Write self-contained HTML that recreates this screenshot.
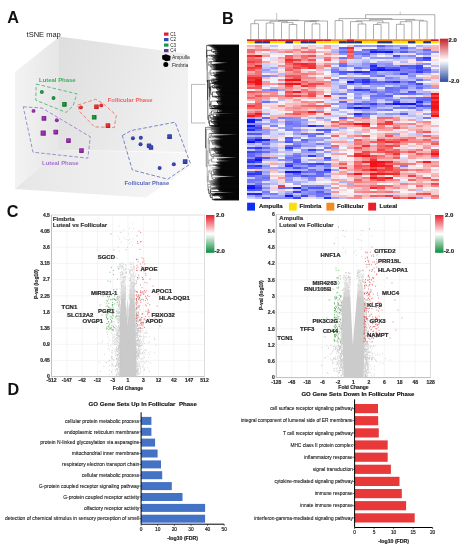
<!DOCTYPE html><html><head><meta charset="utf-8"><style>html,body{margin:0;padding:0;background:#fff;}svg{display:block;}</style></head><body><svg width="467" height="550" viewBox="0 0 467 550" style="filter:blur(0.35px)"><rect width="467" height="550" fill="#fff"/><g id="A"><defs><linearGradient id="gBack" x1="0" y1="0" x2="1" y2="0.3"><stop offset="0" stop-color="#dedede"/><stop offset="0.55" stop-color="#e8e8e8"/><stop offset="1" stop-color="#f1f1f1"/></linearGradient><linearGradient id="gLeft" x1="0" y1="0" x2="1" y2="0"><stop offset="0" stop-color="#f3f3f3"/><stop offset="1" stop-color="#e6e6e6"/></linearGradient><linearGradient id="gFloor" x1="0" y1="0" x2="1" y2="0"><stop offset="0" stop-color="#e6e6e6"/><stop offset="1" stop-color="#f7f7f7"/></linearGradient><radialGradient id="sR" cx="0.4" cy="0.4" r="0.65"><stop offset="0" stop-color="#f04040"/><stop offset="1" stop-color="#c81818"/></radialGradient><radialGradient id="sG" cx="0.4" cy="0.4" r="0.65"><stop offset="0" stop-color="#28a848"/><stop offset="1" stop-color="#0e6e2a"/></radialGradient><radialGradient id="sP" cx="0.4" cy="0.4" r="0.65"><stop offset="0" stop-color="#a838bc"/><stop offset="1" stop-color="#76208c"/></radialGradient><radialGradient id="sB" cx="0.4" cy="0.4" r="0.65"><stop offset="0" stop-color="#4050bc"/><stop offset="1" stop-color="#28349a"/></radialGradient></defs><polygon points="15,72 59,37 59,150 15,189" fill="url(#gLeft)"/><polygon points="59,36.5 188,54 188,152 59,150" fill="url(#gBack)"/><polygon points="15,189 59,150 188,153 188,168 146,197.5" fill="url(#gFloor)"/><text x="7.2" y="23.3" style="font-family:'Liberation Sans',Arial,sans-serif;font-weight:bold;font-size:16.2px" fill="#111">A</text><text x="26.6" y="37.2" style="font-family:'Liberation Sans',Arial,sans-serif;font-size:7.5px" fill="#222">tSNE map</text><polygon points="36.2,84.1 76.9,93.8 73,106 66,112.4 35.8,100.2" fill="none" stroke="#5cb880" stroke-width="0.95" stroke-dasharray="3.6,2"/><polygon points="77.7,105.1 95.7,99.3 103.4,103.8 116.3,115.3 114.3,127.6 94.4,126.9 79.6,111.5" fill="none" stroke="#ee7a7a" stroke-width="0.95" stroke-dasharray="3.6,2"/><polygon points="23.2,106.8 42,108 90.3,136.8 87.8,158.2 33,152.2" fill="none" stroke="#9a88c8" stroke-width="0.95" stroke-dasharray="3.6,2"/><polygon points="122.3,135.5 131.4,130.5 175.1,122.2 190.5,163.7 167.8,179.2 132.3,170" fill="none" stroke="#7080c0" stroke-width="0.95" stroke-dasharray="3.6,2"/><circle cx="41.8" cy="91.9" r="1.95" fill="url(#sG)"/><circle cx="53.5" cy="98" r="1.95" fill="url(#sG)"/><rect x="62.1" y="102.1" width="4.6" height="4.6" rx="0.6" fill="url(#sG)"/><circle cx="80.9" cy="107.4" r="1.95" fill="url(#sR)"/><rect x="94.1" y="104.4" width="4.6" height="4.6" rx="0.6" fill="url(#sR)"/><circle cx="101.2" cy="105.4" r="1.95" fill="url(#sR)"/><rect x="105.6" y="123.3" width="4.6" height="4.6" rx="0.6" fill="url(#sR)"/><rect x="91.9" y="115.0" width="4.6" height="4.6" rx="0.6" fill="url(#sG)"/><circle cx="33.5" cy="110.9" r="1.95" fill="url(#sP)"/><rect x="41.6" y="116.1" width="4.7" height="4.7" rx="0.6" fill="url(#sP)"/><circle cx="56.8" cy="120.2" r="1.95" fill="url(#sP)"/><rect x="40.6" y="130.6" width="5.2" height="5.2" rx="0.6" fill="url(#sP)"/><rect x="53.4" y="129.7" width="4.7" height="4.7" rx="0.6" fill="url(#sP)"/><rect x="66.1" y="138.2" width="4.7" height="4.7" rx="0.6" fill="url(#sP)"/><rect x="79.1" y="148.2" width="4.7" height="4.7" rx="0.6" fill="url(#sP)"/><circle cx="132.9" cy="138.2" r="2.0" fill="url(#sB)"/><circle cx="140.8" cy="137.7" r="2.0" fill="url(#sB)"/><circle cx="140.5" cy="144.2" r="2.0" fill="url(#sB)"/><rect x="146.8" y="143.4" width="4.5" height="4.5" rx="0.6" fill="url(#sB)"/><rect x="148.7" y="145.3" width="4.5" height="4.5" rx="0.6" fill="url(#sB)"/><rect x="167.2" y="134.3" width="4.7" height="4.7" rx="0.6" fill="url(#sB)"/><circle cx="159.6" cy="167.9" r="2.0" fill="url(#sB)"/><circle cx="173.8" cy="164.2" r="2.0" fill="url(#sB)"/><rect x="182.8" y="159.2" width="4.7" height="4.7" rx="0.6" fill="url(#sB)"/><text x="39" y="81.8" style="font-family:'Liberation Sans',Arial,sans-serif;font-weight:bold;font-size:5.95px" fill="#3cae64">Luteal Phase</text><text x="107.8" y="101.7" style="font-family:'Liberation Sans',Arial,sans-serif;font-weight:bold;font-size:5.85px" fill="#ec5f5f">Follicular Phase</text><text x="42" y="165.2" style="font-family:'Liberation Sans',Arial,sans-serif;font-weight:bold;font-size:5.95px" fill="#a474cc">Luteal Phase</text><text x="124.5" y="185.4" style="font-family:'Liberation Sans',Arial,sans-serif;font-weight:bold;font-size:5.85px" fill="#5566bc">Follicular Phase</text><rect x="164" y="32.5" width="4.5" height="3.2" fill="#d81e3c"/><text x="170.3" y="35.7" style="font-family:'Liberation Sans',Arial,sans-serif;font-size:4.6px" fill="#222">C1</text><rect x="164" y="38.0" width="4.5" height="3.2" fill="#2d4fb0"/><text x="170.3" y="41.2" style="font-family:'Liberation Sans',Arial,sans-serif;font-size:4.6px" fill="#222">C2</text><rect x="164" y="43.5" width="4.5" height="3.2" fill="#1a9a4a"/><text x="170.3" y="46.7" style="font-family:'Liberation Sans',Arial,sans-serif;font-size:4.6px" fill="#222">C3</text><rect x="164" y="49.0" width="4.5" height="3.2" fill="#6a2aa0"/><text x="170.3" y="52.2" style="font-family:'Liberation Sans',Arial,sans-serif;font-size:4.6px" fill="#222">C4</text><path d="M162,55.5 L166,54.2 L170.6,56 L170.2,60.4 L166,61.2 L162.3,59.2 Z" fill="#000"/><circle cx="165.8" cy="64.4" r="2.5" fill="#000"/><text x="172" y="59.2" style="font-family:'Liberation Sans',Arial,sans-serif;font-size:4.9px" fill="#222">Ampulla</text><text x="172" y="66.5" style="font-family:'Liberation Sans',Arial,sans-serif;font-size:4.9px" fill="#222">Fimbria</text></g><g id="B"><text x="222" y="23.5" style="font-family:'Liberation Sans',Arial,sans-serif;font-weight:bold;font-size:16.2px" fill="#111">B</text><g shape-rendering="crispEdges"><rect x="247.00" y="44.70" width="7.71" height="2.06" fill="#f7b5b7"/><rect x="254.66" y="44.70" width="7.71" height="2.06" fill="#f59295"/><rect x="262.33" y="44.70" width="7.71" height="2.06" fill="#f8dfe1"/><rect x="269.99" y="44.70" width="7.71" height="2.06" fill="#c3c5f9"/><rect x="277.66" y="44.70" width="7.71" height="2.06" fill="#f9f3f5"/><rect x="285.32" y="44.70" width="7.71" height="2.06" fill="#f7f7fb"/><rect x="292.98" y="44.70" width="7.71" height="2.06" fill="#f8d9db"/><rect x="300.65" y="44.70" width="7.71" height="2.06" fill="#ebebfb"/><rect x="308.31" y="44.70" width="7.71" height="2.06" fill="#f8cdd0"/><rect x="315.98" y="44.70" width="7.71" height="2.06" fill="#e9e9fb"/><rect x="323.64" y="44.70" width="7.71" height="2.06" fill="#f69fa2"/><rect x="331.30" y="44.70" width="7.71" height="2.06" fill="#d4d6fa"/><rect x="338.97" y="44.70" width="7.71" height="2.06" fill="#f9f6f8"/><rect x="346.63" y="44.70" width="7.71" height="2.06" fill="#f7c1c4"/><rect x="354.30" y="44.70" width="7.71" height="2.06" fill="#888cf6"/><rect x="361.96" y="44.70" width="7.71" height="2.06" fill="#9699f7"/><rect x="369.62" y="44.70" width="7.71" height="2.06" fill="#979af7"/><rect x="377.29" y="44.70" width="7.71" height="2.06" fill="#575cf3"/><rect x="384.95" y="44.70" width="7.71" height="2.06" fill="#8588f6"/><rect x="392.62" y="44.70" width="7.71" height="2.06" fill="#9ea1f7"/><rect x="400.28" y="44.70" width="7.71" height="2.06" fill="#a5a7f7"/><rect x="407.94" y="44.70" width="7.71" height="2.06" fill="#f2f2fb"/><rect x="415.61" y="44.70" width="7.71" height="2.06" fill="#a8abf7"/><rect x="423.27" y="44.70" width="7.71" height="2.06" fill="#c7c8f9"/><rect x="430.94" y="44.70" width="7.71" height="2.06" fill="#f7babd"/><rect x="247.00" y="46.71" width="7.71" height="2.06" fill="#f8dadc"/><rect x="254.66" y="46.71" width="7.71" height="2.06" fill="#f6a9ab"/><rect x="262.33" y="46.71" width="7.71" height="2.06" fill="#f8ccce"/><rect x="269.99" y="46.71" width="7.71" height="2.06" fill="#f9e9eb"/><rect x="277.66" y="46.71" width="7.71" height="2.06" fill="#f4f4fb"/><rect x="285.32" y="46.71" width="7.71" height="2.06" fill="#f9f9fb"/><rect x="292.98" y="46.71" width="7.71" height="2.06" fill="#f8d7d9"/><rect x="300.65" y="46.71" width="7.71" height="2.06" fill="#f48083"/><rect x="308.31" y="46.71" width="7.71" height="2.06" fill="#f8d4d6"/><rect x="315.98" y="46.71" width="7.71" height="2.06" fill="#f7bfc2"/><rect x="323.64" y="46.71" width="7.71" height="2.06" fill="#f6a0a3"/><rect x="331.30" y="46.71" width="7.71" height="2.06" fill="#f8dbde"/><rect x="338.97" y="46.71" width="7.71" height="2.06" fill="#5d63f4"/><rect x="346.63" y="46.71" width="7.71" height="2.06" fill="#f12e32"/><rect x="354.30" y="46.71" width="7.71" height="2.06" fill="#e3e3fa"/><rect x="361.96" y="46.71" width="7.71" height="2.06" fill="#f9e7e9"/><rect x="369.62" y="46.71" width="7.71" height="2.06" fill="#f2f3fb"/><rect x="377.29" y="46.71" width="7.71" height="2.06" fill="#9296f6"/><rect x="384.95" y="46.71" width="7.71" height="2.06" fill="#aaadf8"/><rect x="392.62" y="46.71" width="7.71" height="2.06" fill="#bdbff9"/><rect x="400.28" y="46.71" width="7.71" height="2.06" fill="#565cf3"/><rect x="407.94" y="46.71" width="7.71" height="2.06" fill="#9598f6"/><rect x="415.61" y="46.71" width="7.71" height="2.06" fill="#f8d5d7"/><rect x="423.27" y="46.71" width="7.71" height="2.06" fill="#f6a1a4"/><rect x="430.94" y="46.71" width="7.71" height="2.06" fill="#f6b2b5"/><rect x="247.00" y="48.72" width="7.71" height="2.06" fill="#f36d70"/><rect x="254.66" y="48.72" width="7.71" height="2.06" fill="#f5878a"/><rect x="262.33" y="48.72" width="7.71" height="2.06" fill="#f47b7e"/><rect x="269.99" y="48.72" width="7.71" height="2.06" fill="#f6a1a4"/><rect x="277.66" y="48.72" width="7.71" height="2.06" fill="#f7bcbf"/><rect x="285.32" y="48.72" width="7.71" height="2.06" fill="#f6abae"/><rect x="292.98" y="48.72" width="7.71" height="2.06" fill="#f5898c"/><rect x="300.65" y="48.72" width="7.71" height="2.06" fill="#f8cbce"/><rect x="308.31" y="48.72" width="7.71" height="2.06" fill="#f59295"/><rect x="315.98" y="48.72" width="7.71" height="2.06" fill="#f9f7f9"/><rect x="323.64" y="48.72" width="7.71" height="2.06" fill="#f9e8ea"/><rect x="331.30" y="48.72" width="7.71" height="2.06" fill="#babcf8"/><rect x="338.97" y="48.72" width="7.71" height="2.06" fill="#888cf6"/><rect x="346.63" y="48.72" width="7.71" height="2.06" fill="#f36569"/><rect x="354.30" y="48.72" width="7.71" height="2.06" fill="#e8e8fb"/><rect x="361.96" y="48.72" width="7.71" height="2.06" fill="#6a6ff4"/><rect x="369.62" y="48.72" width="7.71" height="2.06" fill="#494ff3"/><rect x="377.29" y="48.72" width="7.71" height="2.06" fill="#696ef4"/><rect x="384.95" y="48.72" width="7.71" height="2.06" fill="#7a7ef5"/><rect x="392.62" y="48.72" width="7.71" height="2.06" fill="#8c8ff6"/><rect x="400.28" y="48.72" width="7.71" height="2.06" fill="#8b8ef6"/><rect x="407.94" y="48.72" width="7.71" height="2.06" fill="#b4b6f8"/><rect x="415.61" y="48.72" width="7.71" height="2.06" fill="#9fa2f7"/><rect x="423.27" y="48.72" width="7.71" height="2.06" fill="#6368f4"/><rect x="430.94" y="48.72" width="7.71" height="2.06" fill="#f7b8bb"/><rect x="247.00" y="50.72" width="7.71" height="2.06" fill="#f3676a"/><rect x="254.66" y="50.72" width="7.71" height="2.06" fill="#f7cacd"/><rect x="262.33" y="50.72" width="7.71" height="2.06" fill="#f9f0f2"/><rect x="269.99" y="50.72" width="7.71" height="2.06" fill="#c3c5f9"/><rect x="277.66" y="50.72" width="7.71" height="2.06" fill="#f5999c"/><rect x="285.32" y="50.72" width="7.71" height="2.06" fill="#f47d80"/><rect x="292.98" y="50.72" width="7.71" height="2.06" fill="#f6b3b5"/><rect x="300.65" y="50.72" width="7.71" height="2.06" fill="#f36a6e"/><rect x="308.31" y="50.72" width="7.71" height="2.06" fill="#f3686b"/><rect x="315.98" y="50.72" width="7.71" height="2.06" fill="#f7b7ba"/><rect x="323.64" y="50.72" width="7.71" height="2.06" fill="#f7c3c6"/><rect x="331.30" y="50.72" width="7.71" height="2.06" fill="#adb0f8"/><rect x="338.97" y="50.72" width="7.71" height="2.06" fill="#696ef4"/><rect x="346.63" y="50.72" width="7.71" height="2.06" fill="#f24347"/><rect x="354.30" y="50.72" width="7.71" height="2.06" fill="#7a7ef5"/><rect x="361.96" y="50.72" width="7.71" height="2.06" fill="#888cf6"/><rect x="369.62" y="50.72" width="7.71" height="2.06" fill="#171ef0"/><rect x="377.29" y="50.72" width="7.71" height="2.06" fill="#1d25f0"/><rect x="384.95" y="50.72" width="7.71" height="2.06" fill="#0c14f0"/><rect x="392.62" y="50.72" width="7.71" height="2.06" fill="#8d91f6"/><rect x="400.28" y="50.72" width="7.71" height="2.06" fill="#565cf3"/><rect x="407.94" y="50.72" width="7.71" height="2.06" fill="#878bf6"/><rect x="415.61" y="50.72" width="7.71" height="2.06" fill="#abadf8"/><rect x="423.27" y="50.72" width="7.71" height="2.06" fill="#8f93f6"/><rect x="430.94" y="50.72" width="7.71" height="2.06" fill="#8e92f6"/><rect x="247.00" y="52.73" width="7.71" height="2.06" fill="#f6acae"/><rect x="254.66" y="52.73" width="7.71" height="2.06" fill="#f8d7d9"/><rect x="262.33" y="52.73" width="7.71" height="2.06" fill="#f7c6c9"/><rect x="269.99" y="52.73" width="7.71" height="2.06" fill="#f9e3e6"/><rect x="277.66" y="52.73" width="7.71" height="2.06" fill="#e6e7fb"/><rect x="285.32" y="52.73" width="7.71" height="2.06" fill="#f9f6f8"/><rect x="292.98" y="52.73" width="7.71" height="2.06" fill="#f7bec0"/><rect x="300.65" y="52.73" width="7.71" height="2.06" fill="#f7cbcd"/><rect x="308.31" y="52.73" width="7.71" height="2.06" fill="#f7c1c3"/><rect x="315.98" y="52.73" width="7.71" height="2.06" fill="#f7f7fb"/><rect x="323.64" y="52.73" width="7.71" height="2.06" fill="#f59295"/><rect x="331.30" y="52.73" width="7.71" height="2.06" fill="#f6b1b3"/><rect x="338.97" y="52.73" width="7.71" height="2.06" fill="#8c90f6"/><rect x="346.63" y="52.73" width="7.71" height="2.06" fill="#f4787b"/><rect x="354.30" y="52.73" width="7.71" height="2.06" fill="#797df5"/><rect x="361.96" y="52.73" width="7.71" height="2.06" fill="#6469f4"/><rect x="369.62" y="52.73" width="7.71" height="2.06" fill="#9fa2f7"/><rect x="377.29" y="52.73" width="7.71" height="2.06" fill="#cccdf9"/><rect x="384.95" y="52.73" width="7.71" height="2.06" fill="#adaff8"/><rect x="392.62" y="52.73" width="7.71" height="2.06" fill="#dddefa"/><rect x="400.28" y="52.73" width="7.71" height="2.06" fill="#e4e5fb"/><rect x="407.94" y="52.73" width="7.71" height="2.06" fill="#f8dbde"/><rect x="415.61" y="52.73" width="7.71" height="2.06" fill="#888bf6"/><rect x="423.27" y="52.73" width="7.71" height="2.06" fill="#7c80f5"/><rect x="430.94" y="52.73" width="7.71" height="2.06" fill="#edeefb"/><rect x="247.00" y="54.74" width="7.71" height="2.06" fill="#f13034"/><rect x="254.66" y="54.74" width="7.71" height="2.06" fill="#f01216"/><rect x="262.33" y="54.74" width="7.71" height="2.06" fill="#f59598"/><rect x="269.99" y="54.74" width="7.71" height="2.06" fill="#f7f7fb"/><rect x="277.66" y="54.74" width="7.71" height="2.06" fill="#f9ecee"/><rect x="285.32" y="54.74" width="7.71" height="2.06" fill="#f35d60"/><rect x="292.98" y="54.74" width="7.71" height="2.06" fill="#f59a9c"/><rect x="300.65" y="54.74" width="7.71" height="2.06" fill="#f3696c"/><rect x="308.31" y="54.74" width="7.71" height="2.06" fill="#f24d50"/><rect x="315.98" y="54.74" width="7.71" height="2.06" fill="#f7bfc1"/><rect x="323.64" y="54.74" width="7.71" height="2.06" fill="#f8ced1"/><rect x="331.30" y="54.74" width="7.71" height="2.06" fill="#f9eaec"/><rect x="338.97" y="54.74" width="7.71" height="2.06" fill="#f9f3f5"/><rect x="346.63" y="54.74" width="7.71" height="2.06" fill="#f35c5f"/><rect x="354.30" y="54.74" width="7.71" height="2.06" fill="#adb0f8"/><rect x="361.96" y="54.74" width="7.71" height="2.06" fill="#8689f6"/><rect x="369.62" y="54.74" width="7.71" height="2.06" fill="#c5c6f9"/><rect x="377.29" y="54.74" width="7.71" height="2.06" fill="#f9f8fa"/><rect x="384.95" y="54.74" width="7.71" height="2.06" fill="#dedffa"/><rect x="392.62" y="54.74" width="7.71" height="2.06" fill="#444af2"/><rect x="400.28" y="54.74" width="7.71" height="2.06" fill="#979bf7"/><rect x="407.94" y="54.74" width="7.71" height="2.06" fill="#868af6"/><rect x="415.61" y="54.74" width="7.71" height="2.06" fill="#f9f5f8"/><rect x="423.27" y="54.74" width="7.71" height="2.06" fill="#c5c7f9"/><rect x="430.94" y="54.74" width="7.71" height="2.06" fill="#f8dadc"/><rect x="247.00" y="56.75" width="7.71" height="2.06" fill="#f36d70"/><rect x="254.66" y="56.75" width="7.71" height="2.06" fill="#f58d90"/><rect x="262.33" y="56.75" width="7.71" height="2.06" fill="#ededfb"/><rect x="269.99" y="56.75" width="7.71" height="2.06" fill="#dedffa"/><rect x="277.66" y="56.75" width="7.71" height="2.06" fill="#f6a4a7"/><rect x="285.32" y="56.75" width="7.71" height="2.06" fill="#f36366"/><rect x="292.98" y="56.75" width="7.71" height="2.06" fill="#f6acaf"/><rect x="300.65" y="56.75" width="7.71" height="2.06" fill="#f47376"/><rect x="308.31" y="56.75" width="7.71" height="2.06" fill="#f6a9ac"/><rect x="315.98" y="56.75" width="7.71" height="2.06" fill="#c7c9f9"/><rect x="323.64" y="56.75" width="7.71" height="2.06" fill="#f4777a"/><rect x="331.30" y="56.75" width="7.71" height="2.06" fill="#f6b0b3"/><rect x="338.97" y="56.75" width="7.71" height="2.06" fill="#7176f5"/><rect x="346.63" y="56.75" width="7.71" height="2.06" fill="#f36a6d"/><rect x="354.30" y="56.75" width="7.71" height="2.06" fill="#9c9ff7"/><rect x="361.96" y="56.75" width="7.71" height="2.06" fill="#e8e8fb"/><rect x="369.62" y="56.75" width="7.71" height="2.06" fill="#9699f7"/><rect x="377.29" y="56.75" width="7.71" height="2.06" fill="#9295f6"/><rect x="384.95" y="56.75" width="7.71" height="2.06" fill="#9396f6"/><rect x="392.62" y="56.75" width="7.71" height="2.06" fill="#9598f6"/><rect x="400.28" y="56.75" width="7.71" height="2.06" fill="#b3b5f8"/><rect x="407.94" y="56.75" width="7.71" height="2.06" fill="#aeb0f8"/><rect x="415.61" y="56.75" width="7.71" height="2.06" fill="#666bf4"/><rect x="423.27" y="56.75" width="7.71" height="2.06" fill="#353bf2"/><rect x="430.94" y="56.75" width="7.71" height="2.06" fill="#f9f5f7"/><rect x="247.00" y="58.75" width="7.71" height="2.06" fill="#f36164"/><rect x="254.66" y="58.75" width="7.71" height="2.06" fill="#f35b5f"/><rect x="262.33" y="58.75" width="7.71" height="2.06" fill="#f9f4f6"/><rect x="269.99" y="58.75" width="7.71" height="2.06" fill="#f8d5d7"/><rect x="277.66" y="58.75" width="7.71" height="2.06" fill="#f7c7ca"/><rect x="285.32" y="58.75" width="7.71" height="2.06" fill="#f0292c"/><rect x="292.98" y="58.75" width="7.71" height="2.06" fill="#f14043"/><rect x="300.65" y="58.75" width="7.71" height="2.06" fill="#f5878a"/><rect x="308.31" y="58.75" width="7.71" height="2.06" fill="#f25154"/><rect x="315.98" y="58.75" width="7.71" height="2.06" fill="#f9eef0"/><rect x="323.64" y="58.75" width="7.71" height="2.06" fill="#f36165"/><rect x="331.30" y="58.75" width="7.71" height="2.06" fill="#e0e1fa"/><rect x="338.97" y="58.75" width="7.71" height="2.06" fill="#f69fa2"/><rect x="346.63" y="58.75" width="7.71" height="2.06" fill="#dcddfa"/><rect x="354.30" y="58.75" width="7.71" height="2.06" fill="#d0d2fa"/><rect x="361.96" y="58.75" width="7.71" height="2.06" fill="#c2c4f9"/><rect x="369.62" y="58.75" width="7.71" height="2.06" fill="#e3e4fa"/><rect x="377.29" y="58.75" width="7.71" height="2.06" fill="#e7e8fb"/><rect x="384.95" y="58.75" width="7.71" height="2.06" fill="#dadbfa"/><rect x="392.62" y="58.75" width="7.71" height="2.06" fill="#c6c7f9"/><rect x="400.28" y="58.75" width="7.71" height="2.06" fill="#d0d1f9"/><rect x="407.94" y="58.75" width="7.71" height="2.06" fill="#f9e4e6"/><rect x="415.61" y="58.75" width="7.71" height="2.06" fill="#676cf4"/><rect x="423.27" y="58.75" width="7.71" height="2.06" fill="#4f55f3"/><rect x="430.94" y="58.75" width="7.71" height="2.06" fill="#f8dee1"/><rect x="247.00" y="60.76" width="7.71" height="2.06" fill="#f13d41"/><rect x="254.66" y="60.76" width="7.71" height="2.06" fill="#f25559"/><rect x="262.33" y="60.76" width="7.71" height="2.06" fill="#f6a5a8"/><rect x="269.99" y="60.76" width="7.71" height="2.06" fill="#f9e4e6"/><rect x="277.66" y="60.76" width="7.71" height="2.06" fill="#f7c0c2"/><rect x="285.32" y="60.76" width="7.71" height="2.06" fill="#f24549"/><rect x="292.98" y="60.76" width="7.71" height="2.06" fill="#f58689"/><rect x="300.65" y="60.76" width="7.71" height="2.06" fill="#f6b2b5"/><rect x="308.31" y="60.76" width="7.71" height="2.06" fill="#f5979a"/><rect x="315.98" y="60.76" width="7.71" height="2.06" fill="#f9e4e6"/><rect x="323.64" y="60.76" width="7.71" height="2.06" fill="#f8dcde"/><rect x="331.30" y="60.76" width="7.71" height="2.06" fill="#f9ebee"/><rect x="338.97" y="60.76" width="7.71" height="2.06" fill="#f5898c"/><rect x="346.63" y="60.76" width="7.71" height="2.06" fill="#d2d4fa"/><rect x="354.30" y="60.76" width="7.71" height="2.06" fill="#cfd0f9"/><rect x="361.96" y="60.76" width="7.71" height="2.06" fill="#abaef8"/><rect x="369.62" y="60.76" width="7.71" height="2.06" fill="#e8e8fb"/><rect x="377.29" y="60.76" width="7.71" height="2.06" fill="#abadf8"/><rect x="384.95" y="60.76" width="7.71" height="2.06" fill="#b3b5f8"/><rect x="392.62" y="60.76" width="7.71" height="2.06" fill="#f9e4e6"/><rect x="400.28" y="60.76" width="7.71" height="2.06" fill="#b8baf8"/><rect x="407.94" y="60.76" width="7.71" height="2.06" fill="#f9e9eb"/><rect x="415.61" y="60.76" width="7.71" height="2.06" fill="#f7c6c9"/><rect x="423.27" y="60.76" width="7.71" height="2.06" fill="#f9f7f9"/><rect x="430.94" y="60.76" width="7.71" height="2.06" fill="#eeeefb"/><rect x="247.00" y="62.77" width="7.71" height="2.06" fill="#f3686c"/><rect x="254.66" y="62.77" width="7.71" height="2.06" fill="#f47f82"/><rect x="262.33" y="62.77" width="7.71" height="2.06" fill="#cfd1f9"/><rect x="269.99" y="62.77" width="7.71" height="2.06" fill="#d9dafa"/><rect x="277.66" y="62.77" width="7.71" height="2.06" fill="#f8e2e4"/><rect x="285.32" y="62.77" width="7.71" height="2.06" fill="#f36e71"/><rect x="292.98" y="62.77" width="7.71" height="2.06" fill="#f13236"/><rect x="300.65" y="62.77" width="7.71" height="2.06" fill="#f02428"/><rect x="308.31" y="62.77" width="7.71" height="2.06" fill="#f13c3f"/><rect x="315.98" y="62.77" width="7.71" height="2.06" fill="#f7c7c9"/><rect x="323.64" y="62.77" width="7.71" height="2.06" fill="#f58e91"/><rect x="331.30" y="62.77" width="7.71" height="2.06" fill="#afb1f8"/><rect x="338.97" y="62.77" width="7.71" height="2.06" fill="#6b70f4"/><rect x="346.63" y="62.77" width="7.71" height="2.06" fill="#c0c2f9"/><rect x="354.30" y="62.77" width="7.71" height="2.06" fill="#b3b5f8"/><rect x="361.96" y="62.77" width="7.71" height="2.06" fill="#8e91f6"/><rect x="369.62" y="62.77" width="7.71" height="2.06" fill="#6166f4"/><rect x="377.29" y="62.77" width="7.71" height="2.06" fill="#9598f6"/><rect x="384.95" y="62.77" width="7.71" height="2.06" fill="#8d90f6"/><rect x="392.62" y="62.77" width="7.71" height="2.06" fill="#e0e1fa"/><rect x="400.28" y="62.77" width="7.71" height="2.06" fill="#f8d3d5"/><rect x="407.94" y="62.77" width="7.71" height="2.06" fill="#d3d4fa"/><rect x="415.61" y="62.77" width="7.71" height="2.06" fill="#9a9df7"/><rect x="423.27" y="62.77" width="7.71" height="2.06" fill="#8a8ef6"/><rect x="430.94" y="62.77" width="7.71" height="2.06" fill="#f9e7ea"/><rect x="247.00" y="64.78" width="7.71" height="2.06" fill="#f47578"/><rect x="254.66" y="64.78" width="7.71" height="2.06" fill="#f01f23"/><rect x="262.33" y="64.78" width="7.71" height="2.06" fill="#cecff9"/><rect x="269.99" y="64.78" width="7.71" height="2.06" fill="#dedefa"/><rect x="277.66" y="64.78" width="7.71" height="2.06" fill="#f58c8f"/><rect x="285.32" y="64.78" width="7.71" height="2.06" fill="#f58689"/><rect x="292.98" y="64.78" width="7.71" height="2.06" fill="#f2575a"/><rect x="300.65" y="64.78" width="7.71" height="2.06" fill="#f13438"/><rect x="308.31" y="64.78" width="7.71" height="2.06" fill="#f13135"/><rect x="315.98" y="64.78" width="7.71" height="2.06" fill="#f69ea1"/><rect x="323.64" y="64.78" width="7.71" height="2.06" fill="#f3676a"/><rect x="331.30" y="64.78" width="7.71" height="2.06" fill="#e6e7fb"/><rect x="338.97" y="64.78" width="7.71" height="2.06" fill="#6368f4"/><rect x="346.63" y="64.78" width="7.71" height="2.06" fill="#9094f6"/><rect x="354.30" y="64.78" width="7.71" height="2.06" fill="#abaef8"/><rect x="361.96" y="64.78" width="7.71" height="2.06" fill="#999cf7"/><rect x="369.62" y="64.78" width="7.71" height="2.06" fill="#2027f1"/><rect x="377.29" y="64.78" width="7.71" height="2.06" fill="#9ea1f7"/><rect x="384.95" y="64.78" width="7.71" height="2.06" fill="#868af6"/><rect x="392.62" y="64.78" width="7.71" height="2.06" fill="#9296f6"/><rect x="400.28" y="64.78" width="7.71" height="2.06" fill="#4f55f3"/><rect x="407.94" y="64.78" width="7.71" height="2.06" fill="#585df3"/><rect x="415.61" y="64.78" width="7.71" height="2.06" fill="#3f45f2"/><rect x="423.27" y="64.78" width="7.71" height="2.06" fill="#ebecfb"/><rect x="430.94" y="64.78" width="7.71" height="2.06" fill="#b8baf8"/><rect x="247.00" y="66.79" width="7.71" height="2.06" fill="#f1383c"/><rect x="254.66" y="66.79" width="7.71" height="2.06" fill="#f24347"/><rect x="262.33" y="66.79" width="7.71" height="2.06" fill="#c0c2f9"/><rect x="269.99" y="66.79" width="7.71" height="2.06" fill="#a3a6f7"/><rect x="277.66" y="66.79" width="7.71" height="2.06" fill="#d9dafa"/><rect x="285.32" y="66.79" width="7.71" height="2.06" fill="#f47276"/><rect x="292.98" y="66.79" width="7.71" height="2.06" fill="#f24346"/><rect x="300.65" y="66.79" width="7.71" height="2.06" fill="#f36366"/><rect x="308.31" y="66.79" width="7.71" height="2.06" fill="#f12e32"/><rect x="315.98" y="66.79" width="7.71" height="2.06" fill="#f5999c"/><rect x="323.64" y="66.79" width="7.71" height="2.06" fill="#e9e9fb"/><rect x="331.30" y="66.79" width="7.71" height="2.06" fill="#999cf7"/><rect x="338.97" y="66.79" width="7.71" height="2.06" fill="#c5c7f9"/><rect x="346.63" y="66.79" width="7.71" height="2.06" fill="#e7e7fb"/><rect x="354.30" y="66.79" width="7.71" height="2.06" fill="#6569f4"/><rect x="361.96" y="66.79" width="7.71" height="2.06" fill="#8c90f6"/><rect x="369.62" y="66.79" width="7.71" height="2.06" fill="#363df2"/><rect x="377.29" y="66.79" width="7.71" height="2.06" fill="#2229f1"/><rect x="384.95" y="66.79" width="7.71" height="2.06" fill="#5c61f4"/><rect x="392.62" y="66.79" width="7.71" height="2.06" fill="#5157f3"/><rect x="400.28" y="66.79" width="7.71" height="2.06" fill="#6f73f5"/><rect x="407.94" y="66.79" width="7.71" height="2.06" fill="#5b61f4"/><rect x="415.61" y="66.79" width="7.71" height="2.06" fill="#3b41f2"/><rect x="423.27" y="66.79" width="7.71" height="2.06" fill="#7f83f5"/><rect x="430.94" y="66.79" width="7.71" height="2.06" fill="#f9edef"/><rect x="247.00" y="68.79" width="7.71" height="2.06" fill="#f25256"/><rect x="254.66" y="68.79" width="7.71" height="2.06" fill="#f48083"/><rect x="262.33" y="68.79" width="7.71" height="2.06" fill="#9a9df7"/><rect x="269.99" y="68.79" width="7.71" height="2.06" fill="#cdcef9"/><rect x="277.66" y="68.79" width="7.71" height="2.06" fill="#f9eaed"/><rect x="285.32" y="68.79" width="7.71" height="2.06" fill="#f35c60"/><rect x="292.98" y="68.79" width="7.71" height="2.06" fill="#f58a8d"/><rect x="300.65" y="68.79" width="7.71" height="2.06" fill="#f8e0e2"/><rect x="308.31" y="68.79" width="7.71" height="2.06" fill="#f5f5fb"/><rect x="315.98" y="68.79" width="7.71" height="2.06" fill="#f7b8ba"/><rect x="323.64" y="68.79" width="7.71" height="2.06" fill="#c5c7f9"/><rect x="331.30" y="68.79" width="7.71" height="2.06" fill="#797df5"/><rect x="338.97" y="68.79" width="7.71" height="2.06" fill="#b8baf8"/><rect x="346.63" y="68.79" width="7.71" height="2.06" fill="#ececfb"/><rect x="354.30" y="68.79" width="7.71" height="2.06" fill="#c2c4f9"/><rect x="361.96" y="68.79" width="7.71" height="2.06" fill="#f9eaed"/><rect x="369.62" y="68.79" width="7.71" height="2.06" fill="#1e25f0"/><rect x="377.29" y="68.79" width="7.71" height="2.06" fill="#0c14f0"/><rect x="384.95" y="68.79" width="7.71" height="2.06" fill="#232af1"/><rect x="392.62" y="68.79" width="7.71" height="2.06" fill="#262df1"/><rect x="400.28" y="68.79" width="7.71" height="2.06" fill="#777cf5"/><rect x="407.94" y="68.79" width="7.71" height="2.06" fill="#7e82f5"/><rect x="415.61" y="68.79" width="7.71" height="2.06" fill="#4c52f3"/><rect x="423.27" y="68.79" width="7.71" height="2.06" fill="#595ef3"/><rect x="430.94" y="68.79" width="7.71" height="2.06" fill="#b7b9f8"/><rect x="247.00" y="70.80" width="7.71" height="2.06" fill="#f6a8ab"/><rect x="254.66" y="70.80" width="7.71" height="2.06" fill="#f46f72"/><rect x="262.33" y="70.80" width="7.71" height="2.06" fill="#b3b5f8"/><rect x="269.99" y="70.80" width="7.71" height="2.06" fill="#b1b3f8"/><rect x="277.66" y="70.80" width="7.71" height="2.06" fill="#f8dee0"/><rect x="285.32" y="70.80" width="7.71" height="2.06" fill="#f6a1a3"/><rect x="292.98" y="70.80" width="7.71" height="2.06" fill="#f47073"/><rect x="300.65" y="70.80" width="7.71" height="2.06" fill="#f8ccce"/><rect x="308.31" y="70.80" width="7.71" height="2.06" fill="#f69da0"/><rect x="315.98" y="70.80" width="7.71" height="2.06" fill="#f8d2d5"/><rect x="323.64" y="70.80" width="7.71" height="2.06" fill="#f5f5fb"/><rect x="331.30" y="70.80" width="7.71" height="2.06" fill="#6f74f5"/><rect x="338.97" y="70.80" width="7.71" height="2.06" fill="#5055f3"/><rect x="346.63" y="70.80" width="7.71" height="2.06" fill="#4a4ff3"/><rect x="354.30" y="70.80" width="7.71" height="2.06" fill="#1e26f0"/><rect x="361.96" y="70.80" width="7.71" height="2.06" fill="#343bf2"/><rect x="369.62" y="70.80" width="7.71" height="2.06" fill="#787cf5"/><rect x="377.29" y="70.80" width="7.71" height="2.06" fill="#b8baf8"/><rect x="384.95" y="70.80" width="7.71" height="2.06" fill="#a1a4f7"/><rect x="392.62" y="70.80" width="7.71" height="2.06" fill="#9195f6"/><rect x="400.28" y="70.80" width="7.71" height="2.06" fill="#8084f5"/><rect x="407.94" y="70.80" width="7.71" height="2.06" fill="#6f74f5"/><rect x="415.61" y="70.80" width="7.71" height="2.06" fill="#343bf2"/><rect x="423.27" y="70.80" width="7.71" height="2.06" fill="#6d72f4"/><rect x="430.94" y="70.80" width="7.71" height="2.06" fill="#9b9ef7"/><rect x="247.00" y="72.81" width="7.71" height="2.06" fill="#f59093"/><rect x="254.66" y="72.81" width="7.71" height="2.06" fill="#f47578"/><rect x="262.33" y="72.81" width="7.71" height="2.06" fill="#f9e7e9"/><rect x="269.99" y="72.81" width="7.71" height="2.06" fill="#f8ced0"/><rect x="277.66" y="72.81" width="7.71" height="2.06" fill="#b8baf8"/><rect x="285.32" y="72.81" width="7.71" height="2.06" fill="#f59295"/><rect x="292.98" y="72.81" width="7.71" height="2.06" fill="#f58b8e"/><rect x="300.65" y="72.81" width="7.71" height="2.06" fill="#f47679"/><rect x="308.31" y="72.81" width="7.71" height="2.06" fill="#f5878a"/><rect x="315.98" y="72.81" width="7.71" height="2.06" fill="#f6b0b3"/><rect x="323.64" y="72.81" width="7.71" height="2.06" fill="#f9f7f9"/><rect x="331.30" y="72.81" width="7.71" height="2.06" fill="#c6c8f9"/><rect x="338.97" y="72.81" width="7.71" height="2.06" fill="#686df4"/><rect x="346.63" y="72.81" width="7.71" height="2.06" fill="#c0c2f9"/><rect x="354.30" y="72.81" width="7.71" height="2.06" fill="#9c9ff7"/><rect x="361.96" y="72.81" width="7.71" height="2.06" fill="#6e73f5"/><rect x="369.62" y="72.81" width="7.71" height="2.06" fill="#8084f5"/><rect x="377.29" y="72.81" width="7.71" height="2.06" fill="#a3a6f7"/><rect x="384.95" y="72.81" width="7.71" height="2.06" fill="#a0a3f7"/><rect x="392.62" y="72.81" width="7.71" height="2.06" fill="#8488f6"/><rect x="400.28" y="72.81" width="7.71" height="2.06" fill="#4148f2"/><rect x="407.94" y="72.81" width="7.71" height="2.06" fill="#979af7"/><rect x="415.61" y="72.81" width="7.71" height="2.06" fill="#a9abf7"/><rect x="423.27" y="72.81" width="7.71" height="2.06" fill="#c0c2f9"/><rect x="430.94" y="72.81" width="7.71" height="2.06" fill="#f9ecee"/><rect x="247.00" y="74.82" width="7.71" height="2.06" fill="#f35b5e"/><rect x="254.66" y="74.82" width="7.71" height="2.06" fill="#f36063"/><rect x="262.33" y="74.82" width="7.71" height="2.06" fill="#7c80f5"/><rect x="269.99" y="74.82" width="7.71" height="2.06" fill="#9295f6"/><rect x="277.66" y="74.82" width="7.71" height="2.06" fill="#f6afb2"/><rect x="285.32" y="74.82" width="7.71" height="2.06" fill="#f3575b"/><rect x="292.98" y="74.82" width="7.71" height="2.06" fill="#f35c5f"/><rect x="300.65" y="74.82" width="7.71" height="2.06" fill="#f58c8f"/><rect x="308.31" y="74.82" width="7.71" height="2.06" fill="#f8d3d5"/><rect x="315.98" y="74.82" width="7.71" height="2.06" fill="#f3f3fb"/><rect x="323.64" y="74.82" width="7.71" height="2.06" fill="#f8d7da"/><rect x="331.30" y="74.82" width="7.71" height="2.06" fill="#c5c7f9"/><rect x="338.97" y="74.82" width="7.71" height="2.06" fill="#f2f3fb"/><rect x="346.63" y="74.82" width="7.71" height="2.06" fill="#f7cacd"/><rect x="354.30" y="74.82" width="7.71" height="2.06" fill="#e8e9fb"/><rect x="361.96" y="74.82" width="7.71" height="2.06" fill="#f9f2f4"/><rect x="369.62" y="74.82" width="7.71" height="2.06" fill="#8084f5"/><rect x="377.29" y="74.82" width="7.71" height="2.06" fill="#676cf4"/><rect x="384.95" y="74.82" width="7.71" height="2.06" fill="#c1c3f9"/><rect x="392.62" y="74.82" width="7.71" height="2.06" fill="#c2c4f9"/><rect x="400.28" y="74.82" width="7.71" height="2.06" fill="#d0d1f9"/><rect x="407.94" y="74.82" width="7.71" height="2.06" fill="#8589f6"/><rect x="415.61" y="74.82" width="7.71" height="2.06" fill="#f9f3f5"/><rect x="423.27" y="74.82" width="7.71" height="2.06" fill="#f8dfe1"/><rect x="430.94" y="74.82" width="7.71" height="2.06" fill="#f7b7ba"/><rect x="247.00" y="76.82" width="7.71" height="2.06" fill="#f12b2f"/><rect x="254.66" y="76.82" width="7.71" height="2.06" fill="#f12c2f"/><rect x="262.33" y="76.82" width="7.71" height="2.06" fill="#f7b8bb"/><rect x="269.99" y="76.82" width="7.71" height="2.06" fill="#f9ebed"/><rect x="277.66" y="76.82" width="7.71" height="2.06" fill="#f1f1fb"/><rect x="285.32" y="76.82" width="7.71" height="2.06" fill="#f47f82"/><rect x="292.98" y="76.82" width="7.71" height="2.06" fill="#f25053"/><rect x="300.65" y="76.82" width="7.71" height="2.06" fill="#f5878a"/><rect x="308.31" y="76.82" width="7.71" height="2.06" fill="#f58689"/><rect x="315.98" y="76.82" width="7.71" height="2.06" fill="#f7c5c7"/><rect x="323.64" y="76.82" width="7.71" height="2.06" fill="#f4777a"/><rect x="331.30" y="76.82" width="7.71" height="2.06" fill="#efeffb"/><rect x="338.97" y="76.82" width="7.71" height="2.06" fill="#888cf6"/><rect x="346.63" y="76.82" width="7.71" height="2.06" fill="#999cf7"/><rect x="354.30" y="76.82" width="7.71" height="2.06" fill="#9396f6"/><rect x="361.96" y="76.82" width="7.71" height="2.06" fill="#8f92f6"/><rect x="369.62" y="76.82" width="7.71" height="2.06" fill="#d3d4fa"/><rect x="377.29" y="76.82" width="7.71" height="2.06" fill="#dddefa"/><rect x="384.95" y="76.82" width="7.71" height="2.06" fill="#7d81f5"/><rect x="392.62" y="76.82" width="7.71" height="2.06" fill="#979af7"/><rect x="400.28" y="76.82" width="7.71" height="2.06" fill="#c8c9f9"/><rect x="407.94" y="76.82" width="7.71" height="2.06" fill="#a4a7f7"/><rect x="415.61" y="76.82" width="7.71" height="2.06" fill="#b4b6f8"/><rect x="423.27" y="76.82" width="7.71" height="2.06" fill="#f7bdbf"/><rect x="430.94" y="76.82" width="7.71" height="2.06" fill="#f6adaf"/><rect x="247.00" y="78.83" width="7.71" height="2.06" fill="#f13a3e"/><rect x="254.66" y="78.83" width="7.71" height="2.06" fill="#f01216"/><rect x="262.33" y="78.83" width="7.71" height="2.06" fill="#e6e7fb"/><rect x="269.99" y="78.83" width="7.71" height="2.06" fill="#eeeefb"/><rect x="277.66" y="78.83" width="7.71" height="2.06" fill="#f48588"/><rect x="285.32" y="78.83" width="7.71" height="2.06" fill="#f01216"/><rect x="292.98" y="78.83" width="7.71" height="2.06" fill="#f01216"/><rect x="300.65" y="78.83" width="7.71" height="2.06" fill="#f6a2a5"/><rect x="308.31" y="78.83" width="7.71" height="2.06" fill="#f6a0a3"/><rect x="315.98" y="78.83" width="7.71" height="2.06" fill="#f7b7b9"/><rect x="323.64" y="78.83" width="7.71" height="2.06" fill="#f9f4f6"/><rect x="331.30" y="78.83" width="7.71" height="2.06" fill="#7c81f5"/><rect x="338.97" y="78.83" width="7.71" height="2.06" fill="#d3d4fa"/><rect x="346.63" y="78.83" width="7.71" height="2.06" fill="#afb2f8"/><rect x="354.30" y="78.83" width="7.71" height="2.06" fill="#585ef3"/><rect x="361.96" y="78.83" width="7.71" height="2.06" fill="#353bf2"/><rect x="369.62" y="78.83" width="7.71" height="2.06" fill="#7b7ff5"/><rect x="377.29" y="78.83" width="7.71" height="2.06" fill="#cdcef9"/><rect x="384.95" y="78.83" width="7.71" height="2.06" fill="#999cf7"/><rect x="392.62" y="78.83" width="7.71" height="2.06" fill="#9a9ef7"/><rect x="400.28" y="78.83" width="7.71" height="2.06" fill="#a8abf7"/><rect x="407.94" y="78.83" width="7.71" height="2.06" fill="#bcbef8"/><rect x="415.61" y="78.83" width="7.71" height="2.06" fill="#666bf4"/><rect x="423.27" y="78.83" width="7.71" height="2.06" fill="#a4a6f7"/><rect x="430.94" y="78.83" width="7.71" height="2.06" fill="#dfe0fa"/><rect x="247.00" y="80.84" width="7.71" height="2.06" fill="#f01c20"/><rect x="254.66" y="80.84" width="7.71" height="2.06" fill="#f01216"/><rect x="262.33" y="80.84" width="7.71" height="2.06" fill="#f59b9e"/><rect x="269.99" y="80.84" width="7.71" height="2.06" fill="#f9f3f5"/><rect x="277.66" y="80.84" width="7.71" height="2.06" fill="#dedffa"/><rect x="285.32" y="80.84" width="7.71" height="2.06" fill="#f36b6e"/><rect x="292.98" y="80.84" width="7.71" height="2.06" fill="#f47d80"/><rect x="300.65" y="80.84" width="7.71" height="2.06" fill="#f36568"/><rect x="308.31" y="80.84" width="7.71" height="2.06" fill="#f5979a"/><rect x="315.98" y="80.84" width="7.71" height="2.06" fill="#f5888b"/><rect x="323.64" y="80.84" width="7.71" height="2.06" fill="#f58a8d"/><rect x="331.30" y="80.84" width="7.71" height="2.06" fill="#c0c1f9"/><rect x="338.97" y="80.84" width="7.71" height="2.06" fill="#e9e9fb"/><rect x="346.63" y="80.84" width="7.71" height="2.06" fill="#0e16f0"/><rect x="354.30" y="80.84" width="7.71" height="2.06" fill="#4e54f3"/><rect x="361.96" y="80.84" width="7.71" height="2.06" fill="#2930f1"/><rect x="369.62" y="80.84" width="7.71" height="2.06" fill="#5a60f4"/><rect x="377.29" y="80.84" width="7.71" height="2.06" fill="#6469f4"/><rect x="384.95" y="80.84" width="7.71" height="2.06" fill="#4147f2"/><rect x="392.62" y="80.84" width="7.71" height="2.06" fill="#252cf1"/><rect x="400.28" y="80.84" width="7.71" height="2.06" fill="#757af5"/><rect x="407.94" y="80.84" width="7.71" height="2.06" fill="#4f55f3"/><rect x="415.61" y="80.84" width="7.71" height="2.06" fill="#e7e7fb"/><rect x="423.27" y="80.84" width="7.71" height="2.06" fill="#f9f8fa"/><rect x="430.94" y="80.84" width="7.71" height="2.06" fill="#f8dbdd"/><rect x="247.00" y="82.85" width="7.71" height="2.06" fill="#f2494d"/><rect x="254.66" y="82.85" width="7.71" height="2.06" fill="#f01216"/><rect x="262.33" y="82.85" width="7.71" height="2.06" fill="#f59396"/><rect x="269.99" y="82.85" width="7.71" height="2.06" fill="#f59b9d"/><rect x="277.66" y="82.85" width="7.71" height="2.06" fill="#f36669"/><rect x="285.32" y="82.85" width="7.71" height="2.06" fill="#f01216"/><rect x="292.98" y="82.85" width="7.71" height="2.06" fill="#f01216"/><rect x="300.65" y="82.85" width="7.71" height="2.06" fill="#f48184"/><rect x="308.31" y="82.85" width="7.71" height="2.06" fill="#f2474a"/><rect x="315.98" y="82.85" width="7.71" height="2.06" fill="#f24e52"/><rect x="323.64" y="82.85" width="7.71" height="2.06" fill="#f5999c"/><rect x="331.30" y="82.85" width="7.71" height="2.06" fill="#babcf8"/><rect x="338.97" y="82.85" width="7.71" height="2.06" fill="#c6c8f9"/><rect x="346.63" y="82.85" width="7.71" height="2.06" fill="#777cf5"/><rect x="354.30" y="82.85" width="7.71" height="2.06" fill="#a2a5f7"/><rect x="361.96" y="82.85" width="7.71" height="2.06" fill="#6267f4"/><rect x="369.62" y="82.85" width="7.71" height="2.06" fill="#8185f5"/><rect x="377.29" y="82.85" width="7.71" height="2.06" fill="#787df5"/><rect x="384.95" y="82.85" width="7.71" height="2.06" fill="#8d90f6"/><rect x="392.62" y="82.85" width="7.71" height="2.06" fill="#8d91f6"/><rect x="400.28" y="82.85" width="7.71" height="2.06" fill="#9b9ef7"/><rect x="407.94" y="82.85" width="7.71" height="2.06" fill="#797df5"/><rect x="415.61" y="82.85" width="7.71" height="2.06" fill="#3d43f2"/><rect x="423.27" y="82.85" width="7.71" height="2.06" fill="#c1c3f9"/><rect x="430.94" y="82.85" width="7.71" height="2.06" fill="#f7c3c5"/><rect x="247.00" y="84.86" width="7.71" height="2.06" fill="#f48184"/><rect x="254.66" y="84.86" width="7.71" height="2.06" fill="#f25053"/><rect x="262.33" y="84.86" width="7.71" height="2.06" fill="#d1d3fa"/><rect x="269.99" y="84.86" width="7.71" height="2.06" fill="#f9f1f4"/><rect x="277.66" y="84.86" width="7.71" height="2.06" fill="#f7c8cb"/><rect x="285.32" y="84.86" width="7.71" height="2.06" fill="#f25054"/><rect x="292.98" y="84.86" width="7.71" height="2.06" fill="#f7bbbe"/><rect x="300.65" y="84.86" width="7.71" height="2.06" fill="#f13135"/><rect x="308.31" y="84.86" width="7.71" height="2.06" fill="#f35c5f"/><rect x="315.98" y="84.86" width="7.71" height="2.06" fill="#f6b1b4"/><rect x="323.64" y="84.86" width="7.71" height="2.06" fill="#f6a0a2"/><rect x="331.30" y="84.86" width="7.71" height="2.06" fill="#c9caf9"/><rect x="338.97" y="84.86" width="7.71" height="2.06" fill="#9295f6"/><rect x="346.63" y="84.86" width="7.71" height="2.06" fill="#f9e4e6"/><rect x="354.30" y="84.86" width="7.71" height="2.06" fill="#bec0f9"/><rect x="361.96" y="84.86" width="7.71" height="2.06" fill="#dcddfa"/><rect x="369.62" y="84.86" width="7.71" height="2.06" fill="#9fa2f7"/><rect x="377.29" y="84.86" width="7.71" height="2.06" fill="#9da0f7"/><rect x="384.95" y="84.86" width="7.71" height="2.06" fill="#d2d3fa"/><rect x="392.62" y="84.86" width="7.71" height="2.06" fill="#abaef8"/><rect x="400.28" y="84.86" width="7.71" height="2.06" fill="#777cf5"/><rect x="407.94" y="84.86" width="7.71" height="2.06" fill="#999cf7"/><rect x="415.61" y="84.86" width="7.71" height="2.06" fill="#7b7ff5"/><rect x="423.27" y="84.86" width="7.71" height="2.06" fill="#8c90f6"/><rect x="430.94" y="84.86" width="7.71" height="2.06" fill="#f59194"/><rect x="247.00" y="86.86" width="7.71" height="2.06" fill="#f25457"/><rect x="254.66" y="86.86" width="7.71" height="2.06" fill="#f3585b"/><rect x="262.33" y="86.86" width="7.71" height="2.06" fill="#f5f5fb"/><rect x="269.99" y="86.86" width="7.71" height="2.06" fill="#b8baf8"/><rect x="277.66" y="86.86" width="7.71" height="2.06" fill="#f6adaf"/><rect x="285.32" y="86.86" width="7.71" height="2.06" fill="#f48487"/><rect x="292.98" y="86.86" width="7.71" height="2.06" fill="#f6afb1"/><rect x="300.65" y="86.86" width="7.71" height="2.06" fill="#f8cdcf"/><rect x="308.31" y="86.86" width="7.71" height="2.06" fill="#f59a9d"/><rect x="315.98" y="86.86" width="7.71" height="2.06" fill="#f8dddf"/><rect x="323.64" y="86.86" width="7.71" height="2.06" fill="#f8dee0"/><rect x="331.30" y="86.86" width="7.71" height="2.06" fill="#cbccf9"/><rect x="338.97" y="86.86" width="7.71" height="2.06" fill="#8f93f6"/><rect x="346.63" y="86.86" width="7.71" height="2.06" fill="#ebecfb"/><rect x="354.30" y="86.86" width="7.71" height="2.06" fill="#9497f6"/><rect x="361.96" y="86.86" width="7.71" height="2.06" fill="#aaadf8"/><rect x="369.62" y="86.86" width="7.71" height="2.06" fill="#adb0f8"/><rect x="377.29" y="86.86" width="7.71" height="2.06" fill="#ebecfb"/><rect x="384.95" y="86.86" width="7.71" height="2.06" fill="#6469f4"/><rect x="392.62" y="86.86" width="7.71" height="2.06" fill="#7478f5"/><rect x="400.28" y="86.86" width="7.71" height="2.06" fill="#656af4"/><rect x="407.94" y="86.86" width="7.71" height="2.06" fill="#a9abf7"/><rect x="415.61" y="86.86" width="7.71" height="2.06" fill="#6267f4"/><rect x="423.27" y="86.86" width="7.71" height="2.06" fill="#9a9df7"/><rect x="430.94" y="86.86" width="7.71" height="2.06" fill="#a3a6f7"/><rect x="247.00" y="88.87" width="7.71" height="2.06" fill="#f9f3f5"/><rect x="254.66" y="88.87" width="7.71" height="2.06" fill="#f7b8bb"/><rect x="262.33" y="88.87" width="7.71" height="2.06" fill="#8a8ef6"/><rect x="269.99" y="88.87" width="7.71" height="2.06" fill="#7378f5"/><rect x="277.66" y="88.87" width="7.71" height="2.06" fill="#a2a5f7"/><rect x="285.32" y="88.87" width="7.71" height="2.06" fill="#f59b9e"/><rect x="292.98" y="88.87" width="7.71" height="2.06" fill="#f7c3c6"/><rect x="300.65" y="88.87" width="7.71" height="2.06" fill="#f47275"/><rect x="308.31" y="88.87" width="7.71" height="2.06" fill="#f6b4b6"/><rect x="315.98" y="88.87" width="7.71" height="2.06" fill="#f7c5c8"/><rect x="323.64" y="88.87" width="7.71" height="2.06" fill="#f9e7ea"/><rect x="331.30" y="88.87" width="7.71" height="2.06" fill="#c4c6f9"/><rect x="338.97" y="88.87" width="7.71" height="2.06" fill="#f8d9db"/><rect x="346.63" y="88.87" width="7.71" height="2.06" fill="#888cf6"/><rect x="354.30" y="88.87" width="7.71" height="2.06" fill="#3239f1"/><rect x="361.96" y="88.87" width="7.71" height="2.06" fill="#3f45f2"/><rect x="369.62" y="88.87" width="7.71" height="2.06" fill="#898df6"/><rect x="377.29" y="88.87" width="7.71" height="2.06" fill="#acaef8"/><rect x="384.95" y="88.87" width="7.71" height="2.06" fill="#6d72f4"/><rect x="392.62" y="88.87" width="7.71" height="2.06" fill="#7276f5"/><rect x="400.28" y="88.87" width="7.71" height="2.06" fill="#aaadf8"/><rect x="407.94" y="88.87" width="7.71" height="2.06" fill="#b9bcf8"/><rect x="415.61" y="88.87" width="7.71" height="2.06" fill="#b6b8f8"/><rect x="423.27" y="88.87" width="7.71" height="2.06" fill="#f9eff1"/><rect x="430.94" y="88.87" width="7.71" height="2.06" fill="#f9f4f6"/><rect x="247.00" y="90.88" width="7.71" height="2.06" fill="#f25659"/><rect x="254.66" y="90.88" width="7.71" height="2.06" fill="#f36c70"/><rect x="262.33" y="90.88" width="7.71" height="2.06" fill="#f48386"/><rect x="269.99" y="90.88" width="7.71" height="2.06" fill="#f58d90"/><rect x="277.66" y="90.88" width="7.71" height="2.06" fill="#f9e8ea"/><rect x="285.32" y="90.88" width="7.71" height="2.06" fill="#f24a4d"/><rect x="292.98" y="90.88" width="7.71" height="2.06" fill="#f01c20"/><rect x="300.65" y="90.88" width="7.71" height="2.06" fill="#f4797c"/><rect x="308.31" y="90.88" width="7.71" height="2.06" fill="#f36366"/><rect x="315.98" y="90.88" width="7.71" height="2.06" fill="#f59294"/><rect x="323.64" y="90.88" width="7.71" height="2.06" fill="#f8d8db"/><rect x="331.30" y="90.88" width="7.71" height="2.06" fill="#b7baf8"/><rect x="338.97" y="90.88" width="7.71" height="2.06" fill="#caccf9"/><rect x="346.63" y="90.88" width="7.71" height="2.06" fill="#9a9ef7"/><rect x="354.30" y="90.88" width="7.71" height="2.06" fill="#9fa2f7"/><rect x="361.96" y="90.88" width="7.71" height="2.06" fill="#8e91f6"/><rect x="369.62" y="90.88" width="7.71" height="2.06" fill="#5b60f4"/><rect x="377.29" y="90.88" width="7.71" height="2.06" fill="#8185f5"/><rect x="384.95" y="90.88" width="7.71" height="2.06" fill="#6e73f5"/><rect x="392.62" y="90.88" width="7.71" height="2.06" fill="#8185f5"/><rect x="400.28" y="90.88" width="7.71" height="2.06" fill="#babcf8"/><rect x="407.94" y="90.88" width="7.71" height="2.06" fill="#5056f3"/><rect x="415.61" y="90.88" width="7.71" height="2.06" fill="#bfc1f9"/><rect x="423.27" y="90.88" width="7.71" height="2.06" fill="#b1b4f8"/><rect x="430.94" y="90.88" width="7.71" height="2.06" fill="#f8d3d5"/><rect x="247.00" y="92.89" width="7.71" height="2.06" fill="#f58689"/><rect x="254.66" y="92.89" width="7.71" height="2.06" fill="#f59093"/><rect x="262.33" y="92.89" width="7.71" height="2.06" fill="#f7c4c6"/><rect x="269.99" y="92.89" width="7.71" height="2.06" fill="#f58f92"/><rect x="277.66" y="92.89" width="7.71" height="2.06" fill="#e6e7fb"/><rect x="285.32" y="92.89" width="7.71" height="2.06" fill="#f46f72"/><rect x="292.98" y="92.89" width="7.71" height="2.06" fill="#f6a9ac"/><rect x="300.65" y="92.89" width="7.71" height="2.06" fill="#f6a7aa"/><rect x="308.31" y="92.89" width="7.71" height="2.06" fill="#f25256"/><rect x="315.98" y="92.89" width="7.71" height="2.06" fill="#f69da0"/><rect x="323.64" y="92.89" width="7.71" height="2.06" fill="#f9f8fa"/><rect x="331.30" y="92.89" width="7.71" height="2.06" fill="#8c8ff6"/><rect x="338.97" y="92.89" width="7.71" height="2.06" fill="#7074f5"/><rect x="346.63" y="92.89" width="7.71" height="2.06" fill="#f6f6fb"/><rect x="354.30" y="92.89" width="7.71" height="2.06" fill="#8e92f6"/><rect x="361.96" y="92.89" width="7.71" height="2.06" fill="#a9abf7"/><rect x="369.62" y="92.89" width="7.71" height="2.06" fill="#acaef8"/><rect x="377.29" y="92.89" width="7.71" height="2.06" fill="#777bf5"/><rect x="384.95" y="92.89" width="7.71" height="2.06" fill="#a4a6f7"/><rect x="392.62" y="92.89" width="7.71" height="2.06" fill="#767af5"/><rect x="400.28" y="92.89" width="7.71" height="2.06" fill="#6267f4"/><rect x="407.94" y="92.89" width="7.71" height="2.06" fill="#6a6ff4"/><rect x="415.61" y="92.89" width="7.71" height="2.06" fill="#8286f6"/><rect x="423.27" y="92.89" width="7.71" height="2.06" fill="#9ea1f7"/><rect x="430.94" y="92.89" width="7.71" height="2.06" fill="#f01216"/><rect x="247.00" y="94.89" width="7.71" height="2.06" fill="#f59093"/><rect x="254.66" y="94.89" width="7.71" height="2.06" fill="#f25255"/><rect x="262.33" y="94.89" width="7.71" height="2.06" fill="#f47e81"/><rect x="269.99" y="94.89" width="7.71" height="2.06" fill="#f48083"/><rect x="277.66" y="94.89" width="7.71" height="2.06" fill="#f58c8f"/><rect x="285.32" y="94.89" width="7.71" height="2.06" fill="#f2474a"/><rect x="292.98" y="94.89" width="7.71" height="2.06" fill="#f13539"/><rect x="300.65" y="94.89" width="7.71" height="2.06" fill="#f36c70"/><rect x="308.31" y="94.89" width="7.71" height="2.06" fill="#f2474b"/><rect x="315.98" y="94.89" width="7.71" height="2.06" fill="#f8d9db"/><rect x="323.64" y="94.89" width="7.71" height="2.06" fill="#f02024"/><rect x="331.30" y="94.89" width="7.71" height="2.06" fill="#f8dbdd"/><rect x="338.97" y="94.89" width="7.71" height="2.06" fill="#d4d5fa"/><rect x="346.63" y="94.89" width="7.71" height="2.06" fill="#e5e6fb"/><rect x="354.30" y="94.89" width="7.71" height="2.06" fill="#a4a7f7"/><rect x="361.96" y="94.89" width="7.71" height="2.06" fill="#d0d1f9"/><rect x="369.62" y="94.89" width="7.71" height="2.06" fill="#6c70f4"/><rect x="377.29" y="94.89" width="7.71" height="2.06" fill="#6b70f4"/><rect x="384.95" y="94.89" width="7.71" height="2.06" fill="#575cf3"/><rect x="392.62" y="94.89" width="7.71" height="2.06" fill="#eff0fb"/><rect x="400.28" y="94.89" width="7.71" height="2.06" fill="#f9edef"/><rect x="407.94" y="94.89" width="7.71" height="2.06" fill="#f8d4d7"/><rect x="415.61" y="94.89" width="7.71" height="2.06" fill="#eeeefb"/><rect x="423.27" y="94.89" width="7.71" height="2.06" fill="#f7b8bb"/><rect x="430.94" y="94.89" width="7.71" height="2.06" fill="#f14043"/><rect x="247.00" y="96.90" width="7.71" height="2.06" fill="#f3696c"/><rect x="254.66" y="96.90" width="7.71" height="2.06" fill="#f5888b"/><rect x="262.33" y="96.90" width="7.71" height="2.06" fill="#f59b9e"/><rect x="269.99" y="96.90" width="7.71" height="2.06" fill="#f8dadc"/><rect x="277.66" y="96.90" width="7.71" height="2.06" fill="#f69da0"/><rect x="285.32" y="96.90" width="7.71" height="2.06" fill="#f59c9f"/><rect x="292.98" y="96.90" width="7.71" height="2.06" fill="#f8d4d7"/><rect x="300.65" y="96.90" width="7.71" height="2.06" fill="#f7c6c8"/><rect x="308.31" y="96.90" width="7.71" height="2.06" fill="#f6aaac"/><rect x="315.98" y="96.90" width="7.71" height="2.06" fill="#f7c5c7"/><rect x="323.64" y="96.90" width="7.71" height="2.06" fill="#f7babd"/><rect x="331.30" y="96.90" width="7.71" height="2.06" fill="#dadbfa"/><rect x="338.97" y="96.90" width="7.71" height="2.06" fill="#6f74f5"/><rect x="346.63" y="96.90" width="7.71" height="2.06" fill="#f9f4f6"/><rect x="354.30" y="96.90" width="7.71" height="2.06" fill="#8c8ff6"/><rect x="361.96" y="96.90" width="7.71" height="2.06" fill="#ededfb"/><rect x="369.62" y="96.90" width="7.71" height="2.06" fill="#8286f6"/><rect x="377.29" y="96.90" width="7.71" height="2.06" fill="#8387f6"/><rect x="384.95" y="96.90" width="7.71" height="2.06" fill="#999cf7"/><rect x="392.62" y="96.90" width="7.71" height="2.06" fill="#d0d1f9"/><rect x="400.28" y="96.90" width="7.71" height="2.06" fill="#8e91f6"/><rect x="407.94" y="96.90" width="7.71" height="2.06" fill="#8488f6"/><rect x="415.61" y="96.90" width="7.71" height="2.06" fill="#686df4"/><rect x="423.27" y="96.90" width="7.71" height="2.06" fill="#6065f4"/><rect x="430.94" y="96.90" width="7.71" height="2.06" fill="#f01216"/><rect x="247.00" y="98.91" width="7.71" height="2.06" fill="#f6b1b4"/><rect x="254.66" y="98.91" width="7.71" height="2.06" fill="#f5888b"/><rect x="262.33" y="98.91" width="7.71" height="2.06" fill="#bcbef8"/><rect x="269.99" y="98.91" width="7.71" height="2.06" fill="#f9f0f2"/><rect x="277.66" y="98.91" width="7.71" height="2.06" fill="#bec0f9"/><rect x="285.32" y="98.91" width="7.71" height="2.06" fill="#f8d2d5"/><rect x="292.98" y="98.91" width="7.71" height="2.06" fill="#f69fa2"/><rect x="300.65" y="98.91" width="7.71" height="2.06" fill="#f9e9eb"/><rect x="308.31" y="98.91" width="7.71" height="2.06" fill="#f4f4fb"/><rect x="315.98" y="98.91" width="7.71" height="2.06" fill="#f9f6f8"/><rect x="323.64" y="98.91" width="7.71" height="2.06" fill="#dcddfa"/><rect x="331.30" y="98.91" width="7.71" height="2.06" fill="#c7c9f9"/><rect x="338.97" y="98.91" width="7.71" height="2.06" fill="#f7b8ba"/><rect x="346.63" y="98.91" width="7.71" height="2.06" fill="#f7bbbe"/><rect x="354.30" y="98.91" width="7.71" height="2.06" fill="#bbbef8"/><rect x="361.96" y="98.91" width="7.71" height="2.06" fill="#c2c3f9"/><rect x="369.62" y="98.91" width="7.71" height="2.06" fill="#8e91f6"/><rect x="377.29" y="98.91" width="7.71" height="2.06" fill="#c5c6f9"/><rect x="384.95" y="98.91" width="7.71" height="2.06" fill="#8185f5"/><rect x="392.62" y="98.91" width="7.71" height="2.06" fill="#7f84f5"/><rect x="400.28" y="98.91" width="7.71" height="2.06" fill="#bdbff9"/><rect x="407.94" y="98.91" width="7.71" height="2.06" fill="#bfc1f9"/><rect x="415.61" y="98.91" width="7.71" height="2.06" fill="#6166f4"/><rect x="423.27" y="98.91" width="7.71" height="2.06" fill="#6167f4"/><rect x="430.94" y="98.91" width="7.71" height="2.06" fill="#f1393d"/><rect x="247.00" y="100.92" width="7.71" height="2.06" fill="#f9f8fa"/><rect x="254.66" y="100.92" width="7.71" height="2.06" fill="#f48285"/><rect x="262.33" y="100.92" width="7.71" height="2.06" fill="#6b70f4"/><rect x="269.99" y="100.92" width="7.71" height="2.06" fill="#9ea1f7"/><rect x="277.66" y="100.92" width="7.71" height="2.06" fill="#f3f4fb"/><rect x="285.32" y="100.92" width="7.71" height="2.06" fill="#f8dee0"/><rect x="292.98" y="100.92" width="7.71" height="2.06" fill="#f7c9cb"/><rect x="300.65" y="100.92" width="7.71" height="2.06" fill="#f5888b"/><rect x="308.31" y="100.92" width="7.71" height="2.06" fill="#f69da0"/><rect x="315.98" y="100.92" width="7.71" height="2.06" fill="#f47679"/><rect x="323.64" y="100.92" width="7.71" height="2.06" fill="#dfe0fa"/><rect x="331.30" y="100.92" width="7.71" height="2.06" fill="#e6e7fb"/><rect x="338.97" y="100.92" width="7.71" height="2.06" fill="#5f64f4"/><rect x="346.63" y="100.92" width="7.71" height="2.06" fill="#d5d6fa"/><rect x="354.30" y="100.92" width="7.71" height="2.06" fill="#b5b7f8"/><rect x="361.96" y="100.92" width="7.71" height="2.06" fill="#8589f6"/><rect x="369.62" y="100.92" width="7.71" height="2.06" fill="#9da0f7"/><rect x="377.29" y="100.92" width="7.71" height="2.06" fill="#d5d6fa"/><rect x="384.95" y="100.92" width="7.71" height="2.06" fill="#c6c8f9"/><rect x="392.62" y="100.92" width="7.71" height="2.06" fill="#464cf2"/><rect x="400.28" y="100.92" width="7.71" height="2.06" fill="#b0b2f8"/><rect x="407.94" y="100.92" width="7.71" height="2.06" fill="#bdbff9"/><rect x="415.61" y="100.92" width="7.71" height="2.06" fill="#242bf1"/><rect x="423.27" y="100.92" width="7.71" height="2.06" fill="#868af6"/><rect x="430.94" y="100.92" width="7.71" height="2.06" fill="#f01216"/><rect x="247.00" y="102.93" width="7.71" height="2.06" fill="#f5898c"/><rect x="254.66" y="102.93" width="7.71" height="2.06" fill="#f35a5e"/><rect x="262.33" y="102.93" width="7.71" height="2.06" fill="#f8e2e4"/><rect x="269.99" y="102.93" width="7.71" height="2.06" fill="#f8dcdf"/><rect x="277.66" y="102.93" width="7.71" height="2.06" fill="#f9ebed"/><rect x="285.32" y="102.93" width="7.71" height="2.06" fill="#f7bec0"/><rect x="292.98" y="102.93" width="7.71" height="2.06" fill="#f7babc"/><rect x="300.65" y="102.93" width="7.71" height="2.06" fill="#f6b2b5"/><rect x="308.31" y="102.93" width="7.71" height="2.06" fill="#f58f92"/><rect x="315.98" y="102.93" width="7.71" height="2.06" fill="#f9ecee"/><rect x="323.64" y="102.93" width="7.71" height="2.06" fill="#f69ea1"/><rect x="331.30" y="102.93" width="7.71" height="2.06" fill="#9195f6"/><rect x="338.97" y="102.93" width="7.71" height="2.06" fill="#a7aaf7"/><rect x="346.63" y="102.93" width="7.71" height="2.06" fill="#7377f5"/><rect x="354.30" y="102.93" width="7.71" height="2.06" fill="#4248f2"/><rect x="361.96" y="102.93" width="7.71" height="2.06" fill="#5d62f4"/><rect x="369.62" y="102.93" width="7.71" height="2.06" fill="#3940f2"/><rect x="377.29" y="102.93" width="7.71" height="2.06" fill="#8185f5"/><rect x="384.95" y="102.93" width="7.71" height="2.06" fill="#3c43f2"/><rect x="392.62" y="102.93" width="7.71" height="2.06" fill="#0c14f0"/><rect x="400.28" y="102.93" width="7.71" height="2.06" fill="#161ef0"/><rect x="407.94" y="102.93" width="7.71" height="2.06" fill="#0c14f0"/><rect x="415.61" y="102.93" width="7.71" height="2.06" fill="#7175f5"/><rect x="423.27" y="102.93" width="7.71" height="2.06" fill="#b9bbf8"/><rect x="430.94" y="102.93" width="7.71" height="2.06" fill="#f01e22"/><rect x="247.00" y="104.93" width="7.71" height="2.06" fill="#f1393c"/><rect x="254.66" y="104.93" width="7.71" height="2.06" fill="#f35f62"/><rect x="262.33" y="104.93" width="7.71" height="2.06" fill="#f8d5d7"/><rect x="269.99" y="104.93" width="7.71" height="2.06" fill="#f8cfd1"/><rect x="277.66" y="104.93" width="7.71" height="2.06" fill="#f48184"/><rect x="285.32" y="104.93" width="7.71" height="2.06" fill="#f7c5c7"/><rect x="292.98" y="104.93" width="7.71" height="2.06" fill="#f69ea1"/><rect x="300.65" y="104.93" width="7.71" height="2.06" fill="#f47174"/><rect x="308.31" y="104.93" width="7.71" height="2.06" fill="#f36063"/><rect x="315.98" y="104.93" width="7.71" height="2.06" fill="#f35e61"/><rect x="323.64" y="104.93" width="7.71" height="2.06" fill="#f35b5f"/><rect x="331.30" y="104.93" width="7.71" height="2.06" fill="#f9f1f3"/><rect x="338.97" y="104.93" width="7.71" height="2.06" fill="#a7aaf7"/><rect x="346.63" y="104.93" width="7.71" height="2.06" fill="#8488f6"/><rect x="354.30" y="104.93" width="7.71" height="2.06" fill="#b2b4f8"/><rect x="361.96" y="104.93" width="7.71" height="2.06" fill="#999cf7"/><rect x="369.62" y="104.93" width="7.71" height="2.06" fill="#797ef5"/><rect x="377.29" y="104.93" width="7.71" height="2.06" fill="#9296f6"/><rect x="384.95" y="104.93" width="7.71" height="2.06" fill="#a8aaf7"/><rect x="392.62" y="104.93" width="7.71" height="2.06" fill="#c0c2f9"/><rect x="400.28" y="104.93" width="7.71" height="2.06" fill="#9699f7"/><rect x="407.94" y="104.93" width="7.71" height="2.06" fill="#a8abf7"/><rect x="415.61" y="104.93" width="7.71" height="2.06" fill="#3a40f2"/><rect x="423.27" y="104.93" width="7.71" height="2.06" fill="#5459f3"/><rect x="430.94" y="104.93" width="7.71" height="2.06" fill="#f01216"/><rect x="247.00" y="106.94" width="7.71" height="2.06" fill="#f3676b"/><rect x="254.66" y="106.94" width="7.71" height="2.06" fill="#f35e61"/><rect x="262.33" y="106.94" width="7.71" height="2.06" fill="#f2f2fb"/><rect x="269.99" y="106.94" width="7.71" height="2.06" fill="#f7c9cb"/><rect x="277.66" y="106.94" width="7.71" height="2.06" fill="#f8cdcf"/><rect x="285.32" y="106.94" width="7.71" height="2.06" fill="#f59b9e"/><rect x="292.98" y="106.94" width="7.71" height="2.06" fill="#f5878a"/><rect x="300.65" y="106.94" width="7.71" height="2.06" fill="#f6a1a4"/><rect x="308.31" y="106.94" width="7.71" height="2.06" fill="#f6a7aa"/><rect x="315.98" y="106.94" width="7.71" height="2.06" fill="#f59698"/><rect x="323.64" y="106.94" width="7.71" height="2.06" fill="#f9e7e9"/><rect x="331.30" y="106.94" width="7.71" height="2.06" fill="#c5c7f9"/><rect x="338.97" y="106.94" width="7.71" height="2.06" fill="#a0a3f7"/><rect x="346.63" y="106.94" width="7.71" height="2.06" fill="#4b51f3"/><rect x="354.30" y="106.94" width="7.71" height="2.06" fill="#0c14f0"/><rect x="361.96" y="106.94" width="7.71" height="2.06" fill="#272ef1"/><rect x="369.62" y="106.94" width="7.71" height="2.06" fill="#979af7"/><rect x="377.29" y="106.94" width="7.71" height="2.06" fill="#babcf8"/><rect x="384.95" y="106.94" width="7.71" height="2.06" fill="#c3c5f9"/><rect x="392.62" y="106.94" width="7.71" height="2.06" fill="#7579f5"/><rect x="400.28" y="106.94" width="7.71" height="2.06" fill="#7075f5"/><rect x="407.94" y="106.94" width="7.71" height="2.06" fill="#5d62f4"/><rect x="415.61" y="106.94" width="7.71" height="2.06" fill="#a0a3f7"/><rect x="423.27" y="106.94" width="7.71" height="2.06" fill="#868af6"/><rect x="430.94" y="106.94" width="7.71" height="2.06" fill="#f01216"/><rect x="247.00" y="108.95" width="7.71" height="2.06" fill="#f6b3b5"/><rect x="254.66" y="108.95" width="7.71" height="2.06" fill="#f6a6a9"/><rect x="262.33" y="108.95" width="7.71" height="2.06" fill="#dbdcfa"/><rect x="269.99" y="108.95" width="7.71" height="2.06" fill="#e9eafb"/><rect x="277.66" y="108.95" width="7.71" height="2.06" fill="#f8d2d5"/><rect x="285.32" y="108.95" width="7.71" height="2.06" fill="#f6a5a8"/><rect x="292.98" y="108.95" width="7.71" height="2.06" fill="#f69da0"/><rect x="300.65" y="108.95" width="7.71" height="2.06" fill="#f6b1b4"/><rect x="308.31" y="108.95" width="7.71" height="2.06" fill="#f8d0d2"/><rect x="315.98" y="108.95" width="7.71" height="2.06" fill="#babcf8"/><rect x="323.64" y="108.95" width="7.71" height="2.06" fill="#f9f5f7"/><rect x="331.30" y="108.95" width="7.71" height="2.06" fill="#9ea1f7"/><rect x="338.97" y="108.95" width="7.71" height="2.06" fill="#eeeefb"/><rect x="346.63" y="108.95" width="7.71" height="2.06" fill="#e7e8fb"/><rect x="354.30" y="108.95" width="7.71" height="2.06" fill="#adaff8"/><rect x="361.96" y="108.95" width="7.71" height="2.06" fill="#9296f6"/><rect x="369.62" y="108.95" width="7.71" height="2.06" fill="#a0a3f7"/><rect x="377.29" y="108.95" width="7.71" height="2.06" fill="#8286f6"/><rect x="384.95" y="108.95" width="7.71" height="2.06" fill="#7579f5"/><rect x="392.62" y="108.95" width="7.71" height="2.06" fill="#edeefb"/><rect x="400.28" y="108.95" width="7.71" height="2.06" fill="#f3f3fb"/><rect x="407.94" y="108.95" width="7.71" height="2.06" fill="#dbdcfa"/><rect x="415.61" y="108.95" width="7.71" height="2.06" fill="#8e91f6"/><rect x="423.27" y="108.95" width="7.71" height="2.06" fill="#d3d4fa"/><rect x="430.94" y="108.95" width="7.71" height="2.06" fill="#f02529"/><rect x="247.00" y="110.96" width="7.71" height="2.06" fill="#f59396"/><rect x="254.66" y="110.96" width="7.71" height="2.06" fill="#f3696c"/><rect x="262.33" y="110.96" width="7.71" height="2.06" fill="#f8d5d7"/><rect x="269.99" y="110.96" width="7.71" height="2.06" fill="#e6e6fb"/><rect x="277.66" y="110.96" width="7.71" height="2.06" fill="#f2f2fb"/><rect x="285.32" y="110.96" width="7.71" height="2.06" fill="#f9ecee"/><rect x="292.98" y="110.96" width="7.71" height="2.06" fill="#f47578"/><rect x="300.65" y="110.96" width="7.71" height="2.06" fill="#f47174"/><rect x="308.31" y="110.96" width="7.71" height="2.06" fill="#f02428"/><rect x="315.98" y="110.96" width="7.71" height="2.06" fill="#f3696d"/><rect x="323.64" y="110.96" width="7.71" height="2.06" fill="#f8dadc"/><rect x="331.30" y="110.96" width="7.71" height="2.06" fill="#dfe0fa"/><rect x="338.97" y="110.96" width="7.71" height="2.06" fill="#bfc1f9"/><rect x="346.63" y="110.96" width="7.71" height="2.06" fill="#f9e9eb"/><rect x="354.30" y="110.96" width="7.71" height="2.06" fill="#dcddfa"/><rect x="361.96" y="110.96" width="7.71" height="2.06" fill="#b4b7f8"/><rect x="369.62" y="110.96" width="7.71" height="2.06" fill="#bfc1f9"/><rect x="377.29" y="110.96" width="7.71" height="2.06" fill="#e8e9fb"/><rect x="384.95" y="110.96" width="7.71" height="2.06" fill="#efeffb"/><rect x="392.62" y="110.96" width="7.71" height="2.06" fill="#d8d9fa"/><rect x="400.28" y="110.96" width="7.71" height="2.06" fill="#b2b4f8"/><rect x="407.94" y="110.96" width="7.71" height="2.06" fill="#ced0f9"/><rect x="415.61" y="110.96" width="7.71" height="2.06" fill="#f7cbcd"/><rect x="423.27" y="110.96" width="7.71" height="2.06" fill="#f2f2fb"/><rect x="430.94" y="110.96" width="7.71" height="2.06" fill="#f24e52"/><rect x="247.00" y="112.96" width="7.71" height="2.06" fill="#f2575a"/><rect x="254.66" y="112.96" width="7.71" height="2.06" fill="#f0181c"/><rect x="262.33" y="112.96" width="7.71" height="2.06" fill="#9b9ef7"/><rect x="269.99" y="112.96" width="7.71" height="2.06" fill="#e7e8fb"/><rect x="277.66" y="112.96" width="7.71" height="2.06" fill="#f8d6d8"/><rect x="285.32" y="112.96" width="7.71" height="2.06" fill="#f4787b"/><rect x="292.98" y="112.96" width="7.71" height="2.06" fill="#f25558"/><rect x="300.65" y="112.96" width="7.71" height="2.06" fill="#f59396"/><rect x="308.31" y="112.96" width="7.71" height="2.06" fill="#f4797c"/><rect x="315.98" y="112.96" width="7.71" height="2.06" fill="#f9e8ea"/><rect x="323.64" y="112.96" width="7.71" height="2.06" fill="#f24f52"/><rect x="331.30" y="112.96" width="7.71" height="2.06" fill="#dfe0fa"/><rect x="338.97" y="112.96" width="7.71" height="2.06" fill="#e9eafb"/><rect x="346.63" y="112.96" width="7.71" height="2.06" fill="#9c9ff7"/><rect x="354.30" y="112.96" width="7.71" height="2.06" fill="#262df1"/><rect x="361.96" y="112.96" width="7.71" height="2.06" fill="#686df4"/><rect x="369.62" y="112.96" width="7.71" height="2.06" fill="#898df6"/><rect x="377.29" y="112.96" width="7.71" height="2.06" fill="#bdbff9"/><rect x="384.95" y="112.96" width="7.71" height="2.06" fill="#9195f6"/><rect x="392.62" y="112.96" width="7.71" height="2.06" fill="#989bf7"/><rect x="400.28" y="112.96" width="7.71" height="2.06" fill="#575cf3"/><rect x="407.94" y="112.96" width="7.71" height="2.06" fill="#cbccf9"/><rect x="415.61" y="112.96" width="7.71" height="2.06" fill="#e3e3fa"/><rect x="423.27" y="112.96" width="7.71" height="2.06" fill="#9da0f7"/><rect x="430.94" y="112.96" width="7.71" height="2.06" fill="#f13639"/><rect x="247.00" y="114.97" width="7.71" height="2.06" fill="#f01c20"/><rect x="254.66" y="114.97" width="7.71" height="2.06" fill="#f2484b"/><rect x="262.33" y="114.97" width="7.71" height="2.06" fill="#f9e6e8"/><rect x="269.99" y="114.97" width="7.71" height="2.06" fill="#f6b2b5"/><rect x="277.66" y="114.97" width="7.71" height="2.06" fill="#f7b4b7"/><rect x="285.32" y="114.97" width="7.71" height="2.06" fill="#f6acae"/><rect x="292.98" y="114.97" width="7.71" height="2.06" fill="#f6a4a7"/><rect x="300.65" y="114.97" width="7.71" height="2.06" fill="#f6a6a9"/><rect x="308.31" y="114.97" width="7.71" height="2.06" fill="#f8dde0"/><rect x="315.98" y="114.97" width="7.71" height="2.06" fill="#f8d7d9"/><rect x="323.64" y="114.97" width="7.71" height="2.06" fill="#cbcdf9"/><rect x="331.30" y="114.97" width="7.71" height="2.06" fill="#c2c4f9"/><rect x="338.97" y="114.97" width="7.71" height="2.06" fill="#f7c2c5"/><rect x="346.63" y="114.97" width="7.71" height="2.06" fill="#f4f4fb"/><rect x="354.30" y="114.97" width="7.71" height="2.06" fill="#656af4"/><rect x="361.96" y="114.97" width="7.71" height="2.06" fill="#8286f6"/><rect x="369.62" y="114.97" width="7.71" height="2.06" fill="#eeeefb"/><rect x="377.29" y="114.97" width="7.71" height="2.06" fill="#c2c4f9"/><rect x="384.95" y="114.97" width="7.71" height="2.06" fill="#c1c3f9"/><rect x="392.62" y="114.97" width="7.71" height="2.06" fill="#f8cfd1"/><rect x="400.28" y="114.97" width="7.71" height="2.06" fill="#d3d4fa"/><rect x="407.94" y="114.97" width="7.71" height="2.06" fill="#b7b9f8"/><rect x="415.61" y="114.97" width="7.71" height="2.06" fill="#cfd0f9"/><rect x="423.27" y="114.97" width="7.71" height="2.06" fill="#f9e2e5"/><rect x="430.94" y="114.97" width="7.71" height="2.06" fill="#f01216"/><rect x="247.00" y="116.98" width="7.71" height="2.06" fill="#989bf7"/><rect x="254.66" y="116.98" width="7.71" height="2.06" fill="#b8bbf8"/><rect x="262.33" y="116.98" width="7.71" height="2.06" fill="#656af4"/><rect x="269.99" y="116.98" width="7.71" height="2.06" fill="#f6b0b2"/><rect x="277.66" y="116.98" width="7.71" height="2.06" fill="#7a7ff5"/><rect x="285.32" y="116.98" width="7.71" height="2.06" fill="#8185f5"/><rect x="292.98" y="116.98" width="7.71" height="2.06" fill="#9094f6"/><rect x="300.65" y="116.98" width="7.71" height="2.06" fill="#dedffa"/><rect x="308.31" y="116.98" width="7.71" height="2.06" fill="#c2c4f9"/><rect x="315.98" y="116.98" width="7.71" height="2.06" fill="#9397f6"/><rect x="323.64" y="116.98" width="7.71" height="2.06" fill="#dbdcfa"/><rect x="331.30" y="116.98" width="7.71" height="2.06" fill="#f9e6e8"/><rect x="338.97" y="116.98" width="7.71" height="2.06" fill="#5b60f4"/><rect x="346.63" y="116.98" width="7.71" height="2.06" fill="#f48184"/><rect x="354.30" y="116.98" width="7.71" height="2.06" fill="#f6a7aa"/><rect x="361.96" y="116.98" width="7.71" height="2.06" fill="#f4797c"/><rect x="369.62" y="116.98" width="7.71" height="2.06" fill="#f9e8ea"/><rect x="377.29" y="116.98" width="7.71" height="2.06" fill="#f36669"/><rect x="384.95" y="116.98" width="7.71" height="2.06" fill="#f36669"/><rect x="392.62" y="116.98" width="7.71" height="2.06" fill="#f5979a"/><rect x="400.28" y="116.98" width="7.71" height="2.06" fill="#f8e0e2"/><rect x="407.94" y="116.98" width="7.71" height="2.06" fill="#e3e4fa"/><rect x="415.61" y="116.98" width="7.71" height="2.06" fill="#c5c7f9"/><rect x="423.27" y="116.98" width="7.71" height="2.06" fill="#7276f5"/><rect x="430.94" y="116.98" width="7.71" height="2.06" fill="#d4d5fa"/><rect x="247.00" y="118.99" width="7.71" height="2.06" fill="#0c14f0"/><rect x="254.66" y="118.99" width="7.71" height="2.06" fill="#4248f2"/><rect x="262.33" y="118.99" width="7.71" height="2.06" fill="#cbccf9"/><rect x="269.99" y="118.99" width="7.71" height="2.06" fill="#999cf7"/><rect x="277.66" y="118.99" width="7.71" height="2.06" fill="#f8d7da"/><rect x="285.32" y="118.99" width="7.71" height="2.06" fill="#9397f6"/><rect x="292.98" y="118.99" width="7.71" height="2.06" fill="#8f92f6"/><rect x="300.65" y="118.99" width="7.71" height="2.06" fill="#9598f6"/><rect x="308.31" y="118.99" width="7.71" height="2.06" fill="#f9eef0"/><rect x="315.98" y="118.99" width="7.71" height="2.06" fill="#f7c6c9"/><rect x="323.64" y="118.99" width="7.71" height="2.06" fill="#acaef8"/><rect x="331.30" y="118.99" width="7.71" height="2.06" fill="#f9f9fb"/><rect x="338.97" y="118.99" width="7.71" height="2.06" fill="#f58b8e"/><rect x="346.63" y="118.99" width="7.71" height="2.06" fill="#ececfb"/><rect x="354.30" y="118.99" width="7.71" height="2.06" fill="#f6a5a8"/><rect x="361.96" y="118.99" width="7.71" height="2.06" fill="#f6b3b6"/><rect x="369.62" y="118.99" width="7.71" height="2.06" fill="#f8d0d2"/><rect x="377.29" y="118.99" width="7.71" height="2.06" fill="#f59496"/><rect x="384.95" y="118.99" width="7.71" height="2.06" fill="#f7c6c9"/><rect x="392.62" y="118.99" width="7.71" height="2.06" fill="#f58e91"/><rect x="400.28" y="118.99" width="7.71" height="2.06" fill="#f8d0d2"/><rect x="407.94" y="118.99" width="7.71" height="2.06" fill="#f69fa2"/><rect x="415.61" y="118.99" width="7.71" height="2.06" fill="#cdcef9"/><rect x="423.27" y="118.99" width="7.71" height="2.06" fill="#f9f8fa"/><rect x="430.94" y="118.99" width="7.71" height="2.06" fill="#f9f2f4"/><rect x="247.00" y="121.00" width="7.71" height="2.06" fill="#0c14f0"/><rect x="254.66" y="121.00" width="7.71" height="2.06" fill="#b9bbf8"/><rect x="262.33" y="121.00" width="7.71" height="2.06" fill="#dedffa"/><rect x="269.99" y="121.00" width="7.71" height="2.06" fill="#9699f7"/><rect x="277.66" y="121.00" width="7.71" height="2.06" fill="#bfc0f9"/><rect x="285.32" y="121.00" width="7.71" height="2.06" fill="#7176f5"/><rect x="292.98" y="121.00" width="7.71" height="2.06" fill="#8185f5"/><rect x="300.65" y="121.00" width="7.71" height="2.06" fill="#a9acf8"/><rect x="308.31" y="121.00" width="7.71" height="2.06" fill="#cccdf9"/><rect x="315.98" y="121.00" width="7.71" height="2.06" fill="#f9f5f7"/><rect x="323.64" y="121.00" width="7.71" height="2.06" fill="#f8d0d3"/><rect x="331.30" y="121.00" width="7.71" height="2.06" fill="#f3585b"/><rect x="338.97" y="121.00" width="7.71" height="2.06" fill="#f6a9ab"/><rect x="346.63" y="121.00" width="7.71" height="2.06" fill="#f48386"/><rect x="354.30" y="121.00" width="7.71" height="2.06" fill="#f8d4d7"/><rect x="361.96" y="121.00" width="7.71" height="2.06" fill="#f6abae"/><rect x="369.62" y="121.00" width="7.71" height="2.06" fill="#f8cfd2"/><rect x="377.29" y="121.00" width="7.71" height="2.06" fill="#f59598"/><rect x="384.95" y="121.00" width="7.71" height="2.06" fill="#f1363a"/><rect x="392.62" y="121.00" width="7.71" height="2.06" fill="#ddddfa"/><rect x="400.28" y="121.00" width="7.71" height="2.06" fill="#f9e6e9"/><rect x="407.94" y="121.00" width="7.71" height="2.06" fill="#f4f4fb"/><rect x="415.61" y="121.00" width="7.71" height="2.06" fill="#f69ea1"/><rect x="423.27" y="121.00" width="7.71" height="2.06" fill="#f5878a"/><rect x="430.94" y="121.00" width="7.71" height="2.06" fill="#f9f0f2"/><rect x="247.00" y="123.00" width="7.71" height="2.06" fill="#8d90f6"/><rect x="254.66" y="123.00" width="7.71" height="2.06" fill="#898df6"/><rect x="262.33" y="123.00" width="7.71" height="2.06" fill="#9fa2f7"/><rect x="269.99" y="123.00" width="7.71" height="2.06" fill="#bcbef8"/><rect x="277.66" y="123.00" width="7.71" height="2.06" fill="#dbdcfa"/><rect x="285.32" y="123.00" width="7.71" height="2.06" fill="#6e72f4"/><rect x="292.98" y="123.00" width="7.71" height="2.06" fill="#797ef5"/><rect x="300.65" y="123.00" width="7.71" height="2.06" fill="#a1a4f7"/><rect x="308.31" y="123.00" width="7.71" height="2.06" fill="#f8dddf"/><rect x="315.98" y="123.00" width="7.71" height="2.06" fill="#ecedfb"/><rect x="323.64" y="123.00" width="7.71" height="2.06" fill="#f8e1e3"/><rect x="331.30" y="123.00" width="7.71" height="2.06" fill="#f6b1b3"/><rect x="338.97" y="123.00" width="7.71" height="2.06" fill="#f36468"/><rect x="346.63" y="123.00" width="7.71" height="2.06" fill="#f35b5f"/><rect x="354.30" y="123.00" width="7.71" height="2.06" fill="#f01216"/><rect x="361.96" y="123.00" width="7.71" height="2.06" fill="#f01216"/><rect x="369.62" y="123.00" width="7.71" height="2.06" fill="#f7c9cc"/><rect x="377.29" y="123.00" width="7.71" height="2.06" fill="#f24c4f"/><rect x="384.95" y="123.00" width="7.71" height="2.06" fill="#f13b3f"/><rect x="392.62" y="123.00" width="7.71" height="2.06" fill="#f5979a"/><rect x="400.28" y="123.00" width="7.71" height="2.06" fill="#f59598"/><rect x="407.94" y="123.00" width="7.71" height="2.06" fill="#f48184"/><rect x="415.61" y="123.00" width="7.71" height="2.06" fill="#f8d2d4"/><rect x="423.27" y="123.00" width="7.71" height="2.06" fill="#f6acaf"/><rect x="430.94" y="123.00" width="7.71" height="2.06" fill="#f1f1fb"/><rect x="247.00" y="125.01" width="7.71" height="2.06" fill="#0c14f0"/><rect x="254.66" y="125.01" width="7.71" height="2.06" fill="#5d62f4"/><rect x="262.33" y="125.01" width="7.71" height="2.06" fill="#f9e3e5"/><rect x="269.99" y="125.01" width="7.71" height="2.06" fill="#7d81f5"/><rect x="277.66" y="125.01" width="7.71" height="2.06" fill="#f9f5f7"/><rect x="285.32" y="125.01" width="7.71" height="2.06" fill="#8589f6"/><rect x="292.98" y="125.01" width="7.71" height="2.06" fill="#787cf5"/><rect x="300.65" y="125.01" width="7.71" height="2.06" fill="#8488f6"/><rect x="308.31" y="125.01" width="7.71" height="2.06" fill="#232bf1"/><rect x="315.98" y="125.01" width="7.71" height="2.06" fill="#5f64f4"/><rect x="323.64" y="125.01" width="7.71" height="2.06" fill="#f7bec0"/><rect x="331.30" y="125.01" width="7.71" height="2.06" fill="#f48285"/><rect x="338.97" y="125.01" width="7.71" height="2.06" fill="#f6b0b2"/><rect x="346.63" y="125.01" width="7.71" height="2.06" fill="#f6a9ab"/><rect x="354.30" y="125.01" width="7.71" height="2.06" fill="#f5888b"/><rect x="361.96" y="125.01" width="7.71" height="2.06" fill="#f13538"/><rect x="369.62" y="125.01" width="7.71" height="2.06" fill="#f9f7f9"/><rect x="377.29" y="125.01" width="7.71" height="2.06" fill="#f48083"/><rect x="384.95" y="125.01" width="7.71" height="2.06" fill="#f8d9db"/><rect x="392.62" y="125.01" width="7.71" height="2.06" fill="#f5878a"/><rect x="400.28" y="125.01" width="7.71" height="2.06" fill="#f7b6b8"/><rect x="407.94" y="125.01" width="7.71" height="2.06" fill="#d9dafa"/><rect x="415.61" y="125.01" width="7.71" height="2.06" fill="#f59598"/><rect x="423.27" y="125.01" width="7.71" height="2.06" fill="#f7c4c7"/><rect x="430.94" y="125.01" width="7.71" height="2.06" fill="#f7b7ba"/><rect x="247.00" y="127.02" width="7.71" height="2.06" fill="#5258f3"/><rect x="254.66" y="127.02" width="7.71" height="2.06" fill="#3f46f2"/><rect x="262.33" y="127.02" width="7.71" height="2.06" fill="#f6b0b3"/><rect x="269.99" y="127.02" width="7.71" height="2.06" fill="#f9e4e6"/><rect x="277.66" y="127.02" width="7.71" height="2.06" fill="#a3a6f7"/><rect x="285.32" y="127.02" width="7.71" height="2.06" fill="#898df6"/><rect x="292.98" y="127.02" width="7.71" height="2.06" fill="#bcbef8"/><rect x="300.65" y="127.02" width="7.71" height="2.06" fill="#f8e1e4"/><rect x="308.31" y="127.02" width="7.71" height="2.06" fill="#f4f4fb"/><rect x="315.98" y="127.02" width="7.71" height="2.06" fill="#e2e2fa"/><rect x="323.64" y="127.02" width="7.71" height="2.06" fill="#c8caf9"/><rect x="331.30" y="127.02" width="7.71" height="2.06" fill="#cbccf9"/><rect x="338.97" y="127.02" width="7.71" height="2.06" fill="#a2a5f7"/><rect x="346.63" y="127.02" width="7.71" height="2.06" fill="#f8d3d5"/><rect x="354.30" y="127.02" width="7.71" height="2.06" fill="#f9e7e9"/><rect x="361.96" y="127.02" width="7.71" height="2.06" fill="#f7c3c5"/><rect x="369.62" y="127.02" width="7.71" height="2.06" fill="#f48285"/><rect x="377.29" y="127.02" width="7.71" height="2.06" fill="#f47d80"/><rect x="384.95" y="127.02" width="7.71" height="2.06" fill="#f5999c"/><rect x="392.62" y="127.02" width="7.71" height="2.06" fill="#f25659"/><rect x="400.28" y="127.02" width="7.71" height="2.06" fill="#f5989b"/><rect x="407.94" y="127.02" width="7.71" height="2.06" fill="#f7c1c3"/><rect x="415.61" y="127.02" width="7.71" height="2.06" fill="#f7c1c3"/><rect x="423.27" y="127.02" width="7.71" height="2.06" fill="#f8d0d3"/><rect x="430.94" y="127.02" width="7.71" height="2.06" fill="#eeeefb"/><rect x="247.00" y="129.03" width="7.71" height="2.06" fill="#232af1"/><rect x="254.66" y="129.03" width="7.71" height="2.06" fill="#6066f4"/><rect x="262.33" y="129.03" width="7.71" height="2.06" fill="#969af7"/><rect x="269.99" y="129.03" width="7.71" height="2.06" fill="#bbbdf8"/><rect x="277.66" y="129.03" width="7.71" height="2.06" fill="#f5f5fb"/><rect x="285.32" y="129.03" width="7.71" height="2.06" fill="#7d81f5"/><rect x="292.98" y="129.03" width="7.71" height="2.06" fill="#8488f6"/><rect x="300.65" y="129.03" width="7.71" height="2.06" fill="#abaef8"/><rect x="308.31" y="129.03" width="7.71" height="2.06" fill="#d0d1f9"/><rect x="315.98" y="129.03" width="7.71" height="2.06" fill="#5157f3"/><rect x="323.64" y="129.03" width="7.71" height="2.06" fill="#545af3"/><rect x="331.30" y="129.03" width="7.71" height="2.06" fill="#a1a4f7"/><rect x="338.97" y="129.03" width="7.71" height="2.06" fill="#dadbfa"/><rect x="346.63" y="129.03" width="7.71" height="2.06" fill="#f5f5fb"/><rect x="354.30" y="129.03" width="7.71" height="2.06" fill="#f8d7da"/><rect x="361.96" y="129.03" width="7.71" height="2.06" fill="#f6a7aa"/><rect x="369.62" y="129.03" width="7.71" height="2.06" fill="#f9f0f2"/><rect x="377.29" y="129.03" width="7.71" height="2.06" fill="#f6a8aa"/><rect x="384.95" y="129.03" width="7.71" height="2.06" fill="#f6a0a3"/><rect x="392.62" y="129.03" width="7.71" height="2.06" fill="#e8e9fb"/><rect x="400.28" y="129.03" width="7.71" height="2.06" fill="#f9f1f3"/><rect x="407.94" y="129.03" width="7.71" height="2.06" fill="#f7b6b9"/><rect x="415.61" y="129.03" width="7.71" height="2.06" fill="#f59a9c"/><rect x="423.27" y="129.03" width="7.71" height="2.06" fill="#f7c3c5"/><rect x="430.94" y="129.03" width="7.71" height="2.06" fill="#ededfb"/><rect x="247.00" y="131.04" width="7.71" height="2.06" fill="#a7aaf7"/><rect x="254.66" y="131.04" width="7.71" height="2.06" fill="#a6a9f7"/><rect x="262.33" y="131.04" width="7.71" height="2.06" fill="#999cf7"/><rect x="269.99" y="131.04" width="7.71" height="2.06" fill="#d5d6fa"/><rect x="277.66" y="131.04" width="7.71" height="2.06" fill="#dedffa"/><rect x="285.32" y="131.04" width="7.71" height="2.06" fill="#ececfb"/><rect x="292.98" y="131.04" width="7.71" height="2.06" fill="#a8aaf7"/><rect x="300.65" y="131.04" width="7.71" height="2.06" fill="#f7c5c8"/><rect x="308.31" y="131.04" width="7.71" height="2.06" fill="#f9eff1"/><rect x="315.98" y="131.04" width="7.71" height="2.06" fill="#f8dfe1"/><rect x="323.64" y="131.04" width="7.71" height="2.06" fill="#7d81f5"/><rect x="331.30" y="131.04" width="7.71" height="2.06" fill="#f9f1f3"/><rect x="338.97" y="131.04" width="7.71" height="2.06" fill="#f8d0d2"/><rect x="346.63" y="131.04" width="7.71" height="2.06" fill="#e7e7fb"/><rect x="354.30" y="131.04" width="7.71" height="2.06" fill="#bfc1f9"/><rect x="361.96" y="131.04" width="7.71" height="2.06" fill="#f7b9bc"/><rect x="369.62" y="131.04" width="7.71" height="2.06" fill="#f1f2fb"/><rect x="377.29" y="131.04" width="7.71" height="2.06" fill="#f9e3e5"/><rect x="384.95" y="131.04" width="7.71" height="2.06" fill="#f8dfe1"/><rect x="392.62" y="131.04" width="7.71" height="2.06" fill="#f8d4d6"/><rect x="400.28" y="131.04" width="7.71" height="2.06" fill="#f7c6c8"/><rect x="407.94" y="131.04" width="7.71" height="2.06" fill="#ebebfb"/><rect x="415.61" y="131.04" width="7.71" height="2.06" fill="#f48285"/><rect x="423.27" y="131.04" width="7.71" height="2.06" fill="#f2565a"/><rect x="430.94" y="131.04" width="7.71" height="2.06" fill="#f8d1d4"/><rect x="247.00" y="133.04" width="7.71" height="2.06" fill="#5055f3"/><rect x="254.66" y="133.04" width="7.71" height="2.06" fill="#5359f3"/><rect x="262.33" y="133.04" width="7.71" height="2.06" fill="#9fa2f7"/><rect x="269.99" y="133.04" width="7.71" height="2.06" fill="#d3d4fa"/><rect x="277.66" y="133.04" width="7.71" height="2.06" fill="#b3b6f8"/><rect x="285.32" y="133.04" width="7.71" height="2.06" fill="#dfe0fa"/><rect x="292.98" y="133.04" width="7.71" height="2.06" fill="#989bf7"/><rect x="300.65" y="133.04" width="7.71" height="2.06" fill="#696ef4"/><rect x="308.31" y="133.04" width="7.71" height="2.06" fill="#767bf5"/><rect x="315.98" y="133.04" width="7.71" height="2.06" fill="#5d62f4"/><rect x="323.64" y="133.04" width="7.71" height="2.06" fill="#cccdf9"/><rect x="331.30" y="133.04" width="7.71" height="2.06" fill="#f7c8cb"/><rect x="338.97" y="133.04" width="7.71" height="2.06" fill="#f7c0c3"/><rect x="346.63" y="133.04" width="7.71" height="2.06" fill="#f8dfe1"/><rect x="354.30" y="133.04" width="7.71" height="2.06" fill="#f7bec0"/><rect x="361.96" y="133.04" width="7.71" height="2.06" fill="#f9f6f8"/><rect x="369.62" y="133.04" width="7.71" height="2.06" fill="#f8d6d9"/><rect x="377.29" y="133.04" width="7.71" height="2.06" fill="#f7bcbf"/><rect x="384.95" y="133.04" width="7.71" height="2.06" fill="#f58b8e"/><rect x="392.62" y="133.04" width="7.71" height="2.06" fill="#9ea1f7"/><rect x="400.28" y="133.04" width="7.71" height="2.06" fill="#f8dee0"/><rect x="407.94" y="133.04" width="7.71" height="2.06" fill="#d0d2fa"/><rect x="415.61" y="133.04" width="7.71" height="2.06" fill="#b9bbf8"/><rect x="423.27" y="133.04" width="7.71" height="2.06" fill="#e1e2fa"/><rect x="430.94" y="133.04" width="7.71" height="2.06" fill="#f9e5e7"/><rect x="247.00" y="135.05" width="7.71" height="2.06" fill="#b9bbf8"/><rect x="254.66" y="135.05" width="7.71" height="2.06" fill="#aeb0f8"/><rect x="262.33" y="135.05" width="7.71" height="2.06" fill="#f8e1e3"/><rect x="269.99" y="135.05" width="7.71" height="2.06" fill="#cdcff9"/><rect x="277.66" y="135.05" width="7.71" height="2.06" fill="#f8d2d4"/><rect x="285.32" y="135.05" width="7.71" height="2.06" fill="#f9f3f5"/><rect x="292.98" y="135.05" width="7.71" height="2.06" fill="#cbccf9"/><rect x="300.65" y="135.05" width="7.71" height="2.06" fill="#cacbf9"/><rect x="308.31" y="135.05" width="7.71" height="2.06" fill="#6d72f4"/><rect x="315.98" y="135.05" width="7.71" height="2.06" fill="#e8e8fb"/><rect x="323.64" y="135.05" width="7.71" height="2.06" fill="#f9f5f7"/><rect x="331.30" y="135.05" width="7.71" height="2.06" fill="#f36569"/><rect x="338.97" y="135.05" width="7.71" height="2.06" fill="#ebecfb"/><rect x="346.63" y="135.05" width="7.71" height="2.06" fill="#f6a4a7"/><rect x="354.30" y="135.05" width="7.71" height="2.06" fill="#f48083"/><rect x="361.96" y="135.05" width="7.71" height="2.06" fill="#f25458"/><rect x="369.62" y="135.05" width="7.71" height="2.06" fill="#f9e4e7"/><rect x="377.29" y="135.05" width="7.71" height="2.06" fill="#f7b8ba"/><rect x="384.95" y="135.05" width="7.71" height="2.06" fill="#f24e51"/><rect x="392.62" y="135.05" width="7.71" height="2.06" fill="#f6abae"/><rect x="400.28" y="135.05" width="7.71" height="2.06" fill="#f8d4d6"/><rect x="407.94" y="135.05" width="7.71" height="2.06" fill="#f7c4c6"/><rect x="415.61" y="135.05" width="7.71" height="2.06" fill="#f6b1b4"/><rect x="423.27" y="135.05" width="7.71" height="2.06" fill="#f36064"/><rect x="430.94" y="135.05" width="7.71" height="2.06" fill="#f6acae"/><rect x="247.00" y="137.06" width="7.71" height="2.06" fill="#797df5"/><rect x="254.66" y="137.06" width="7.71" height="2.06" fill="#5d62f4"/><rect x="262.33" y="137.06" width="7.71" height="2.06" fill="#d9dafa"/><rect x="269.99" y="137.06" width="7.71" height="2.06" fill="#f7c9cc"/><rect x="277.66" y="137.06" width="7.71" height="2.06" fill="#e8e9fb"/><rect x="285.32" y="137.06" width="7.71" height="2.06" fill="#5056f3"/><rect x="292.98" y="137.06" width="7.71" height="2.06" fill="#9396f6"/><rect x="300.65" y="137.06" width="7.71" height="2.06" fill="#ecedfb"/><rect x="308.31" y="137.06" width="7.71" height="2.06" fill="#a9abf7"/><rect x="315.98" y="137.06" width="7.71" height="2.06" fill="#a3a6f7"/><rect x="323.64" y="137.06" width="7.71" height="2.06" fill="#9396f6"/><rect x="331.30" y="137.06" width="7.71" height="2.06" fill="#e5e6fb"/><rect x="338.97" y="137.06" width="7.71" height="2.06" fill="#d4d5fa"/><rect x="346.63" y="137.06" width="7.71" height="2.06" fill="#bfc1f9"/><rect x="354.30" y="137.06" width="7.71" height="2.06" fill="#f9ebed"/><rect x="361.96" y="137.06" width="7.71" height="2.06" fill="#f7bec1"/><rect x="369.62" y="137.06" width="7.71" height="2.06" fill="#f9f3f5"/><rect x="377.29" y="137.06" width="7.71" height="2.06" fill="#f69fa2"/><rect x="384.95" y="137.06" width="7.71" height="2.06" fill="#f7b5b7"/><rect x="392.62" y="137.06" width="7.71" height="2.06" fill="#f6a7aa"/><rect x="400.28" y="137.06" width="7.71" height="2.06" fill="#f58d90"/><rect x="407.94" y="137.06" width="7.71" height="2.06" fill="#f47a7e"/><rect x="415.61" y="137.06" width="7.71" height="2.06" fill="#f8d4d7"/><rect x="423.27" y="137.06" width="7.71" height="2.06" fill="#f7c3c6"/><rect x="430.94" y="137.06" width="7.71" height="2.06" fill="#f48386"/><rect x="247.00" y="139.07" width="7.71" height="2.06" fill="#4147f2"/><rect x="254.66" y="139.07" width="7.71" height="2.06" fill="#0c14f0"/><rect x="262.33" y="139.07" width="7.71" height="2.06" fill="#1d25f0"/><rect x="269.99" y="139.07" width="7.71" height="2.06" fill="#9195f6"/><rect x="277.66" y="139.07" width="7.71" height="2.06" fill="#f9eef0"/><rect x="285.32" y="139.07" width="7.71" height="2.06" fill="#6469f4"/><rect x="292.98" y="139.07" width="7.71" height="2.06" fill="#eeeefb"/><rect x="300.65" y="139.07" width="7.71" height="2.06" fill="#6065f4"/><rect x="308.31" y="139.07" width="7.71" height="2.06" fill="#9194f6"/><rect x="315.98" y="139.07" width="7.71" height="2.06" fill="#9598f6"/><rect x="323.64" y="139.07" width="7.71" height="2.06" fill="#dddefa"/><rect x="331.30" y="139.07" width="7.71" height="2.06" fill="#f8d3d5"/><rect x="338.97" y="139.07" width="7.71" height="2.06" fill="#f8cbce"/><rect x="346.63" y="139.07" width="7.71" height="2.06" fill="#ececfb"/><rect x="354.30" y="139.07" width="7.71" height="2.06" fill="#f36063"/><rect x="361.96" y="139.07" width="7.71" height="2.06" fill="#f6a2a5"/><rect x="369.62" y="139.07" width="7.71" height="2.06" fill="#f7c0c3"/><rect x="377.29" y="139.07" width="7.71" height="2.06" fill="#f13539"/><rect x="384.95" y="139.07" width="7.71" height="2.06" fill="#f4777a"/><rect x="392.62" y="139.07" width="7.71" height="2.06" fill="#f36265"/><rect x="400.28" y="139.07" width="7.71" height="2.06" fill="#f24548"/><rect x="407.94" y="139.07" width="7.71" height="2.06" fill="#f58d90"/><rect x="415.61" y="139.07" width="7.71" height="2.06" fill="#f59a9d"/><rect x="423.27" y="139.07" width="7.71" height="2.06" fill="#f36468"/><rect x="430.94" y="139.07" width="7.71" height="2.06" fill="#c7c9f9"/><rect x="247.00" y="141.07" width="7.71" height="2.06" fill="#0c14f0"/><rect x="254.66" y="141.07" width="7.71" height="2.06" fill="#5157f3"/><rect x="262.33" y="141.07" width="7.71" height="2.06" fill="#878bf6"/><rect x="269.99" y="141.07" width="7.71" height="2.06" fill="#a6a9f7"/><rect x="277.66" y="141.07" width="7.71" height="2.06" fill="#aeb1f8"/><rect x="285.32" y="141.07" width="7.71" height="2.06" fill="#4d52f3"/><rect x="292.98" y="141.07" width="7.71" height="2.06" fill="#8f92f6"/><rect x="300.65" y="141.07" width="7.71" height="2.06" fill="#7f83f5"/><rect x="308.31" y="141.07" width="7.71" height="2.06" fill="#adb0f8"/><rect x="315.98" y="141.07" width="7.71" height="2.06" fill="#dadbfa"/><rect x="323.64" y="141.07" width="7.71" height="2.06" fill="#b3b5f8"/><rect x="331.30" y="141.07" width="7.71" height="2.06" fill="#f69da0"/><rect x="338.97" y="141.07" width="7.71" height="2.06" fill="#f6a0a3"/><rect x="346.63" y="141.07" width="7.71" height="2.06" fill="#c5c6f9"/><rect x="354.30" y="141.07" width="7.71" height="2.06" fill="#f47b7f"/><rect x="361.96" y="141.07" width="7.71" height="2.06" fill="#f59193"/><rect x="369.62" y="141.07" width="7.71" height="2.06" fill="#f36164"/><rect x="377.29" y="141.07" width="7.71" height="2.06" fill="#f25559"/><rect x="384.95" y="141.07" width="7.71" height="2.06" fill="#f12e32"/><rect x="392.62" y="141.07" width="7.71" height="2.06" fill="#f24044"/><rect x="400.28" y="141.07" width="7.71" height="2.06" fill="#f47a7d"/><rect x="407.94" y="141.07" width="7.71" height="2.06" fill="#f48285"/><rect x="415.61" y="141.07" width="7.71" height="2.06" fill="#f48083"/><rect x="423.27" y="141.07" width="7.71" height="2.06" fill="#f58d90"/><rect x="430.94" y="141.07" width="7.71" height="2.06" fill="#f4797d"/><rect x="247.00" y="143.08" width="7.71" height="2.06" fill="#aaadf8"/><rect x="254.66" y="143.08" width="7.71" height="2.06" fill="#c7c8f9"/><rect x="262.33" y="143.08" width="7.71" height="2.06" fill="#7175f5"/><rect x="269.99" y="143.08" width="7.71" height="2.06" fill="#ced0f9"/><rect x="277.66" y="143.08" width="7.71" height="2.06" fill="#f9e6e8"/><rect x="285.32" y="143.08" width="7.71" height="2.06" fill="#e1e1fa"/><rect x="292.98" y="143.08" width="7.71" height="2.06" fill="#8488f6"/><rect x="300.65" y="143.08" width="7.71" height="2.06" fill="#abadf8"/><rect x="308.31" y="143.08" width="7.71" height="2.06" fill="#a4a7f7"/><rect x="315.98" y="143.08" width="7.71" height="2.06" fill="#767af5"/><rect x="323.64" y="143.08" width="7.71" height="2.06" fill="#9b9ef7"/><rect x="331.30" y="143.08" width="7.71" height="2.06" fill="#f9eaec"/><rect x="338.97" y="143.08" width="7.71" height="2.06" fill="#f8d4d7"/><rect x="346.63" y="143.08" width="7.71" height="2.06" fill="#f7c7c9"/><rect x="354.30" y="143.08" width="7.71" height="2.06" fill="#f47477"/><rect x="361.96" y="143.08" width="7.71" height="2.06" fill="#f59497"/><rect x="369.62" y="143.08" width="7.71" height="2.06" fill="#e2e3fa"/><rect x="377.29" y="143.08" width="7.71" height="2.06" fill="#f47579"/><rect x="384.95" y="143.08" width="7.71" height="2.06" fill="#f6a9ac"/><rect x="392.62" y="143.08" width="7.71" height="2.06" fill="#f4787b"/><rect x="400.28" y="143.08" width="7.71" height="2.06" fill="#f59b9e"/><rect x="407.94" y="143.08" width="7.71" height="2.06" fill="#f9e5e7"/><rect x="415.61" y="143.08" width="7.71" height="2.06" fill="#f6a1a3"/><rect x="423.27" y="143.08" width="7.71" height="2.06" fill="#f8ced0"/><rect x="430.94" y="143.08" width="7.71" height="2.06" fill="#f35f63"/><rect x="247.00" y="145.09" width="7.71" height="2.06" fill="#cacbf9"/><rect x="254.66" y="145.09" width="7.71" height="2.06" fill="#b0b2f8"/><rect x="262.33" y="145.09" width="7.71" height="2.06" fill="#b2b4f8"/><rect x="269.99" y="145.09" width="7.71" height="2.06" fill="#cdcef9"/><rect x="277.66" y="145.09" width="7.71" height="2.06" fill="#f8dadc"/><rect x="285.32" y="145.09" width="7.71" height="2.06" fill="#6d71f4"/><rect x="292.98" y="145.09" width="7.71" height="2.06" fill="#6267f4"/><rect x="300.65" y="145.09" width="7.71" height="2.06" fill="#9598f6"/><rect x="308.31" y="145.09" width="7.71" height="2.06" fill="#9a9ef7"/><rect x="315.98" y="145.09" width="7.71" height="2.06" fill="#cbcdf9"/><rect x="323.64" y="145.09" width="7.71" height="2.06" fill="#b5b7f8"/><rect x="331.30" y="145.09" width="7.71" height="2.06" fill="#f3676a"/><rect x="338.97" y="145.09" width="7.71" height="2.06" fill="#e1e2fa"/><rect x="346.63" y="145.09" width="7.71" height="2.06" fill="#f7bcbf"/><rect x="354.30" y="145.09" width="7.71" height="2.06" fill="#f6a2a4"/><rect x="361.96" y="145.09" width="7.71" height="2.06" fill="#f13034"/><rect x="369.62" y="145.09" width="7.71" height="2.06" fill="#f6a1a4"/><rect x="377.29" y="145.09" width="7.71" height="2.06" fill="#f36467"/><rect x="384.95" y="145.09" width="7.71" height="2.06" fill="#f24447"/><rect x="392.62" y="145.09" width="7.71" height="2.06" fill="#f25457"/><rect x="400.28" y="145.09" width="7.71" height="2.06" fill="#f8e2e4"/><rect x="407.94" y="145.09" width="7.71" height="2.06" fill="#f7c5c7"/><rect x="415.61" y="145.09" width="7.71" height="2.06" fill="#f8d9db"/><rect x="423.27" y="145.09" width="7.71" height="2.06" fill="#f6a4a7"/><rect x="430.94" y="145.09" width="7.71" height="2.06" fill="#f7c9cb"/><rect x="247.00" y="147.10" width="7.71" height="2.06" fill="#464cf2"/><rect x="254.66" y="147.10" width="7.71" height="2.06" fill="#2f35f1"/><rect x="262.33" y="147.10" width="7.71" height="2.06" fill="#666bf4"/><rect x="269.99" y="147.10" width="7.71" height="2.06" fill="#aaacf8"/><rect x="277.66" y="147.10" width="7.71" height="2.06" fill="#cbccf9"/><rect x="285.32" y="147.10" width="7.71" height="2.06" fill="#343bf2"/><rect x="292.98" y="147.10" width="7.71" height="2.06" fill="#8e92f6"/><rect x="300.65" y="147.10" width="7.71" height="2.06" fill="#d7d8fa"/><rect x="308.31" y="147.10" width="7.71" height="2.06" fill="#cccdf9"/><rect x="315.98" y="147.10" width="7.71" height="2.06" fill="#f9f3f5"/><rect x="323.64" y="147.10" width="7.71" height="2.06" fill="#7277f5"/><rect x="331.30" y="147.10" width="7.71" height="2.06" fill="#9fa2f7"/><rect x="338.97" y="147.10" width="7.71" height="2.06" fill="#f9f5f7"/><rect x="346.63" y="147.10" width="7.71" height="2.06" fill="#f6a3a6"/><rect x="354.30" y="147.10" width="7.71" height="2.06" fill="#f24c4f"/><rect x="361.96" y="147.10" width="7.71" height="2.06" fill="#f5999b"/><rect x="369.62" y="147.10" width="7.71" height="2.06" fill="#f7b5b8"/><rect x="377.29" y="147.10" width="7.71" height="2.06" fill="#f36d70"/><rect x="384.95" y="147.10" width="7.71" height="2.06" fill="#f36d70"/><rect x="392.62" y="147.10" width="7.71" height="2.06" fill="#f8dcde"/><rect x="400.28" y="147.10" width="7.71" height="2.06" fill="#f8d2d5"/><rect x="407.94" y="147.10" width="7.71" height="2.06" fill="#ecedfb"/><rect x="415.61" y="147.10" width="7.71" height="2.06" fill="#f8dee0"/><rect x="423.27" y="147.10" width="7.71" height="2.06" fill="#f59395"/><rect x="430.94" y="147.10" width="7.71" height="2.06" fill="#f4f4fb"/><rect x="247.00" y="149.11" width="7.71" height="2.06" fill="#c8caf9"/><rect x="254.66" y="149.11" width="7.71" height="2.06" fill="#7e82f5"/><rect x="262.33" y="149.11" width="7.71" height="2.06" fill="#a1a4f7"/><rect x="269.99" y="149.11" width="7.71" height="2.06" fill="#9a9df7"/><rect x="277.66" y="149.11" width="7.71" height="2.06" fill="#e7e7fb"/><rect x="285.32" y="149.11" width="7.71" height="2.06" fill="#8f92f6"/><rect x="292.98" y="149.11" width="7.71" height="2.06" fill="#f7f7fb"/><rect x="300.65" y="149.11" width="7.71" height="2.06" fill="#8d91f6"/><rect x="308.31" y="149.11" width="7.71" height="2.06" fill="#3d43f2"/><rect x="315.98" y="149.11" width="7.71" height="2.06" fill="#797df5"/><rect x="323.64" y="149.11" width="7.71" height="2.06" fill="#f8e1e4"/><rect x="331.30" y="149.11" width="7.71" height="2.06" fill="#f6a6a9"/><rect x="338.97" y="149.11" width="7.71" height="2.06" fill="#f7c7ca"/><rect x="346.63" y="149.11" width="7.71" height="2.06" fill="#f4f5fb"/><rect x="354.30" y="149.11" width="7.71" height="2.06" fill="#f58e91"/><rect x="361.96" y="149.11" width="7.71" height="2.06" fill="#f59d9f"/><rect x="369.62" y="149.11" width="7.71" height="2.06" fill="#f6b3b6"/><rect x="377.29" y="149.11" width="7.71" height="2.06" fill="#f2474b"/><rect x="384.95" y="149.11" width="7.71" height="2.06" fill="#f47f82"/><rect x="392.62" y="149.11" width="7.71" height="2.06" fill="#f36366"/><rect x="400.28" y="149.11" width="7.71" height="2.06" fill="#f7b6b9"/><rect x="407.94" y="149.11" width="7.71" height="2.06" fill="#f69fa2"/><rect x="415.61" y="149.11" width="7.71" height="2.06" fill="#f47376"/><rect x="423.27" y="149.11" width="7.71" height="2.06" fill="#f8ced1"/><rect x="430.94" y="149.11" width="7.71" height="2.06" fill="#f35d60"/><rect x="247.00" y="151.11" width="7.71" height="2.06" fill="#4046f2"/><rect x="254.66" y="151.11" width="7.71" height="2.06" fill="#5056f3"/><rect x="262.33" y="151.11" width="7.71" height="2.06" fill="#676cf4"/><rect x="269.99" y="151.11" width="7.71" height="2.06" fill="#a3a6f7"/><rect x="277.66" y="151.11" width="7.71" height="2.06" fill="#c4c6f9"/><rect x="285.32" y="151.11" width="7.71" height="2.06" fill="#c8c9f9"/><rect x="292.98" y="151.11" width="7.71" height="2.06" fill="#dcddfa"/><rect x="300.65" y="151.11" width="7.71" height="2.06" fill="#999cf7"/><rect x="308.31" y="151.11" width="7.71" height="2.06" fill="#9699f7"/><rect x="315.98" y="151.11" width="7.71" height="2.06" fill="#dedffa"/><rect x="323.64" y="151.11" width="7.71" height="2.06" fill="#9599f7"/><rect x="331.30" y="151.11" width="7.71" height="2.06" fill="#d0d2fa"/><rect x="338.97" y="151.11" width="7.71" height="2.06" fill="#f3f3fb"/><rect x="346.63" y="151.11" width="7.71" height="2.06" fill="#f9f2f5"/><rect x="354.30" y="151.11" width="7.71" height="2.06" fill="#f6b2b5"/><rect x="361.96" y="151.11" width="7.71" height="2.06" fill="#f24a4d"/><rect x="369.62" y="151.11" width="7.71" height="2.06" fill="#f36c70"/><rect x="377.29" y="151.11" width="7.71" height="2.06" fill="#f35e62"/><rect x="384.95" y="151.11" width="7.71" height="2.06" fill="#f24346"/><rect x="392.62" y="151.11" width="7.71" height="2.06" fill="#f25357"/><rect x="400.28" y="151.11" width="7.71" height="2.06" fill="#f47c7f"/><rect x="407.94" y="151.11" width="7.71" height="2.06" fill="#f25053"/><rect x="415.61" y="151.11" width="7.71" height="2.06" fill="#f6b2b5"/><rect x="423.27" y="151.11" width="7.71" height="2.06" fill="#f6b4b6"/><rect x="430.94" y="151.11" width="7.71" height="2.06" fill="#f13e42"/><rect x="247.00" y="153.12" width="7.71" height="2.06" fill="#666bf4"/><rect x="254.66" y="153.12" width="7.71" height="2.06" fill="#8084f5"/><rect x="262.33" y="153.12" width="7.71" height="2.06" fill="#b9bbf8"/><rect x="269.99" y="153.12" width="7.71" height="2.06" fill="#d5d6fa"/><rect x="277.66" y="153.12" width="7.71" height="2.06" fill="#efeffb"/><rect x="285.32" y="153.12" width="7.71" height="2.06" fill="#c6c8f9"/><rect x="292.98" y="153.12" width="7.71" height="2.06" fill="#8589f6"/><rect x="300.65" y="153.12" width="7.71" height="2.06" fill="#b0b2f8"/><rect x="308.31" y="153.12" width="7.71" height="2.06" fill="#b1b4f8"/><rect x="315.98" y="153.12" width="7.71" height="2.06" fill="#9c9ff7"/><rect x="323.64" y="153.12" width="7.71" height="2.06" fill="#e8e8fb"/><rect x="331.30" y="153.12" width="7.71" height="2.06" fill="#f6a0a3"/><rect x="338.97" y="153.12" width="7.71" height="2.06" fill="#f69fa2"/><rect x="346.63" y="153.12" width="7.71" height="2.06" fill="#f9f6f8"/><rect x="354.30" y="153.12" width="7.71" height="2.06" fill="#f13135"/><rect x="361.96" y="153.12" width="7.71" height="2.06" fill="#f25054"/><rect x="369.62" y="153.12" width="7.71" height="2.06" fill="#f8d5d8"/><rect x="377.29" y="153.12" width="7.71" height="2.06" fill="#f7c5c8"/><rect x="384.95" y="153.12" width="7.71" height="2.06" fill="#f47679"/><rect x="392.62" y="153.12" width="7.71" height="2.06" fill="#f13337"/><rect x="400.28" y="153.12" width="7.71" height="2.06" fill="#f8ccce"/><rect x="407.94" y="153.12" width="7.71" height="2.06" fill="#f6b3b6"/><rect x="415.61" y="153.12" width="7.71" height="2.06" fill="#f35a5d"/><rect x="423.27" y="153.12" width="7.71" height="2.06" fill="#f47a7d"/><rect x="430.94" y="153.12" width="7.71" height="2.06" fill="#f0171b"/><rect x="247.00" y="155.13" width="7.71" height="2.06" fill="#6166f4"/><rect x="254.66" y="155.13" width="7.71" height="2.06" fill="#8c8ff6"/><rect x="262.33" y="155.13" width="7.71" height="2.06" fill="#f7b5b8"/><rect x="269.99" y="155.13" width="7.71" height="2.06" fill="#f7babc"/><rect x="277.66" y="155.13" width="7.71" height="2.06" fill="#c8caf9"/><rect x="285.32" y="155.13" width="7.71" height="2.06" fill="#8d90f6"/><rect x="292.98" y="155.13" width="7.71" height="2.06" fill="#6b70f4"/><rect x="300.65" y="155.13" width="7.71" height="2.06" fill="#9497f6"/><rect x="308.31" y="155.13" width="7.71" height="2.06" fill="#3238f1"/><rect x="315.98" y="155.13" width="7.71" height="2.06" fill="#999cf7"/><rect x="323.64" y="155.13" width="7.71" height="2.06" fill="#f1f1fb"/><rect x="331.30" y="155.13" width="7.71" height="2.06" fill="#f8dbdd"/><rect x="338.97" y="155.13" width="7.71" height="2.06" fill="#f9f5f7"/><rect x="346.63" y="155.13" width="7.71" height="2.06" fill="#f48386"/><rect x="354.30" y="155.13" width="7.71" height="2.06" fill="#f02428"/><rect x="361.96" y="155.13" width="7.71" height="2.06" fill="#f0161a"/><rect x="369.62" y="155.13" width="7.71" height="2.06" fill="#f24c50"/><rect x="377.29" y="155.13" width="7.71" height="2.06" fill="#f47073"/><rect x="384.95" y="155.13" width="7.71" height="2.06" fill="#f6afb1"/><rect x="392.62" y="155.13" width="7.71" height="2.06" fill="#f48588"/><rect x="400.28" y="155.13" width="7.71" height="2.06" fill="#f9f7f9"/><rect x="407.94" y="155.13" width="7.71" height="2.06" fill="#f69ea1"/><rect x="415.61" y="155.13" width="7.71" height="2.06" fill="#f59b9d"/><rect x="423.27" y="155.13" width="7.71" height="2.06" fill="#f6b4b6"/><rect x="430.94" y="155.13" width="7.71" height="2.06" fill="#f24f52"/><rect x="247.00" y="157.14" width="7.71" height="2.06" fill="#8e91f6"/><rect x="254.66" y="157.14" width="7.71" height="2.06" fill="#2c33f1"/><rect x="262.33" y="157.14" width="7.71" height="2.06" fill="#5055f3"/><rect x="269.99" y="157.14" width="7.71" height="2.06" fill="#9295f6"/><rect x="277.66" y="157.14" width="7.71" height="2.06" fill="#f2f2fb"/><rect x="285.32" y="157.14" width="7.71" height="2.06" fill="#6e72f4"/><rect x="292.98" y="157.14" width="7.71" height="2.06" fill="#7b7ff5"/><rect x="300.65" y="157.14" width="7.71" height="2.06" fill="#e0e1fa"/><rect x="308.31" y="157.14" width="7.71" height="2.06" fill="#f4f4fb"/><rect x="315.98" y="157.14" width="7.71" height="2.06" fill="#f8cbce"/><rect x="323.64" y="157.14" width="7.71" height="2.06" fill="#454bf2"/><rect x="331.30" y="157.14" width="7.71" height="2.06" fill="#e4e5fb"/><rect x="338.97" y="157.14" width="7.71" height="2.06" fill="#f9edef"/><rect x="346.63" y="157.14" width="7.71" height="2.06" fill="#f9f9fb"/><rect x="354.30" y="157.14" width="7.71" height="2.06" fill="#f6b3b6"/><rect x="361.96" y="157.14" width="7.71" height="2.06" fill="#f5878a"/><rect x="369.62" y="157.14" width="7.71" height="2.06" fill="#f35a5d"/><rect x="377.29" y="157.14" width="7.71" height="2.06" fill="#f58689"/><rect x="384.95" y="157.14" width="7.71" height="2.06" fill="#f59598"/><rect x="392.62" y="157.14" width="7.71" height="2.06" fill="#f35d60"/><rect x="400.28" y="157.14" width="7.71" height="2.06" fill="#d8d9fa"/><rect x="407.94" y="157.14" width="7.71" height="2.06" fill="#f69fa1"/><rect x="415.61" y="157.14" width="7.71" height="2.06" fill="#f7bdc0"/><rect x="423.27" y="157.14" width="7.71" height="2.06" fill="#f7c2c5"/><rect x="430.94" y="157.14" width="7.71" height="2.06" fill="#abaef8"/><rect x="247.00" y="159.14" width="7.71" height="2.06" fill="#3a40f2"/><rect x="254.66" y="159.14" width="7.71" height="2.06" fill="#0c14f0"/><rect x="262.33" y="159.14" width="7.71" height="2.06" fill="#afb2f8"/><rect x="269.99" y="159.14" width="7.71" height="2.06" fill="#bdbff9"/><rect x="277.66" y="159.14" width="7.71" height="2.06" fill="#8e92f6"/><rect x="285.32" y="159.14" width="7.71" height="2.06" fill="#7e82f5"/><rect x="292.98" y="159.14" width="7.71" height="2.06" fill="#5358f3"/><rect x="300.65" y="159.14" width="7.71" height="2.06" fill="#d2d4fa"/><rect x="308.31" y="159.14" width="7.71" height="2.06" fill="#a4a7f7"/><rect x="315.98" y="159.14" width="7.71" height="2.06" fill="#b1b4f8"/><rect x="323.64" y="159.14" width="7.71" height="2.06" fill="#777cf5"/><rect x="331.30" y="159.14" width="7.71" height="2.06" fill="#f6aeb0"/><rect x="338.97" y="159.14" width="7.71" height="2.06" fill="#f3f4fb"/><rect x="346.63" y="159.14" width="7.71" height="2.06" fill="#f9edf0"/><rect x="354.30" y="159.14" width="7.71" height="2.06" fill="#f7b5b8"/><rect x="361.96" y="159.14" width="7.71" height="2.06" fill="#f59598"/><rect x="369.62" y="159.14" width="7.71" height="2.06" fill="#f13438"/><rect x="377.29" y="159.14" width="7.71" height="2.06" fill="#f7b6b9"/><rect x="384.95" y="159.14" width="7.71" height="2.06" fill="#f6aeb1"/><rect x="392.62" y="159.14" width="7.71" height="2.06" fill="#f8d4d6"/><rect x="400.28" y="159.14" width="7.71" height="2.06" fill="#f7c4c7"/><rect x="407.94" y="159.14" width="7.71" height="2.06" fill="#e4e4fa"/><rect x="415.61" y="159.14" width="7.71" height="2.06" fill="#f9f7f9"/><rect x="423.27" y="159.14" width="7.71" height="2.06" fill="#ebebfb"/><rect x="430.94" y="159.14" width="7.71" height="2.06" fill="#f9f3f5"/><rect x="247.00" y="161.15" width="7.71" height="2.06" fill="#2b32f1"/><rect x="254.66" y="161.15" width="7.71" height="2.06" fill="#474df3"/><rect x="262.33" y="161.15" width="7.71" height="2.06" fill="#f8e1e3"/><rect x="269.99" y="161.15" width="7.71" height="2.06" fill="#f8cdcf"/><rect x="277.66" y="161.15" width="7.71" height="2.06" fill="#f8e2e4"/><rect x="285.32" y="161.15" width="7.71" height="2.06" fill="#b3b5f8"/><rect x="292.98" y="161.15" width="7.71" height="2.06" fill="#4f55f3"/><rect x="300.65" y="161.15" width="7.71" height="2.06" fill="#c6c7f9"/><rect x="308.31" y="161.15" width="7.71" height="2.06" fill="#ebebfb"/><rect x="315.98" y="161.15" width="7.71" height="2.06" fill="#bec0f9"/><rect x="323.64" y="161.15" width="7.71" height="2.06" fill="#ebebfb"/><rect x="331.30" y="161.15" width="7.71" height="2.06" fill="#f8d9db"/><rect x="338.97" y="161.15" width="7.71" height="2.06" fill="#f6a6a8"/><rect x="346.63" y="161.15" width="7.71" height="2.06" fill="#f8ced1"/><rect x="354.30" y="161.15" width="7.71" height="2.06" fill="#f3676a"/><rect x="361.96" y="161.15" width="7.71" height="2.06" fill="#f02629"/><rect x="369.62" y="161.15" width="7.71" height="2.06" fill="#f01216"/><rect x="377.29" y="161.15" width="7.71" height="2.06" fill="#f01216"/><rect x="384.95" y="161.15" width="7.71" height="2.06" fill="#f0262a"/><rect x="392.62" y="161.15" width="7.71" height="2.06" fill="#f59295"/><rect x="400.28" y="161.15" width="7.71" height="2.06" fill="#f7bec0"/><rect x="407.94" y="161.15" width="7.71" height="2.06" fill="#f8dcde"/><rect x="415.61" y="161.15" width="7.71" height="2.06" fill="#f4787b"/><rect x="423.27" y="161.15" width="7.71" height="2.06" fill="#f01a1e"/><rect x="430.94" y="161.15" width="7.71" height="2.06" fill="#f5999b"/><rect x="247.00" y="163.16" width="7.71" height="2.06" fill="#9699f7"/><rect x="254.66" y="163.16" width="7.71" height="2.06" fill="#b5b8f8"/><rect x="262.33" y="163.16" width="7.71" height="2.06" fill="#c6c8f9"/><rect x="269.99" y="163.16" width="7.71" height="2.06" fill="#f6a9ac"/><rect x="277.66" y="163.16" width="7.71" height="2.06" fill="#bdbff9"/><rect x="285.32" y="163.16" width="7.71" height="2.06" fill="#5055f3"/><rect x="292.98" y="163.16" width="7.71" height="2.06" fill="#777bf5"/><rect x="300.65" y="163.16" width="7.71" height="2.06" fill="#6368f4"/><rect x="308.31" y="163.16" width="7.71" height="2.06" fill="#4a50f3"/><rect x="315.98" y="163.16" width="7.71" height="2.06" fill="#383ef2"/><rect x="323.64" y="163.16" width="7.71" height="2.06" fill="#6469f4"/><rect x="331.30" y="163.16" width="7.71" height="2.06" fill="#f6b2b4"/><rect x="338.97" y="163.16" width="7.71" height="2.06" fill="#f35d60"/><rect x="346.63" y="163.16" width="7.71" height="2.06" fill="#f8e0e3"/><rect x="354.30" y="163.16" width="7.71" height="2.06" fill="#f47376"/><rect x="361.96" y="163.16" width="7.71" height="2.06" fill="#f6aeb1"/><rect x="369.62" y="163.16" width="7.71" height="2.06" fill="#f01216"/><rect x="377.29" y="163.16" width="7.71" height="2.06" fill="#f0282b"/><rect x="384.95" y="163.16" width="7.71" height="2.06" fill="#f36165"/><rect x="392.62" y="163.16" width="7.71" height="2.06" fill="#f36568"/><rect x="400.28" y="163.16" width="7.71" height="2.06" fill="#f36e71"/><rect x="407.94" y="163.16" width="7.71" height="2.06" fill="#f47e81"/><rect x="415.61" y="163.16" width="7.71" height="2.06" fill="#f8d6d8"/><rect x="423.27" y="163.16" width="7.71" height="2.06" fill="#f6a4a7"/><rect x="430.94" y="163.16" width="7.71" height="2.06" fill="#f6a9ac"/><rect x="247.00" y="165.17" width="7.71" height="2.06" fill="#3f45f2"/><rect x="254.66" y="165.17" width="7.71" height="2.06" fill="#272ef1"/><rect x="262.33" y="165.17" width="7.71" height="2.06" fill="#8a8ef6"/><rect x="269.99" y="165.17" width="7.71" height="2.06" fill="#ecedfb"/><rect x="277.66" y="165.17" width="7.71" height="2.06" fill="#c7c9f9"/><rect x="285.32" y="165.17" width="7.71" height="2.06" fill="#2e35f1"/><rect x="292.98" y="165.17" width="7.71" height="2.06" fill="#9699f7"/><rect x="300.65" y="165.17" width="7.71" height="2.06" fill="#9c9ff7"/><rect x="308.31" y="165.17" width="7.71" height="2.06" fill="#6469f4"/><rect x="315.98" y="165.17" width="7.71" height="2.06" fill="#a1a4f7"/><rect x="323.64" y="165.17" width="7.71" height="2.06" fill="#767af5"/><rect x="331.30" y="165.17" width="7.71" height="2.06" fill="#f6acae"/><rect x="338.97" y="165.17" width="7.71" height="2.06" fill="#f6adaf"/><rect x="346.63" y="165.17" width="7.71" height="2.06" fill="#f7c2c4"/><rect x="354.30" y="165.17" width="7.71" height="2.06" fill="#f25458"/><rect x="361.96" y="165.17" width="7.71" height="2.06" fill="#f35d61"/><rect x="369.62" y="165.17" width="7.71" height="2.06" fill="#f01216"/><rect x="377.29" y="165.17" width="7.71" height="2.06" fill="#f01d21"/><rect x="384.95" y="165.17" width="7.71" height="2.06" fill="#f0282c"/><rect x="392.62" y="165.17" width="7.71" height="2.06" fill="#f7c8cb"/><rect x="400.28" y="165.17" width="7.71" height="2.06" fill="#7c80f5"/><rect x="407.94" y="165.17" width="7.71" height="2.06" fill="#f9e4e6"/><rect x="415.61" y="165.17" width="7.71" height="2.06" fill="#f9f6f8"/><rect x="423.27" y="165.17" width="7.71" height="2.06" fill="#f6aaad"/><rect x="430.94" y="165.17" width="7.71" height="2.06" fill="#f58f92"/><rect x="247.00" y="167.18" width="7.71" height="2.06" fill="#595ef3"/><rect x="254.66" y="167.18" width="7.71" height="2.06" fill="#676cf4"/><rect x="262.33" y="167.18" width="7.71" height="2.06" fill="#9ea1f7"/><rect x="269.99" y="167.18" width="7.71" height="2.06" fill="#a5a8f7"/><rect x="277.66" y="167.18" width="7.71" height="2.06" fill="#8f92f6"/><rect x="285.32" y="167.18" width="7.71" height="2.06" fill="#9295f6"/><rect x="292.98" y="167.18" width="7.71" height="2.06" fill="#4c52f3"/><rect x="300.65" y="167.18" width="7.71" height="2.06" fill="#7074f5"/><rect x="308.31" y="167.18" width="7.71" height="2.06" fill="#b9bbf8"/><rect x="315.98" y="167.18" width="7.71" height="2.06" fill="#b0b2f8"/><rect x="323.64" y="167.18" width="7.71" height="2.06" fill="#9194f6"/><rect x="331.30" y="167.18" width="7.71" height="2.06" fill="#e8e9fb"/><rect x="338.97" y="167.18" width="7.71" height="2.06" fill="#f24246"/><rect x="346.63" y="167.18" width="7.71" height="2.06" fill="#f7bdbf"/><rect x="354.30" y="167.18" width="7.71" height="2.06" fill="#f35f63"/><rect x="361.96" y="167.18" width="7.71" height="2.06" fill="#f47679"/><rect x="369.62" y="167.18" width="7.71" height="2.06" fill="#f24d51"/><rect x="377.29" y="167.18" width="7.71" height="2.06" fill="#f4777a"/><rect x="384.95" y="167.18" width="7.71" height="2.06" fill="#f13a3d"/><rect x="392.62" y="167.18" width="7.71" height="2.06" fill="#f47578"/><rect x="400.28" y="167.18" width="7.71" height="2.06" fill="#f7c0c2"/><rect x="407.94" y="167.18" width="7.71" height="2.06" fill="#f9e3e6"/><rect x="415.61" y="167.18" width="7.71" height="2.06" fill="#f8e0e2"/><rect x="423.27" y="167.18" width="7.71" height="2.06" fill="#f7babd"/><rect x="430.94" y="167.18" width="7.71" height="2.06" fill="#f9f5f7"/><rect x="247.00" y="169.18" width="7.71" height="2.06" fill="#f8dee0"/><rect x="254.66" y="169.18" width="7.71" height="2.06" fill="#f7bfc2"/><rect x="262.33" y="169.18" width="7.71" height="2.06" fill="#bdbff9"/><rect x="269.99" y="169.18" width="7.71" height="2.06" fill="#f6b1b3"/><rect x="277.66" y="169.18" width="7.71" height="2.06" fill="#dbdcfa"/><rect x="285.32" y="169.18" width="7.71" height="2.06" fill="#b8baf8"/><rect x="292.98" y="169.18" width="7.71" height="2.06" fill="#b0b3f8"/><rect x="300.65" y="169.18" width="7.71" height="2.06" fill="#b0b3f8"/><rect x="308.31" y="169.18" width="7.71" height="2.06" fill="#696ef4"/><rect x="315.98" y="169.18" width="7.71" height="2.06" fill="#a3a6f7"/><rect x="323.64" y="169.18" width="7.71" height="2.06" fill="#252cf1"/><rect x="331.30" y="169.18" width="7.71" height="2.06" fill="#a0a3f7"/><rect x="338.97" y="169.18" width="7.71" height="2.06" fill="#f8dcde"/><rect x="346.63" y="169.18" width="7.71" height="2.06" fill="#f6aaad"/><rect x="354.30" y="169.18" width="7.71" height="2.06" fill="#f47b7e"/><rect x="361.96" y="169.18" width="7.71" height="2.06" fill="#f2464a"/><rect x="369.62" y="169.18" width="7.71" height="2.06" fill="#f01216"/><rect x="377.29" y="169.18" width="7.71" height="2.06" fill="#f14043"/><rect x="384.95" y="169.18" width="7.71" height="2.06" fill="#f13e41"/><rect x="392.62" y="169.18" width="7.71" height="2.06" fill="#f35f62"/><rect x="400.28" y="169.18" width="7.71" height="2.06" fill="#f36063"/><rect x="407.94" y="169.18" width="7.71" height="2.06" fill="#f5898c"/><rect x="415.61" y="169.18" width="7.71" height="2.06" fill="#f47478"/><rect x="423.27" y="169.18" width="7.71" height="2.06" fill="#f59396"/><rect x="430.94" y="169.18" width="7.71" height="2.06" fill="#f8d3d5"/><rect x="247.00" y="171.19" width="7.71" height="2.06" fill="#666bf4"/><rect x="254.66" y="171.19" width="7.71" height="2.06" fill="#3d43f2"/><rect x="262.33" y="171.19" width="7.71" height="2.06" fill="#9da0f7"/><rect x="269.99" y="171.19" width="7.71" height="2.06" fill="#f7cacc"/><rect x="277.66" y="171.19" width="7.71" height="2.06" fill="#b6b8f8"/><rect x="285.32" y="171.19" width="7.71" height="2.06" fill="#0c14f0"/><rect x="292.98" y="171.19" width="7.71" height="2.06" fill="#0c14f0"/><rect x="300.65" y="171.19" width="7.71" height="2.06" fill="#6166f4"/><rect x="308.31" y="171.19" width="7.71" height="2.06" fill="#6e72f4"/><rect x="315.98" y="171.19" width="7.71" height="2.06" fill="#5c61f4"/><rect x="323.64" y="171.19" width="7.71" height="2.06" fill="#6166f4"/><rect x="331.30" y="171.19" width="7.71" height="2.06" fill="#f8dcde"/><rect x="338.97" y="171.19" width="7.71" height="2.06" fill="#f69fa2"/><rect x="346.63" y="171.19" width="7.71" height="2.06" fill="#dcddfa"/><rect x="354.30" y="171.19" width="7.71" height="2.06" fill="#f6a2a4"/><rect x="361.96" y="171.19" width="7.71" height="2.06" fill="#f59b9d"/><rect x="369.62" y="171.19" width="7.71" height="2.06" fill="#f58c8f"/><rect x="377.29" y="171.19" width="7.71" height="2.06" fill="#f25053"/><rect x="384.95" y="171.19" width="7.71" height="2.06" fill="#f47578"/><rect x="392.62" y="171.19" width="7.71" height="2.06" fill="#f25659"/><rect x="400.28" y="171.19" width="7.71" height="2.06" fill="#f7c8ca"/><rect x="407.94" y="171.19" width="7.71" height="2.06" fill="#f8dcde"/><rect x="415.61" y="171.19" width="7.71" height="2.06" fill="#f6abad"/><rect x="423.27" y="171.19" width="7.71" height="2.06" fill="#f6a2a4"/><rect x="430.94" y="171.19" width="7.71" height="2.06" fill="#f9e7e9"/><rect x="247.00" y="173.20" width="7.71" height="2.06" fill="#2f36f1"/><rect x="254.66" y="173.20" width="7.71" height="2.06" fill="#343af2"/><rect x="262.33" y="173.20" width="7.71" height="2.06" fill="#aeb0f8"/><rect x="269.99" y="173.20" width="7.71" height="2.06" fill="#f9f5f7"/><rect x="277.66" y="173.20" width="7.71" height="2.06" fill="#f9f3f5"/><rect x="285.32" y="173.20" width="7.71" height="2.06" fill="#8d91f6"/><rect x="292.98" y="173.20" width="7.71" height="2.06" fill="#5e63f4"/><rect x="300.65" y="173.20" width="7.71" height="2.06" fill="#9fa2f7"/><rect x="308.31" y="173.20" width="7.71" height="2.06" fill="#a3a6f7"/><rect x="315.98" y="173.20" width="7.71" height="2.06" fill="#676cf4"/><rect x="323.64" y="173.20" width="7.71" height="2.06" fill="#b6b8f8"/><rect x="331.30" y="173.20" width="7.71" height="2.06" fill="#f6b1b3"/><rect x="338.97" y="173.20" width="7.71" height="2.06" fill="#f6a6a9"/><rect x="346.63" y="173.20" width="7.71" height="2.06" fill="#f36b6f"/><rect x="354.30" y="173.20" width="7.71" height="2.06" fill="#f01216"/><rect x="361.96" y="173.20" width="7.71" height="2.06" fill="#f4787b"/><rect x="369.62" y="173.20" width="7.71" height="2.06" fill="#f01216"/><rect x="377.29" y="173.20" width="7.71" height="2.06" fill="#f01d21"/><rect x="384.95" y="173.20" width="7.71" height="2.06" fill="#f02327"/><rect x="392.62" y="173.20" width="7.71" height="2.06" fill="#f12f32"/><rect x="400.28" y="173.20" width="7.71" height="2.06" fill="#f6a2a5"/><rect x="407.94" y="173.20" width="7.71" height="2.06" fill="#f69da0"/><rect x="415.61" y="173.20" width="7.71" height="2.06" fill="#f8dbdd"/><rect x="423.27" y="173.20" width="7.71" height="2.06" fill="#f8dee0"/><rect x="430.94" y="173.20" width="7.71" height="2.06" fill="#f7babc"/><rect x="247.00" y="175.21" width="7.71" height="2.06" fill="#6368f4"/><rect x="254.66" y="175.21" width="7.71" height="2.06" fill="#7e82f5"/><rect x="262.33" y="175.21" width="7.71" height="2.06" fill="#7c80f5"/><rect x="269.99" y="175.21" width="7.71" height="2.06" fill="#f7c7ca"/><rect x="277.66" y="175.21" width="7.71" height="2.06" fill="#f8cdcf"/><rect x="285.32" y="175.21" width="7.71" height="2.06" fill="#7a7ef5"/><rect x="292.98" y="175.21" width="7.71" height="2.06" fill="#7b7ff5"/><rect x="300.65" y="175.21" width="7.71" height="2.06" fill="#4c52f3"/><rect x="308.31" y="175.21" width="7.71" height="2.06" fill="#6569f4"/><rect x="315.98" y="175.21" width="7.71" height="2.06" fill="#676cf4"/><rect x="323.64" y="175.21" width="7.71" height="2.06" fill="#888bf6"/><rect x="331.30" y="175.21" width="7.71" height="2.06" fill="#f8dfe1"/><rect x="338.97" y="175.21" width="7.71" height="2.06" fill="#f9f2f4"/><rect x="346.63" y="175.21" width="7.71" height="2.06" fill="#f6a7aa"/><rect x="354.30" y="175.21" width="7.71" height="2.06" fill="#f6a5a8"/><rect x="361.96" y="175.21" width="7.71" height="2.06" fill="#f9eef0"/><rect x="369.62" y="175.21" width="7.71" height="2.06" fill="#f3585b"/><rect x="377.29" y="175.21" width="7.71" height="2.06" fill="#f7b6b9"/><rect x="384.95" y="175.21" width="7.71" height="2.06" fill="#f9ecee"/><rect x="392.62" y="175.21" width="7.71" height="2.06" fill="#f5898c"/><rect x="400.28" y="175.21" width="7.71" height="2.06" fill="#f6b2b5"/><rect x="407.94" y="175.21" width="7.71" height="2.06" fill="#f24044"/><rect x="415.61" y="175.21" width="7.71" height="2.06" fill="#f6a9ac"/><rect x="423.27" y="175.21" width="7.71" height="2.06" fill="#f3f4fb"/><rect x="430.94" y="175.21" width="7.71" height="2.06" fill="#f6aeb1"/><rect x="247.00" y="177.21" width="7.71" height="2.06" fill="#c7c9f9"/><rect x="254.66" y="177.21" width="7.71" height="2.06" fill="#7d81f5"/><rect x="262.33" y="177.21" width="7.71" height="2.06" fill="#6a6ff4"/><rect x="269.99" y="177.21" width="7.71" height="2.06" fill="#f9ecef"/><rect x="277.66" y="177.21" width="7.71" height="2.06" fill="#f69da0"/><rect x="285.32" y="177.21" width="7.71" height="2.06" fill="#9c9ff7"/><rect x="292.98" y="177.21" width="7.71" height="2.06" fill="#d3d4fa"/><rect x="300.65" y="177.21" width="7.71" height="2.06" fill="#aeb1f8"/><rect x="308.31" y="177.21" width="7.71" height="2.06" fill="#8185f5"/><rect x="315.98" y="177.21" width="7.71" height="2.06" fill="#f8d8da"/><rect x="323.64" y="177.21" width="7.71" height="2.06" fill="#bec0f9"/><rect x="331.30" y="177.21" width="7.71" height="2.06" fill="#f8dcdf"/><rect x="338.97" y="177.21" width="7.71" height="2.06" fill="#ededfb"/><rect x="346.63" y="177.21" width="7.71" height="2.06" fill="#f8d8da"/><rect x="354.30" y="177.21" width="7.71" height="2.06" fill="#f6a6a9"/><rect x="361.96" y="177.21" width="7.71" height="2.06" fill="#f48184"/><rect x="369.62" y="177.21" width="7.71" height="2.06" fill="#f01418"/><rect x="377.29" y="177.21" width="7.71" height="2.06" fill="#f13438"/><rect x="384.95" y="177.21" width="7.71" height="2.06" fill="#f01216"/><rect x="392.62" y="177.21" width="7.71" height="2.06" fill="#f9f0f2"/><rect x="400.28" y="177.21" width="7.71" height="2.06" fill="#f8d7d9"/><rect x="407.94" y="177.21" width="7.71" height="2.06" fill="#f8d3d5"/><rect x="415.61" y="177.21" width="7.71" height="2.06" fill="#f58c8f"/><rect x="423.27" y="177.21" width="7.71" height="2.06" fill="#f35e61"/><rect x="430.94" y="177.21" width="7.71" height="2.06" fill="#f8dbdd"/><rect x="247.00" y="179.22" width="7.71" height="2.06" fill="#7277f5"/><rect x="254.66" y="179.22" width="7.71" height="2.06" fill="#7276f5"/><rect x="262.33" y="179.22" width="7.71" height="2.06" fill="#8387f6"/><rect x="269.99" y="179.22" width="7.71" height="2.06" fill="#caccf9"/><rect x="277.66" y="179.22" width="7.71" height="2.06" fill="#f8dadc"/><rect x="285.32" y="179.22" width="7.71" height="2.06" fill="#9295f6"/><rect x="292.98" y="179.22" width="7.71" height="2.06" fill="#d8d9fa"/><rect x="300.65" y="179.22" width="7.71" height="2.06" fill="#cecff9"/><rect x="308.31" y="179.22" width="7.71" height="2.06" fill="#8e91f6"/><rect x="315.98" y="179.22" width="7.71" height="2.06" fill="#dbdcfa"/><rect x="323.64" y="179.22" width="7.71" height="2.06" fill="#e1e1fa"/><rect x="331.30" y="179.22" width="7.71" height="2.06" fill="#f69da0"/><rect x="338.97" y="179.22" width="7.71" height="2.06" fill="#f6afb1"/><rect x="346.63" y="179.22" width="7.71" height="2.06" fill="#f8e0e2"/><rect x="354.30" y="179.22" width="7.71" height="2.06" fill="#f36467"/><rect x="361.96" y="179.22" width="7.71" height="2.06" fill="#f6b2b5"/><rect x="369.62" y="179.22" width="7.71" height="2.06" fill="#f3676a"/><rect x="377.29" y="179.22" width="7.71" height="2.06" fill="#f13d41"/><rect x="384.95" y="179.22" width="7.71" height="2.06" fill="#f48386"/><rect x="392.62" y="179.22" width="7.71" height="2.06" fill="#f58c8f"/><rect x="400.28" y="179.22" width="7.71" height="2.06" fill="#f1f1fb"/><rect x="407.94" y="179.22" width="7.71" height="2.06" fill="#f3676a"/><rect x="415.61" y="179.22" width="7.71" height="2.06" fill="#f6a8ab"/><rect x="423.27" y="179.22" width="7.71" height="2.06" fill="#f6adb0"/><rect x="430.94" y="179.22" width="7.71" height="2.06" fill="#f35d60"/><rect x="247.00" y="181.23" width="7.71" height="2.06" fill="#797df5"/><rect x="254.66" y="181.23" width="7.71" height="2.06" fill="#8b8ff6"/><rect x="262.33" y="181.23" width="7.71" height="2.06" fill="#e1e2fa"/><rect x="269.99" y="181.23" width="7.71" height="2.06" fill="#c5c6f9"/><rect x="277.66" y="181.23" width="7.71" height="2.06" fill="#f8d8da"/><rect x="285.32" y="181.23" width="7.71" height="2.06" fill="#a6a9f7"/><rect x="292.98" y="181.23" width="7.71" height="2.06" fill="#abadf8"/><rect x="300.65" y="181.23" width="7.71" height="2.06" fill="#babcf8"/><rect x="308.31" y="181.23" width="7.71" height="2.06" fill="#e1e2fa"/><rect x="315.98" y="181.23" width="7.71" height="2.06" fill="#f6f6fb"/><rect x="323.64" y="181.23" width="7.71" height="2.06" fill="#f6f6fb"/><rect x="331.30" y="181.23" width="7.71" height="2.06" fill="#f9e2e5"/><rect x="338.97" y="181.23" width="7.71" height="2.06" fill="#aeb0f8"/><rect x="346.63" y="181.23" width="7.71" height="2.06" fill="#f6a1a4"/><rect x="354.30" y="181.23" width="7.71" height="2.06" fill="#f47a7d"/><rect x="361.96" y="181.23" width="7.71" height="2.06" fill="#f59396"/><rect x="369.62" y="181.23" width="7.71" height="2.06" fill="#f59396"/><rect x="377.29" y="181.23" width="7.71" height="2.06" fill="#f6aaac"/><rect x="384.95" y="181.23" width="7.71" height="2.06" fill="#f7b8bb"/><rect x="392.62" y="181.23" width="7.71" height="2.06" fill="#f7bcbf"/><rect x="400.28" y="181.23" width="7.71" height="2.06" fill="#dadbfa"/><rect x="407.94" y="181.23" width="7.71" height="2.06" fill="#f8e2e4"/><rect x="415.61" y="181.23" width="7.71" height="2.06" fill="#f7b5b8"/><rect x="423.27" y="181.23" width="7.71" height="2.06" fill="#f8dde0"/><rect x="430.94" y="181.23" width="7.71" height="2.06" fill="#f8d3d5"/><rect x="247.00" y="183.24" width="7.71" height="2.06" fill="#acaff8"/><rect x="254.66" y="183.24" width="7.71" height="2.06" fill="#7277f5"/><rect x="262.33" y="183.24" width="7.71" height="2.06" fill="#9699f7"/><rect x="269.99" y="183.24" width="7.71" height="2.06" fill="#b9bbf8"/><rect x="277.66" y="183.24" width="7.71" height="2.06" fill="#dedefa"/><rect x="285.32" y="183.24" width="7.71" height="2.06" fill="#f9f9fb"/><rect x="292.98" y="183.24" width="7.71" height="2.06" fill="#a3a6f7"/><rect x="300.65" y="183.24" width="7.71" height="2.06" fill="#e1e2fa"/><rect x="308.31" y="183.24" width="7.71" height="2.06" fill="#dfe0fa"/><rect x="315.98" y="183.24" width="7.71" height="2.06" fill="#f8dee0"/><rect x="323.64" y="183.24" width="7.71" height="2.06" fill="#d5d6fa"/><rect x="331.30" y="183.24" width="7.71" height="2.06" fill="#f6a5a8"/><rect x="338.97" y="183.24" width="7.71" height="2.06" fill="#f8d8da"/><rect x="346.63" y="183.24" width="7.71" height="2.06" fill="#a9abf7"/><rect x="354.30" y="183.24" width="7.71" height="2.06" fill="#f7b7ba"/><rect x="361.96" y="183.24" width="7.71" height="2.06" fill="#f6b2b4"/><rect x="369.62" y="183.24" width="7.71" height="2.06" fill="#f6a8aa"/><rect x="377.29" y="183.24" width="7.71" height="2.06" fill="#f9eff1"/><rect x="384.95" y="183.24" width="7.71" height="2.06" fill="#f9f5f7"/><rect x="392.62" y="183.24" width="7.71" height="2.06" fill="#f8cccf"/><rect x="400.28" y="183.24" width="7.71" height="2.06" fill="#f48285"/><rect x="407.94" y="183.24" width="7.71" height="2.06" fill="#f6a3a6"/><rect x="415.61" y="183.24" width="7.71" height="2.06" fill="#f6a0a3"/><rect x="423.27" y="183.24" width="7.71" height="2.06" fill="#f6a8ab"/><rect x="430.94" y="183.24" width="7.71" height="2.06" fill="#f2494c"/><rect x="247.00" y="185.25" width="7.71" height="2.06" fill="#1921f0"/><rect x="254.66" y="185.25" width="7.71" height="2.06" fill="#4f55f3"/><rect x="262.33" y="185.25" width="7.71" height="2.06" fill="#c0c2f9"/><rect x="269.99" y="185.25" width="7.71" height="2.06" fill="#f8dfe1"/><rect x="277.66" y="185.25" width="7.71" height="2.06" fill="#f13b3f"/><rect x="285.32" y="185.25" width="7.71" height="2.06" fill="#f9eaec"/><rect x="292.98" y="185.25" width="7.71" height="2.06" fill="#f9e7e9"/><rect x="300.65" y="185.25" width="7.71" height="2.06" fill="#757af5"/><rect x="308.31" y="185.25" width="7.71" height="2.06" fill="#8488f6"/><rect x="315.98" y="185.25" width="7.71" height="2.06" fill="#797df5"/><rect x="323.64" y="185.25" width="7.71" height="2.06" fill="#a4a7f7"/><rect x="331.30" y="185.25" width="7.71" height="2.06" fill="#f9f0f2"/><rect x="338.97" y="185.25" width="7.71" height="2.06" fill="#f6b2b5"/><rect x="346.63" y="185.25" width="7.71" height="2.06" fill="#f5999c"/><rect x="354.30" y="185.25" width="7.71" height="2.06" fill="#f58689"/><rect x="361.96" y="185.25" width="7.71" height="2.06" fill="#f59194"/><rect x="369.62" y="185.25" width="7.71" height="2.06" fill="#f36d70"/><rect x="377.29" y="185.25" width="7.71" height="2.06" fill="#f3585b"/><rect x="384.95" y="185.25" width="7.71" height="2.06" fill="#f36c6f"/><rect x="392.62" y="185.25" width="7.71" height="2.06" fill="#f6afb1"/><rect x="400.28" y="185.25" width="7.71" height="2.06" fill="#f7bdbf"/><rect x="407.94" y="185.25" width="7.71" height="2.06" fill="#f9f2f4"/><rect x="415.61" y="185.25" width="7.71" height="2.06" fill="#f36e71"/><rect x="423.27" y="185.25" width="7.71" height="2.06" fill="#f7c3c6"/><rect x="430.94" y="185.25" width="7.71" height="2.06" fill="#f48487"/><rect x="247.00" y="187.25" width="7.71" height="2.06" fill="#0c14f0"/><rect x="254.66" y="187.25" width="7.71" height="2.06" fill="#373ef2"/><rect x="262.33" y="187.25" width="7.71" height="2.06" fill="#8c90f6"/><rect x="269.99" y="187.25" width="7.71" height="2.06" fill="#f8ccce"/><rect x="277.66" y="187.25" width="7.71" height="2.06" fill="#6065f4"/><rect x="285.32" y="187.25" width="7.71" height="2.06" fill="#6d72f4"/><rect x="292.98" y="187.25" width="7.71" height="2.06" fill="#0c14f0"/><rect x="300.65" y="187.25" width="7.71" height="2.06" fill="#9194f6"/><rect x="308.31" y="187.25" width="7.71" height="2.06" fill="#5056f3"/><rect x="315.98" y="187.25" width="7.71" height="2.06" fill="#4f55f3"/><rect x="323.64" y="187.25" width="7.71" height="2.06" fill="#d4d5fa"/><rect x="331.30" y="187.25" width="7.71" height="2.06" fill="#f59598"/><rect x="338.97" y="187.25" width="7.71" height="2.06" fill="#f4f4fb"/><rect x="346.63" y="187.25" width="7.71" height="2.06" fill="#f6b3b6"/><rect x="354.30" y="187.25" width="7.71" height="2.06" fill="#f8cccf"/><rect x="361.96" y="187.25" width="7.71" height="2.06" fill="#f6a4a7"/><rect x="369.62" y="187.25" width="7.71" height="2.06" fill="#f12b2f"/><rect x="377.29" y="187.25" width="7.71" height="2.06" fill="#f25356"/><rect x="384.95" y="187.25" width="7.71" height="2.06" fill="#f6b3b6"/><rect x="392.62" y="187.25" width="7.71" height="2.06" fill="#f58d90"/><rect x="400.28" y="187.25" width="7.71" height="2.06" fill="#f7c5c7"/><rect x="407.94" y="187.25" width="7.71" height="2.06" fill="#f9ebed"/><rect x="415.61" y="187.25" width="7.71" height="2.06" fill="#f7c7ca"/><rect x="423.27" y="187.25" width="7.71" height="2.06" fill="#f9e6e8"/><rect x="430.94" y="187.25" width="7.71" height="2.06" fill="#f0f1fb"/><rect x="247.00" y="189.26" width="7.71" height="2.06" fill="#4e54f3"/><rect x="254.66" y="189.26" width="7.71" height="2.06" fill="#585ef3"/><rect x="262.33" y="189.26" width="7.71" height="2.06" fill="#b6b8f8"/><rect x="269.99" y="189.26" width="7.71" height="2.06" fill="#d6d7fa"/><rect x="277.66" y="189.26" width="7.71" height="2.06" fill="#f7cbcd"/><rect x="285.32" y="189.26" width="7.71" height="2.06" fill="#f2f2fb"/><rect x="292.98" y="189.26" width="7.71" height="2.06" fill="#c5c7f9"/><rect x="300.65" y="189.26" width="7.71" height="2.06" fill="#5a5ff3"/><rect x="308.31" y="189.26" width="7.71" height="2.06" fill="#9c9ff7"/><rect x="315.98" y="189.26" width="7.71" height="2.06" fill="#8f92f6"/><rect x="323.64" y="189.26" width="7.71" height="2.06" fill="#9296f6"/><rect x="331.30" y="189.26" width="7.71" height="2.06" fill="#e9e9fb"/><rect x="338.97" y="189.26" width="7.71" height="2.06" fill="#f8d8da"/><rect x="346.63" y="189.26" width="7.71" height="2.06" fill="#f9f7f9"/><rect x="354.30" y="189.26" width="7.71" height="2.06" fill="#f6b1b4"/><rect x="361.96" y="189.26" width="7.71" height="2.06" fill="#f6a6a9"/><rect x="369.62" y="189.26" width="7.71" height="2.06" fill="#f9f2f4"/><rect x="377.29" y="189.26" width="7.71" height="2.06" fill="#f6aaad"/><rect x="384.95" y="189.26" width="7.71" height="2.06" fill="#f7c8cb"/><rect x="392.62" y="189.26" width="7.71" height="2.06" fill="#eaeafb"/><rect x="400.28" y="189.26" width="7.71" height="2.06" fill="#f9e8ea"/><rect x="407.94" y="189.26" width="7.71" height="2.06" fill="#f6a1a4"/><rect x="415.61" y="189.26" width="7.71" height="2.06" fill="#c4c5f9"/><rect x="423.27" y="189.26" width="7.71" height="2.06" fill="#f9e9eb"/><rect x="430.94" y="189.26" width="7.71" height="2.06" fill="#f8d3d6"/><rect x="247.00" y="191.27" width="7.71" height="2.06" fill="#cbcdf9"/><rect x="254.66" y="191.27" width="7.71" height="2.06" fill="#dbdcfa"/><rect x="262.33" y="191.27" width="7.71" height="2.06" fill="#767af5"/><rect x="269.99" y="191.27" width="7.71" height="2.06" fill="#f1f1fb"/><rect x="277.66" y="191.27" width="7.71" height="2.06" fill="#c9cbf9"/><rect x="285.32" y="191.27" width="7.71" height="2.06" fill="#a7aaf7"/><rect x="292.98" y="191.27" width="7.71" height="2.06" fill="#373ef2"/><rect x="300.65" y="191.27" width="7.71" height="2.06" fill="#9497f6"/><rect x="308.31" y="191.27" width="7.71" height="2.06" fill="#8589f6"/><rect x="315.98" y="191.27" width="7.71" height="2.06" fill="#575cf3"/><rect x="323.64" y="191.27" width="7.71" height="2.06" fill="#a3a6f7"/><rect x="331.30" y="191.27" width="7.71" height="2.06" fill="#f5979a"/><rect x="338.97" y="191.27" width="7.71" height="2.06" fill="#f9ecee"/><rect x="346.63" y="191.27" width="7.71" height="2.06" fill="#f6f6fb"/><rect x="354.30" y="191.27" width="7.71" height="2.06" fill="#f58e91"/><rect x="361.96" y="191.27" width="7.71" height="2.06" fill="#f48487"/><rect x="369.62" y="191.27" width="7.71" height="2.06" fill="#f47073"/><rect x="377.29" y="191.27" width="7.71" height="2.06" fill="#f5888b"/><rect x="384.95" y="191.27" width="7.71" height="2.06" fill="#f47174"/><rect x="392.62" y="191.27" width="7.71" height="2.06" fill="#f6a4a7"/><rect x="400.28" y="191.27" width="7.71" height="2.06" fill="#f9f4f6"/><rect x="407.94" y="191.27" width="7.71" height="2.06" fill="#f9f7f9"/><rect x="415.61" y="191.27" width="7.71" height="2.06" fill="#f7c9cb"/><rect x="423.27" y="191.27" width="7.71" height="2.06" fill="#f6b2b4"/><rect x="430.94" y="191.27" width="7.71" height="2.06" fill="#f8cdd0"/><rect x="247.00" y="193.28" width="7.71" height="2.06" fill="#232af1"/><rect x="254.66" y="193.28" width="7.71" height="2.06" fill="#1d24f0"/><rect x="262.33" y="193.28" width="7.71" height="2.06" fill="#8c90f6"/><rect x="269.99" y="193.28" width="7.71" height="2.06" fill="#7b7ff5"/><rect x="277.66" y="193.28" width="7.71" height="2.06" fill="#c0c2f9"/><rect x="285.32" y="193.28" width="7.71" height="2.06" fill="#8286f6"/><rect x="292.98" y="193.28" width="7.71" height="2.06" fill="#c5c6f9"/><rect x="300.65" y="193.28" width="7.71" height="2.06" fill="#898df6"/><rect x="308.31" y="193.28" width="7.71" height="2.06" fill="#7e82f5"/><rect x="315.98" y="193.28" width="7.71" height="2.06" fill="#6d71f4"/><rect x="323.64" y="193.28" width="7.71" height="2.06" fill="#5e63f4"/><rect x="331.30" y="193.28" width="7.71" height="2.06" fill="#ddddfa"/><rect x="338.97" y="193.28" width="7.71" height="2.06" fill="#f9f4f6"/><rect x="346.63" y="193.28" width="7.71" height="2.06" fill="#f9eef0"/><rect x="354.30" y="193.28" width="7.71" height="2.06" fill="#e3e4fa"/><rect x="361.96" y="193.28" width="7.71" height="2.06" fill="#f7cacc"/><rect x="369.62" y="193.28" width="7.71" height="2.06" fill="#f8e0e2"/><rect x="377.29" y="193.28" width="7.71" height="2.06" fill="#f7cacc"/><rect x="384.95" y="193.28" width="7.71" height="2.06" fill="#d6d7fa"/><rect x="392.62" y="193.28" width="7.71" height="2.06" fill="#d4d5fa"/><rect x="400.28" y="193.28" width="7.71" height="2.06" fill="#f8d9dc"/><rect x="407.94" y="193.28" width="7.71" height="2.06" fill="#f7c0c3"/><rect x="415.61" y="193.28" width="7.71" height="2.06" fill="#f35c5f"/><rect x="423.27" y="193.28" width="7.71" height="2.06" fill="#f24a4d"/><rect x="430.94" y="193.28" width="7.71" height="2.06" fill="#f8cccf"/><rect x="247.00" y="195.28" width="7.71" height="2.06" fill="#a7aaf7"/><rect x="254.66" y="195.28" width="7.71" height="2.06" fill="#7c80f5"/><rect x="262.33" y="195.28" width="7.71" height="2.06" fill="#bfc1f9"/><rect x="269.99" y="195.28" width="7.71" height="2.06" fill="#a9acf8"/><rect x="277.66" y="195.28" width="7.71" height="2.06" fill="#a0a3f7"/><rect x="285.32" y="195.28" width="7.71" height="2.06" fill="#0c14f0"/><rect x="292.98" y="195.28" width="7.71" height="2.06" fill="#979af7"/><rect x="300.65" y="195.28" width="7.71" height="2.06" fill="#3d43f2"/><rect x="308.31" y="195.28" width="7.71" height="2.06" fill="#a6a9f7"/><rect x="315.98" y="195.28" width="7.71" height="2.06" fill="#7175f5"/><rect x="323.64" y="195.28" width="7.71" height="2.06" fill="#989bf7"/><rect x="331.30" y="195.28" width="7.71" height="2.06" fill="#f7c7ca"/><rect x="338.97" y="195.28" width="7.71" height="2.06" fill="#f7c0c2"/><rect x="346.63" y="195.28" width="7.71" height="2.06" fill="#f8e0e3"/><rect x="354.30" y="195.28" width="7.71" height="2.06" fill="#f48285"/><rect x="361.96" y="195.28" width="7.71" height="2.06" fill="#f6b3b6"/><rect x="369.62" y="195.28" width="7.71" height="2.06" fill="#f35c5f"/><rect x="377.29" y="195.28" width="7.71" height="2.06" fill="#f3686b"/><rect x="384.95" y="195.28" width="7.71" height="2.06" fill="#f13a3e"/><rect x="392.62" y="195.28" width="7.71" height="2.06" fill="#f59598"/><rect x="400.28" y="195.28" width="7.71" height="2.06" fill="#f7bcbe"/><rect x="407.94" y="195.28" width="7.71" height="2.06" fill="#f6aeb0"/><rect x="415.61" y="195.28" width="7.71" height="2.06" fill="#f7b7ba"/><rect x="423.27" y="195.28" width="7.71" height="2.06" fill="#f6b2b5"/><rect x="430.94" y="195.28" width="7.71" height="2.06" fill="#f46f72"/><rect x="247.00" y="197.29" width="7.71" height="2.06" fill="#cccdf9"/><rect x="254.66" y="197.29" width="7.71" height="2.06" fill="#b3b5f8"/><rect x="262.33" y="197.29" width="7.71" height="2.06" fill="#5359f3"/><rect x="269.99" y="197.29" width="7.71" height="2.06" fill="#8b8ff6"/><rect x="277.66" y="197.29" width="7.71" height="2.06" fill="#8a8ef6"/><rect x="285.32" y="197.29" width="7.71" height="2.06" fill="#868af6"/><rect x="292.98" y="197.29" width="7.71" height="2.06" fill="#3f46f2"/><rect x="300.65" y="197.29" width="7.71" height="2.06" fill="#dfe0fa"/><rect x="308.31" y="197.29" width="7.71" height="2.06" fill="#f8dddf"/><rect x="315.98" y="197.29" width="7.71" height="2.06" fill="#c6c8f9"/><rect x="323.64" y="197.29" width="7.71" height="2.06" fill="#2930f1"/><rect x="331.30" y="197.29" width="7.71" height="2.06" fill="#9da0f7"/><rect x="338.97" y="197.29" width="7.71" height="2.06" fill="#bcbef8"/><rect x="346.63" y="197.29" width="7.71" height="2.06" fill="#f59396"/><rect x="354.30" y="197.29" width="7.71" height="2.06" fill="#f5898c"/><rect x="361.96" y="197.29" width="7.71" height="2.06" fill="#f8cccf"/><rect x="369.62" y="197.29" width="7.71" height="2.06" fill="#d0d2fa"/><rect x="377.29" y="197.29" width="7.71" height="2.06" fill="#d9dafa"/><rect x="384.95" y="197.29" width="7.71" height="2.06" fill="#dadbfa"/><rect x="392.62" y="197.29" width="7.71" height="2.06" fill="#f24347"/><rect x="400.28" y="197.29" width="7.71" height="2.06" fill="#f36e71"/><rect x="407.94" y="197.29" width="7.71" height="2.06" fill="#f12e31"/><rect x="415.61" y="197.29" width="7.71" height="2.06" fill="#9da0f7"/><rect x="423.27" y="197.29" width="7.71" height="2.06" fill="#dbdcfa"/><rect x="430.94" y="197.29" width="7.71" height="2.06" fill="#f59092"/></g><rect x="247.00" y="39.3" width="7.71" height="1.8" fill="#e8141c"/><rect x="247.00" y="41.1" width="7.71" height="2.3" fill="#f8e000"/><rect x="254.66" y="39.3" width="7.71" height="1.8" fill="#e8141c"/><rect x="254.66" y="41.1" width="7.71" height="2.3" fill="#1c3a78"/><rect x="262.33" y="39.3" width="7.71" height="1.8" fill="#e8141c"/><rect x="262.33" y="41.1" width="7.71" height="2.3" fill="#1c3a78"/><rect x="269.99" y="39.3" width="7.71" height="1.8" fill="#e8141c"/><rect x="269.99" y="41.1" width="7.71" height="2.3" fill="#f8e000"/><rect x="277.66" y="39.3" width="7.71" height="1.8" fill="#e8141c"/><rect x="277.66" y="41.1" width="7.71" height="2.3" fill="#f8e000"/><rect x="285.32" y="39.3" width="7.71" height="1.8" fill="#e8141c"/><rect x="285.32" y="41.1" width="7.71" height="2.3" fill="#1c3a78"/><rect x="292.98" y="39.3" width="7.71" height="1.8" fill="#e8141c"/><rect x="292.98" y="41.1" width="7.71" height="2.3" fill="#f8e000"/><rect x="300.65" y="39.3" width="7.71" height="1.8" fill="#e8141c"/><rect x="300.65" y="41.1" width="7.71" height="2.3" fill="#1c3a78"/><rect x="308.31" y="39.3" width="7.71" height="1.8" fill="#e8141c"/><rect x="308.31" y="41.1" width="7.71" height="2.3" fill="#1c3a78"/><rect x="315.98" y="39.3" width="7.71" height="1.8" fill="#e8141c"/><rect x="315.98" y="41.1" width="7.71" height="2.3" fill="#f8e000"/><rect x="323.64" y="39.3" width="7.71" height="1.8" fill="#e8141c"/><rect x="323.64" y="41.1" width="7.71" height="2.3" fill="#f8e000"/><rect x="331.30" y="39.3" width="7.71" height="1.8" fill="#f0820a"/><rect x="331.30" y="41.1" width="7.71" height="2.3" fill="#f8e000"/><rect x="338.97" y="39.3" width="7.71" height="1.8" fill="#f0820a"/><rect x="338.97" y="41.1" width="7.71" height="2.3" fill="#1c3a78"/><rect x="346.63" y="39.3" width="7.71" height="1.8" fill="#e8141c"/><rect x="346.63" y="41.1" width="7.71" height="2.3" fill="#1c3a78"/><rect x="354.30" y="39.3" width="7.71" height="1.8" fill="#f0820a"/><rect x="354.30" y="41.1" width="7.71" height="2.3" fill="#1c3a78"/><rect x="361.96" y="39.3" width="7.71" height="1.8" fill="#f0820a"/><rect x="361.96" y="41.1" width="7.71" height="2.3" fill="#f8e000"/><rect x="369.62" y="39.3" width="7.71" height="1.8" fill="#f0820a"/><rect x="369.62" y="41.1" width="7.71" height="2.3" fill="#f8e000"/><rect x="377.29" y="39.3" width="7.71" height="1.8" fill="#f0820a"/><rect x="377.29" y="41.1" width="7.71" height="2.3" fill="#1c3a78"/><rect x="384.95" y="39.3" width="7.71" height="1.8" fill="#f0820a"/><rect x="384.95" y="41.1" width="7.71" height="2.3" fill="#1c3a78"/><rect x="392.62" y="39.3" width="7.71" height="1.8" fill="#f0820a"/><rect x="392.62" y="41.1" width="7.71" height="2.3" fill="#f8e000"/><rect x="400.28" y="39.3" width="7.71" height="1.8" fill="#f0820a"/><rect x="400.28" y="41.1" width="7.71" height="2.3" fill="#f8e000"/><rect x="407.94" y="39.3" width="7.71" height="1.8" fill="#f0820a"/><rect x="407.94" y="41.1" width="7.71" height="2.3" fill="#1c3a78"/><rect x="415.61" y="39.3" width="7.71" height="1.8" fill="#f0820a"/><rect x="415.61" y="41.1" width="7.71" height="2.3" fill="#f8e000"/><rect x="423.27" y="39.3" width="7.71" height="1.8" fill="#f0820a"/><rect x="423.27" y="41.1" width="7.71" height="2.3" fill="#1c3a78"/><rect x="430.94" y="39.3" width="7.71" height="1.8" fill="#e8141c"/><rect x="430.94" y="41.1" width="7.71" height="2.3" fill="#f8e000"/><path d="M250.8,39.2V23.7H258.5V39.2M266.2,39.2V23.0H273.8V39.2M289.2,39.2V24.5H296.8V39.2M281.5,39.2V22.6H293.0V24.5M270.0,23.0V21.3H287.2V22.6M312.1,39.2V23.9H319.8V39.2M304.5,39.2V21.6H316.0V23.9M310.2,21.6V21.0H327.5V39.2M278.6,21.3V20.6H318.9V21.0M254.7,23.7V20.2H298.7V20.6M335.1,39.2V20.6H342.8V39.2M358.1,39.2V24.0H365.8V39.2M350.5,39.2V21.6H362.0V24.0M373.5,39.2V24.5H381.1V39.2M377.3,24.5V22.8H388.8V39.2M356.2,21.6V20.8H383.0V22.8M396.4,39.2V24.3H404.1V39.2M400.3,24.3V21.7H411.8V39.2M419.4,39.2V21.0H427.1V39.2M406.0,21.7V20.2H423.3V21.0M369.6,20.8V19.4H414.7V20.2M339.0,20.6V18.6H392.1V19.4M365.6,18.6V14.7H434.8V39.2" fill="none" stroke="#6a6a6a" stroke-width="0.55"/><path d="M276.7,20.2V12.9M400.2,14.7V11.6" stroke="#888" stroke-width="0.5"/><path d="M239.0,45.19H211.9V45.39H239.0M239.0,45.58H212.5V45.78H239.0M239.0,46.16H214.2V46.36H239.0M239.0,45.97H213.1V46.26H214.2M239.0,47.13H216.8V47.33H239.0M239.0,46.94H215.3V47.23H216.8M239.0,46.75H214.2V47.09H215.3M239.0,48.10H217.6V48.30H239.0M239.0,47.91H215.3V48.20H217.6M239.0,47.72H213.7V48.06H215.3M239.0,47.52H213.1V47.89H213.7M214.2,46.92H212.7V47.70H213.1M239.0,46.55H211.6V47.31H212.7M213.1,46.12H211.0V46.93H211.6M212.5,45.68H210.6V46.52H211.0M211.9,45.29H209.5V46.10H210.6M239.0,45.00H207.9V45.70H209.5M239.0,48.49H216.4V48.69H239.0M239.0,49.07H215.8V49.27H239.0M239.0,49.85H219.3V50.04H239.0M239.0,50.24H217.9V50.43H239.0M219.3,49.95H217.3V50.33H217.9M239.0,49.66H216.7V50.14H217.3M239.0,49.46H216.5V49.90H216.7M239.0,51.01H219.8V51.21H239.0M239.0,50.82H217.4V51.11H219.8M239.0,50.63H216.3V50.97H217.4M216.5,49.68H215.5V50.80H216.3M215.8,49.17H215.1V50.24H215.5M239.0,48.88H214.3V49.70H215.1M216.4,48.59H213.9V49.29H214.3M239.0,51.79H219.7V51.98H239.0M239.0,52.18H219.4V52.37H239.0M219.7,51.89H217.3V52.27H219.4M239.0,52.95H219.7V53.15H239.0M239.0,52.76H217.8V53.05H219.7M239.0,52.57H217.1V52.91H217.8M239.0,53.54H218.9V53.73H239.0M239.0,53.34H217.1V53.63H218.9M217.1,52.74H216.4V53.49H217.1M239.0,54.70H219.6V54.89H239.0M239.0,54.51H218.8V54.80H219.6M239.0,54.31H217.3V54.65H218.8M239.0,54.12H216.6V54.48H217.3M239.0,53.92H215.8V54.30H216.6M216.4,53.11H215.5V54.11H215.8M217.3,52.08H215.1V53.61H215.5M239.0,51.60H213.7V52.85H215.1M239.0,51.40H213.1V52.22H213.7M213.9,48.94H211.7V51.81H213.1M239.0,55.28H216.3V55.48H239.0M239.0,55.67H215.4V55.86H239.0M239.0,56.45H218.1V56.64H239.0M239.0,56.25H216.9V56.54H218.1M239.0,56.06H214.7V56.40H216.9M215.4,55.77H213.6V56.23H214.7M239.0,57.03H216.1V57.22H239.0M239.0,56.83H214.6V57.12H216.1M239.0,57.61H217.7V57.80H239.0M239.0,58.00H217.3V58.19H239.0M217.7,57.71H216.7V58.09H217.3M239.0,57.42H214.2V57.90H216.7M214.6,56.98H213.4V57.66H214.2M213.6,56.00H212.8V57.32H213.4M216.3,55.38H211.4V56.66H212.8M239.0,55.09H209.5V56.02H211.4M239.0,58.58H218.0V58.77H239.0M239.0,59.16H218.6V59.36H239.0M239.0,58.97H215.6V59.26H218.6M218.0,58.68H214.8V59.11H215.6M239.0,59.74H217.7V59.94H239.0M239.0,59.55H215.2V59.84H217.7M239.0,60.52H218.0V60.71H239.0M239.0,60.33H216.1V60.62H218.0M239.0,60.13H215.7V60.47H216.1M239.0,61.10H216.5V61.30H239.0M239.0,60.91H215.6V61.20H216.5M215.7,60.30H214.1V61.05H215.6M215.2,59.69H213.9V60.68H214.1M214.8,58.89H213.3V60.19H213.9M239.0,58.39H212.3V59.54H213.3M239.0,62.07H214.8V62.27H239.0M239.0,62.65H216.5V62.85H239.0M239.0,63.24H217.3V63.43H239.0M239.0,63.04H215.3V63.33H217.3M216.5,62.75H214.7V63.19H215.3M239.0,62.46H212.8V62.97H214.7M214.8,62.17H212.7V62.71H212.8M239.0,61.88H211.7V62.44H212.7M239.0,63.62H213.0V63.82H239.0M239.0,64.01H212.6V64.21H239.0M213.0,63.72H211.5V64.11H212.6M211.7,62.16H210.8V63.91H211.5M239.0,61.68H209.7V63.04H210.8M239.0,61.49H209.3V62.36H209.7M239.0,64.40H212.2V64.59H239.0M239.0,65.56H216.0V65.76H239.0M239.0,65.37H215.4V65.66H216.0M239.0,65.18H213.5V65.51H215.4M239.0,64.98H212.9V65.34H213.5M239.0,64.79H212.2V65.16H212.9M239.0,66.34H219.2V66.53H239.0M239.0,66.73H216.2V66.92H239.0M239.0,67.50H216.1V67.70H239.0M239.0,67.31H215.9V67.60H216.1M239.0,67.12H214.5V67.45H215.9M216.2,66.82H214.3V67.28H214.5M239.0,68.47H217.8V68.67H239.0M239.0,68.28H216.8V68.57H217.8M239.0,68.09H214.8V68.42H216.8M239.0,67.89H214.2V68.25H214.8M214.3,67.05H213.6V68.07H214.2M219.2,66.44H213.3V67.56H213.6M239.0,69.25H216.1V69.44H239.0M239.0,69.06H213.6V69.35H216.1M239.0,68.86H212.6V69.20H213.6M213.3,67.00H212.1V69.03H212.6M239.0,66.15H211.0V68.02H212.1M239.0,65.95H210.9V67.08H211.0M212.2,64.98H210.4V66.52H210.9M212.2,64.50H208.6V65.75H210.4M209.3,61.92H208.3V65.12H208.6M239.0,70.03H216.0V70.22H239.0M239.0,70.80H219.6V70.99H239.0M239.0,70.61H218.0V70.90H219.6M239.0,71.38H220.2V71.58H239.0M239.0,71.19H220.1V71.48H220.2M239.0,71.77H218.7V71.96H239.0M220.1,71.33H217.0V71.87H218.7M218.0,70.75H216.4V71.60H217.0M239.0,70.41H215.1V71.18H216.4M216.0,70.12H214.4V70.79H215.1M239.0,69.83H213.8V70.46H214.4M239.0,69.64H213.3V70.14H213.8M239.0,72.55H219.9V72.74H239.0M239.0,72.35H216.8V72.64H219.9M239.0,73.13H219.8V73.32H239.0M239.0,72.93H218.7V73.23H219.8M239.0,73.71H221.4V73.90H239.0M239.0,73.52H218.3V73.81H221.4M218.7,73.08H217.3V73.66H218.3M239.0,74.10H217.1V74.29H239.0M217.3,73.37H216.5V74.20H217.1M216.8,72.50H216.1V73.78H216.5M239.0,74.68H216.2V74.87H239.0M239.0,74.49H215.4V74.78H216.2M216.1,73.14H214.7V74.63H215.4M239.0,72.16H213.6V73.89H214.7M239.0,75.46H217.5V75.65H239.0M239.0,75.26H214.8V75.55H217.5M239.0,76.04H216.6V76.23H239.0M239.0,76.81H219.6V77.01H239.0M239.0,76.62H218.8V76.91H219.6M239.0,76.43H218.0V76.77H218.8M239.0,77.20H218.3V77.40H239.0M239.0,78.17H222.4V78.37H239.0M239.0,77.98H218.4V78.27H222.4M239.0,77.78H218.1V78.12H218.4M239.0,78.56H217.4V78.75H239.0M218.1,77.95H216.9V78.66H217.4M239.0,77.59H216.8V78.31H216.9M218.3,77.30H216.3V77.95H216.8M218.0,76.60H215.9V77.62H216.3M216.6,76.14H215.5V77.11H215.9M239.0,75.84H214.7V76.62H215.5M214.8,75.41H214.0V76.23H214.7M239.0,75.07H213.5V75.82H214.0M213.6,73.02H211.0V75.44H213.5M213.3,69.89H210.2V74.23H211.0M239.0,79.34H216.0V79.53H239.0M239.0,79.92H218.6V80.11H239.0M239.0,79.72H218.1V80.02H218.6M239.0,80.50H219.1V80.69H239.0M239.0,80.31H217.7V80.60H219.1M239.0,80.89H217.6V81.08H239.0M217.7,80.45H216.7V80.99H217.6M239.0,81.47H217.2V81.66H239.0M239.0,81.28H216.6V81.57H217.2M216.7,80.72H214.8V81.42H216.6M218.1,79.87H214.2V81.07H214.8M239.0,82.25H217.8V82.44H239.0M239.0,82.05H215.1V82.34H217.8M239.0,81.86H214.1V82.20H215.1M214.2,80.47H213.3V82.03H214.1M216.0,79.43H213.0V81.25H213.3M239.0,79.14H212.8V80.34H213.0M239.0,82.83H214.2V83.02H239.0M239.0,82.63H212.5V82.93H214.2M212.8,79.74H211.9V82.78H212.5M239.0,78.95H211.3V81.26H211.9M239.0,83.41H218.3V83.60H239.0M239.0,83.22H212.2V83.51H218.3M239.0,83.80H216.9V83.99H239.0M239.0,84.19H217.3V84.38H239.0M239.0,84.57H218.8V84.77H239.0M239.0,85.16H220.4V85.35H239.0M239.0,84.96H219.4V85.25H220.4M239.0,85.74H221.9V85.93H239.0M239.0,85.54H218.4V85.84H221.9M219.4,85.11H218.1V85.69H218.4M239.0,86.32H222.6V86.51H239.0M239.0,86.13H217.5V86.42H222.6M218.1,85.40H216.7V86.27H217.5M218.8,84.67H216.0V85.84H216.7M217.3,84.28H215.4V85.25H216.0M216.9,83.90H214.8V84.77H215.4M239.0,87.10H218.0V87.29H239.0M239.0,86.90H215.9V87.19H218.0M239.0,86.71H214.5V87.05H215.9M214.8,84.33H214.2V86.88H214.5M239.0,87.87H218.6V88.07H239.0M239.0,88.26H218.5V88.45H239.0M239.0,88.65H222.0V88.84H239.0M239.0,89.04H221.9V89.23H239.0M222.0,88.75H219.9V89.13H221.9M239.0,89.81H221.2V90.01H239.0M239.0,89.62H220.6V89.91H221.2M239.0,89.42H219.7V89.76H220.6M219.9,88.94H218.9V89.59H219.7M239.0,90.20H219.9V90.39H239.0M239.0,90.78H222.5V90.98H239.0M239.0,90.59H220.6V90.88H222.5M239.0,91.17H220.5V91.36H239.0M220.6,90.73H219.7V91.27H220.5M219.9,90.30H218.8V91.00H219.7M218.9,89.27H217.9V90.65H218.8M218.5,88.36H217.4V89.96H217.9M218.6,87.97H216.7V89.16H217.4M239.0,87.68H216.6V88.56H216.7M239.0,87.48H212.9V88.12H216.6M214.2,85.61H212.5V87.80H212.9M239.0,91.75H218.0V91.95H239.0M239.0,92.14H219.9V92.33H239.0M239.0,92.53H219.7V92.72H239.0M219.9,92.24H217.8V92.63H219.7M239.0,93.11H222.0V93.30H239.0M239.0,92.92H220.3V93.21H222.0M239.0,93.69H222.4V93.89H239.0M239.0,93.50H219.7V93.79H222.4M220.3,93.06H218.8V93.64H219.7M239.0,94.27H220.6V94.47H239.0M239.0,95.05H224.8V95.24H239.0M239.0,94.86H221.7V95.15H224.8M239.0,94.66H220.2V95.00H221.7M220.6,94.37H219.6V94.83H220.2M239.0,95.44H220.7V95.63H239.0M239.0,95.83H219.6V96.02H239.0M220.7,95.54H218.8V95.92H219.6M219.6,94.60H218.4V95.73H218.8M239.0,94.08H218.1V95.17H218.4M218.8,93.35H217.7V94.62H218.1M217.8,92.43H217.1V93.99H217.7M218.0,91.85H216.5V93.21H217.1M239.0,91.56H216.2V92.53H216.5M239.0,96.80H220.4V96.99H239.0M239.0,97.38H221.8V97.57H239.0M239.0,97.18H220.8V97.47H221.8M239.0,97.77H221.4V97.96H239.0M239.0,98.15H220.8V98.35H239.0M221.4,97.86H219.9V98.25H220.8M220.8,97.33H218.9V98.06H219.9M220.4,96.89H218.6V97.69H218.9M239.0,98.74H221.1V98.93H239.0M239.0,98.54H219.7V98.83H221.1M239.0,99.12H222.1V99.32H239.0M239.0,99.51H221.3V99.71H239.0M222.1,99.22H220.6V99.61H221.3M239.0,100.29H221.6V100.48H239.0M239.0,100.09H221.2V100.38H221.6M239.0,99.90H220.0V100.24H221.2M220.6,99.41H219.0V100.07H220.0M219.7,98.69H218.4V99.74H219.0M218.6,97.29H218.0V99.21H218.4M239.0,96.60H216.8V98.25H218.0M239.0,96.41H215.2V97.43H216.8M239.0,96.21H212.7V96.92H215.2M216.2,92.04H212.4V96.57H212.7M212.5,86.70H210.7V94.30H212.4M212.2,83.36H210.2V90.50H210.7M239.0,101.06H218.1V101.26H239.0M239.0,101.45H220.0V101.65H239.0M239.0,102.23H223.3V102.42H239.0M239.0,102.62H221.0V102.81H239.0M223.3,102.32H220.3V102.71H221.0M239.0,103.20H222.5V103.39H239.0M239.0,103.00H220.7V103.29H222.5M239.0,103.78H222.8V103.97H239.0M239.0,104.17H222.1V104.36H239.0M222.8,103.88H221.2V104.26H222.1M239.0,103.59H220.5V104.07H221.2M220.7,103.15H219.6V103.83H220.5M220.3,102.52H219.4V103.49H219.6M239.0,104.56H222.1V104.75H239.0M239.0,105.14H220.7V105.33H239.0M239.0,104.94H219.5V105.23H220.7M222.1,104.65H219.1V105.09H219.5M219.4,103.00H218.7V104.87H219.1M239.0,102.03H218.1V103.94H218.7M239.0,101.84H217.6V102.99H218.1M220.0,101.55H217.4V102.41H217.6M218.1,101.16H217.1V101.98H217.4M239.0,100.87H216.8V101.57H217.1M239.0,100.68H216.7V101.22H216.8M239.0,106.30H219.5V106.50H239.0M239.0,106.11H218.5V106.40H219.5M239.0,105.91H217.4V106.25H218.5M239.0,107.08H218.4V107.27H239.0M239.0,106.88H217.4V107.17H218.4M239.0,107.66H217.2V107.85H239.0M239.0,107.47H216.2V107.76H217.2M217.4,107.03H215.3V107.61H216.2M239.0,106.69H214.4V107.32H215.3M217.4,106.08H214.2V107.00H214.4M239.0,105.72H213.6V106.54H214.2M239.0,105.53H212.6V106.13H213.6M239.0,108.05H212.6V108.24H239.0M212.6,105.83H211.8V108.14H212.6M216.7,100.95H211.0V106.99H211.8M239.0,108.82H214.4V109.02H239.0M239.0,108.63H211.9V108.92H214.4M239.0,108.44H210.5V108.78H211.9M211.0,103.97H209.9V108.61H210.5M210.2,86.93H209.8V106.29H209.9M211.3,80.10H209.3V96.61H209.8M210.2,72.06H208.9V88.36H209.3M239.0,109.99H223.5V110.18H239.0M239.0,109.79H221.3V110.08H223.5M239.0,109.60H220.5V109.94H221.3M239.0,109.41H220.1V109.77H220.5M239.0,110.57H222.4V110.76H239.0M239.0,110.38H221.6V110.67H222.4M239.0,111.15H222.6V111.35H239.0M239.0,110.96H221.9V111.25H222.6M239.0,111.73H221.6V111.93H239.0M239.0,111.54H221.4V111.83H221.6M221.9,111.10H219.9V111.68H221.4M221.6,110.52H219.5V111.39H219.9M220.1,109.59H219.3V110.96H219.5M239.0,109.21H218.6V110.27H219.3M239.0,112.12H217.9V112.32H239.0M218.6,109.74H217.5V112.22H217.9M239.0,112.51H216.7V112.70H239.0M239.0,112.90H217.4V113.09H239.0M239.0,113.67H221.3V113.87H239.0M239.0,113.48H219.8V113.77H221.3M239.0,113.29H218.8V113.62H219.8M239.0,114.06H219.4V114.26H239.0M239.0,114.84H222.1V115.03H239.0M239.0,114.64H219.4V114.93H222.1M239.0,114.45H218.5V114.79H219.4M219.4,114.16H217.8V114.62H218.5M218.8,113.46H217.2V114.39H217.8M239.0,115.42H220.1V115.61H239.0M239.0,115.23H218.9V115.52H220.1M239.0,116.20H220.9V116.39H239.0M239.0,116.00H220.2V116.29H220.9M239.0,115.81H216.9V116.15H220.2M218.9,115.37H216.8V115.98H216.9M217.2,113.92H216.6V115.67H216.8M217.4,112.99H215.9V114.80H216.6M216.7,112.61H213.9V113.90H215.9M239.0,117.36H217.8V117.55H239.0M239.0,117.17H216.9V117.46H217.8M239.0,116.97H216.0V117.31H216.9M239.0,116.78H214.1V117.14H216.0M239.0,116.58H213.5V116.96H214.1M213.9,113.25H213.2V116.77H213.5M217.5,110.98H211.4V115.01H213.2M239.0,117.94H217.9V118.14H239.0M239.0,118.52H216.7V118.72H239.0M239.0,118.33H215.0V118.62H216.7M217.9,118.04H212.8V118.47H215.0M239.0,117.75H210.7V118.26H212.8M211.4,113.00H210.1V118.00H210.7M239.0,119.11H217.3V119.30H239.0M239.0,118.91H215.4V119.20H217.3M239.0,119.69H217.3V119.88H239.0M239.0,119.49H215.3V119.78H217.3M239.0,120.27H217.9V120.46H239.0M239.0,120.08H216.0V120.37H217.9M239.0,120.66H220.7V120.85H239.0M239.0,121.05H217.7V121.24H239.0M220.7,120.75H215.8V121.14H217.7M216.0,120.22H214.3V120.95H215.8M215.3,119.64H213.9V120.58H214.3M215.4,119.06H213.8V120.11H213.9M239.0,121.63H213.9V121.82H239.0M239.0,122.40H218.2V122.60H239.0M239.0,122.21H216.1V122.50H218.2M239.0,122.02H214.2V122.35H216.1M239.0,122.79H217.9V122.98H239.0M239.0,123.18H217.1V123.37H239.0M217.9,122.89H215.2V123.28H217.1M239.0,124.15H217.9V124.34H239.0M239.0,123.95H217.6V124.25H217.9M239.0,123.76H216.5V124.10H217.6M239.0,123.57H214.9V123.93H216.5M239.0,124.54H217.3V124.73H239.0M239.0,125.12H217.4V125.31H239.0M239.0,124.92H215.4V125.22H217.4M217.3,124.63H214.7V125.07H215.4M214.9,123.75H214.4V124.85H214.7M215.2,123.08H214.0V124.30H214.4M214.2,122.18H213.4V123.69H214.0M213.9,121.72H212.1V122.94H213.4M239.0,121.43H211.6V122.33H212.1M213.8,119.58H211.2V121.88H211.6M239.0,126.28H217.3V126.48H239.0M239.0,126.09H215.1V126.38H217.3M239.0,126.86H215.6V127.06H239.0M239.0,126.67H215.1V126.96H215.6M215.1,126.23H214.1V126.82H215.1M239.0,125.89H211.8V126.53H214.1M239.0,125.70H211.3V126.21H211.8M239.0,125.51H210.3V125.96H211.3M211.2,120.73H209.5V125.73H210.3M210.1,115.50H208.7V123.23H209.5M208.9,80.21H207.8V119.37H208.7M208.3,63.52H207.5V99.79H207.8M212.3,58.96H207.1V81.66H207.5M209.5,55.55H207.0V70.31H207.1M211.7,50.38H206.8V62.93H207.0M207.9,45.35H206.6V56.65H206.8M239.0,127.64H213.6V127.83H239.0M239.0,128.22H213.5V128.42H239.0M239.0,128.03H211.3V128.32H213.5M213.6,127.74H210.8V128.17H211.3M239.0,127.45H209.9V127.96H210.8M239.0,127.25H206.9V127.70H209.9M239.0,128.61H211.9V128.80H239.0M239.0,129.19H215.2V129.39H239.0M239.0,129.58H214.8V129.77H239.0M239.0,129.97H216.5V130.16H239.0M239.0,130.36H217.4V130.55H239.0M239.0,130.74H215.6V130.94H239.0M217.4,130.45H214.6V130.84H215.6M216.5,130.07H214.3V130.65H214.6M214.8,129.68H213.4V130.36H214.3M215.2,129.29H212.8V130.02H213.4M239.0,131.52H218.0V131.71H239.0M239.0,131.33H215.7V131.62H218.0M239.0,131.13H213.6V131.47H215.7M239.0,132.88H219.3V133.07H239.0M239.0,132.68H216.4V132.98H219.3M239.0,132.49H215.6V132.83H216.4M239.0,132.30H215.2V132.66H215.6M239.0,132.10H214.5V132.48H215.2M239.0,131.91H213.3V132.29H214.5M213.6,131.30H212.6V132.10H213.3M212.8,129.65H212.1V131.70H212.6M239.0,129.00H211.3V130.68H212.1M211.9,128.71H211.3V129.84H211.3M239.0,133.85H215.4V134.04H239.0M239.0,134.43H216.9V134.62H239.0M239.0,134.24H215.4V134.53H216.9M239.0,134.82H214.8V135.01H239.0M215.4,134.38H213.7V134.92H214.8M215.4,133.95H212.1V134.65H213.7M239.0,133.65H211.2V134.30H212.1M239.0,133.46H210.6V133.98H211.2M239.0,133.27H210.1V133.72H210.6M239.0,135.21H218.4V135.40H239.0M239.0,135.59H216.4V135.79H239.0M218.4,135.30H215.0V135.69H216.4M239.0,136.37H215.7V136.56H239.0M239.0,136.18H214.1V136.47H215.7M239.0,135.98H213.0V136.32H214.1M215.0,135.50H211.3V136.15H213.0M239.0,137.15H217.0V137.34H239.0M239.0,137.73H219.1V137.92H239.0M239.0,138.50H220.8V138.70H239.0M239.0,138.31H219.7V138.60H220.8M239.0,138.12H219.0V138.46H219.7M219.1,137.83H218.1V138.29H219.0M239.0,137.53H216.6V138.06H218.1M217.0,137.24H215.7V137.80H216.6M239.0,136.95H215.4V137.52H215.7M239.0,136.76H211.9V137.24H215.4M239.0,139.09H216.6V139.28H239.0M239.0,139.67H219.5V139.86H239.0M239.0,139.47H214.9V139.77H219.5M216.6,139.18H214.6V139.62H214.9M239.0,140.06H213.2V140.25H239.0M214.6,139.40H212.7V140.15H213.2M239.0,140.83H217.5V141.03H239.0M239.0,140.64H215.9V140.93H217.5M239.0,141.22H215.5V141.41H239.0M215.9,140.78H214.1V141.32H215.5M239.0,140.44H212.4V141.05H214.1M239.0,141.80H216.6V142.00H239.0M239.0,141.61H216.0V141.90H216.6M239.0,142.19H215.6V142.38H239.0M216.0,141.75H214.7V142.29H215.6M239.0,142.77H216.1V142.97H239.0M239.0,142.58H214.2V142.87H216.1M214.7,142.02H213.4V142.72H214.2M239.0,143.74H218.2V143.94H239.0M239.0,143.55H216.1V143.84H218.2M239.0,143.35H214.7V143.69H216.1M239.0,143.16H214.5V143.52H214.7M239.0,144.32H218.1V144.52H239.0M239.0,144.13H216.7V144.42H218.1M239.0,144.91H219.4V145.10H239.0M239.0,144.71H216.6V145.00H219.4M216.7,144.28H215.5V144.86H216.6M239.0,145.29H215.5V145.49H239.0M239.0,145.68H216.8V145.88H239.0M239.0,146.07H220.9V146.26H239.0M239.0,147.04H223.5V147.23H239.0M239.0,146.85H222.8V147.14H223.5M239.0,147.43H222.3V147.62H239.0M222.8,146.99H221.3V147.53H222.3M239.0,146.65H220.9V147.26H221.3M239.0,146.46H220.0V146.96H220.9M220.9,146.17H219.3V146.71H220.0M239.0,147.82H218.5V148.01H239.0M219.3,146.44H215.5V147.91H218.5M216.8,145.78H214.8V147.17H215.5M215.5,145.39H214.1V146.48H214.8M215.5,144.57H213.4V145.93H214.1M214.5,143.34H212.8V145.25H213.4M213.4,142.37H212.4V144.30H212.8M212.4,140.75H212.1V143.33H212.4M212.7,139.78H211.3V142.04H212.1M239.0,138.89H210.9V140.91H211.3M211.9,137.00H210.3V139.90H210.9M211.3,135.82H210.0V138.45H210.3M239.0,148.79H215.5V148.98H239.0M239.0,148.59H214.2V148.88H215.5M239.0,148.40H212.5V148.74H214.2M239.0,148.20H212.1V148.57H212.5M239.0,149.76H216.7V149.95H239.0M239.0,149.56H214.6V149.85H216.7M239.0,149.37H214.4V149.71H214.6M239.0,149.17H211.9V149.54H214.4M212.1,148.39H211.0V149.36H211.9M239.0,150.73H217.2V150.92H239.0M239.0,150.53H216.3V150.82H217.2M239.0,151.50H221.7V151.70H239.0M239.0,151.31H220.0V151.60H221.7M239.0,151.89H218.9V152.08H239.0M220.0,151.45H218.0V151.99H218.9M239.0,152.28H218.1V152.47H239.0M239.0,152.86H221.1V153.05H239.0M239.0,152.67H217.7V152.96H221.1M218.1,152.37H217.3V152.81H217.7M218.0,151.72H216.8V152.59H217.3M239.0,153.44H217.3V153.64H239.0M239.0,153.25H216.4V153.54H217.3M216.8,152.16H216.0V153.39H216.4M239.0,151.11H215.5V152.77H216.0M216.3,150.68H214.9V151.94H215.5M239.0,150.34H214.2V151.31H214.9M239.0,150.14H213.8V150.82H214.2M239.0,154.61H223.8V154.80H239.0M239.0,154.41H223.0V154.70H223.8M239.0,154.22H221.8V154.56H223.0M239.0,155.19H222.5V155.38H239.0M239.0,154.99H221.5V155.28H222.5M221.8,154.39H220.8V155.14H221.5M239.0,154.02H219.6V154.76H220.8M239.0,155.58H219.5V155.77H239.0M219.6,154.39H218.9V155.67H219.5M239.0,153.83H213.3V155.03H218.9M239.0,156.16H215.8V156.35H239.0M239.0,155.96H214.1V156.25H215.8M239.0,156.55H214.7V156.74H239.0M239.0,157.13H217.8V157.32H239.0M239.0,156.93H214.3V157.22H217.8M214.7,156.64H213.7V157.08H214.3M214.1,156.11H212.6V156.86H213.7M213.3,154.43H211.5V156.49H212.6M213.8,150.48H210.3V155.46H211.5M211.0,148.87H209.5V152.97H210.3M210.0,137.14H209.3V150.92H209.5M210.1,133.49H209.0V144.03H209.3M239.0,157.52H217.8V157.71H239.0M239.0,158.10H218.9V158.29H239.0M239.0,157.90H218.1V158.19H218.9M239.0,158.49H220.2V158.68H239.0M239.0,158.87H219.4V159.07H239.0M239.0,159.26H224.8V159.46H239.0M239.0,159.65H222.5V159.84H239.0M224.8,159.36H221.5V159.75H222.5M239.0,160.23H224.3V160.43H239.0M239.0,160.04H221.6V160.33H224.3M239.0,160.62H221.3V160.81H239.0M221.6,160.18H220.0V160.72H221.3M221.5,159.55H219.4V160.45H220.0M239.0,161.20H220.4V161.40H239.0M239.0,161.01H219.2V161.30H220.4M219.4,160.00H218.9V161.15H219.2M219.4,158.97H218.1V160.58H218.9M220.2,158.58H217.6V159.77H218.1M218.1,158.05H217.4V159.18H217.6M217.8,157.61H217.1V158.61H217.4M239.0,161.59H218.7V161.78H239.0M239.0,162.56H220.5V162.75H239.0M239.0,162.37H219.1V162.66H220.5M239.0,163.34H221.9V163.53H239.0M239.0,163.14H220.8V163.43H221.9M239.0,162.95H219.7V163.29H220.8M239.0,164.31H222.7V164.50H239.0M239.0,164.11H221.0V164.40H222.7M239.0,163.92H219.6V164.26H221.0M239.0,163.72H218.8V164.09H219.6M219.7,163.12H218.1V163.91H218.8M219.1,162.51H217.8V163.51H218.1M239.0,162.17H217.2V163.01H217.8M239.0,161.98H217.0V162.59H217.2M218.7,161.69H216.4V162.28H217.0M217.1,158.11H211.7V161.99H216.4M239.0,164.69H215.8V164.89H239.0M239.0,165.08H218.4V165.28H239.0M239.0,166.44H221.4V166.63H239.0M239.0,167.02H220.0V167.22H239.0M239.0,166.83H219.2V167.12H220.0M221.4,166.54H218.6V166.97H219.2M239.0,166.25H218.0V166.75H218.6M239.0,166.05H217.3V166.50H218.0M239.0,165.86H216.6V166.28H217.3M239.0,165.66H215.7V166.07H216.6M239.0,165.47H215.2V165.86H215.7M218.4,165.18H214.7V165.67H215.2M215.8,164.79H213.0V165.42H214.7M239.0,167.41H211.7V167.60H239.0M213.0,165.11H209.9V167.51H211.7M211.7,160.05H208.9V166.31H209.9M209.0,138.76H208.1V163.18H208.9M239.0,167.99H215.8V168.19H239.0M239.0,167.80H213.0V168.09H215.8M239.0,168.57H215.8V168.77H239.0M239.0,168.38H213.4V168.67H215.8M239.0,169.16H215.4V169.35H239.0M239.0,168.96H212.7V169.25H215.4M213.4,168.52H212.2V169.11H212.7M213.0,167.94H211.9V168.82H212.2M239.0,169.54H215.7V169.74H239.0M239.0,170.13H218.2V170.32H239.0M239.0,170.51H217.1V170.71H239.0M218.2,170.22H216.2V170.61H217.1M239.0,169.93H215.6V170.42H216.2M215.7,169.64H214.2V170.17H215.6M239.0,170.90H218.7V171.10H239.0M239.0,171.48H217.0V171.68H239.0M239.0,171.29H216.5V171.58H217.0M218.7,171.00H215.5V171.43H216.5M239.0,172.07H217.0V172.26H239.0M239.0,171.87H215.0V172.16H217.0M239.0,172.45H216.3V172.65H239.0M239.0,172.84H218.3V173.04H239.0M239.0,173.42H221.8V173.62H239.0M239.0,173.23H218.1V173.52H221.8M218.3,172.94H216.1V173.37H218.1M216.3,172.55H214.2V173.16H216.1M215.0,172.02H213.9V172.85H214.2M215.5,171.22H213.7V172.43H213.9M214.2,169.91H213.3V171.83H213.7M239.0,174.01H215.0V174.20H239.0M239.0,173.81H213.9V174.10H215.0M239.0,174.59H220.1V174.78H239.0M239.0,175.56H218.8V175.75H239.0M239.0,175.36H217.8V175.65H218.8M239.0,175.17H217.7V175.51H217.8M239.0,174.97H216.9V175.34H217.7M220.1,174.68H215.3V175.16H216.9M239.0,174.39H214.2V174.92H215.3M239.0,176.14H214.9V176.33H239.0M239.0,175.94H213.7V176.24H214.9M214.2,174.66H213.3V176.09H213.7M213.9,173.96H213.1V175.37H213.3M239.0,176.53H219.3V176.72H239.0M239.0,176.91H219.1V177.11H239.0M219.3,176.62H215.2V177.01H219.1M239.0,177.50H219.6V177.69H239.0M239.0,177.30H216.7V177.59H219.6M239.0,178.27H220.2V178.47H239.0M239.0,178.66H219.2V178.85H239.0M220.2,178.37H217.8V178.76H219.2M239.0,178.08H217.6V178.56H217.8M239.0,179.05H217.2V179.24H239.0M217.6,178.32H216.0V179.15H217.2M239.0,177.88H215.7V178.73H216.0M216.7,177.45H215.1V178.31H215.7M215.2,176.82H214.5V177.88H215.1M239.0,179.63H217.6V179.82H239.0M239.0,180.21H217.9V180.41H239.0M239.0,180.02H217.0V180.31H217.9M217.6,179.73H214.4V180.16H217.0M239.0,179.44H213.7V179.95H214.4M214.5,177.35H213.0V179.69H213.7M213.1,174.67H211.9V178.52H213.0M213.3,170.87H211.5V176.59H211.9M211.9,168.38H210.0V173.73H211.5M239.0,180.99H216.5V181.18H239.0M239.0,180.79H214.9V181.09H216.5M239.0,181.38H213.5V181.57H239.0M239.0,181.76H217.8V181.96H239.0M239.0,182.15H216.4V182.35H239.0M217.8,181.86H216.0V182.25H216.4M239.0,182.54H214.8V182.73H239.0M216.0,182.06H214.0V182.64H214.8M239.0,182.93H213.0V183.12H239.0M214.0,182.35H212.3V183.03H213.0M213.5,181.47H211.8V182.69H212.3M214.9,180.94H211.1V182.08H211.8M239.0,183.70H214.2V183.90H239.0M239.0,183.51H213.6V183.80H214.2M239.0,183.32H211.1V183.66H213.6M211.1,181.51H210.6V183.49H211.1M239.0,180.60H209.4V182.50H210.6M210.0,171.05H208.3V181.55H209.4M239.0,184.29H216.1V184.48H239.0M239.0,184.87H215.2V185.06H239.0M239.0,184.67H213.3V184.97H215.2M216.1,184.38H212.3V184.82H213.3M239.0,184.09H209.8V184.60H212.3M239.0,185.45H219.6V185.64H239.0M239.0,185.84H218.3V186.03H239.0M219.6,185.55H217.4V185.94H218.3M239.0,186.42H221.6V186.61H239.0M239.0,186.81H221.2V187.00H239.0M221.6,186.52H218.1V186.91H221.2M239.0,187.20H217.5V187.39H239.0M218.1,186.71H216.6V187.29H217.5M239.0,186.23H216.4V187.00H216.6M217.4,185.74H215.8V186.61H216.4M239.0,185.26H213.8V186.18H215.8M239.0,187.78H215.3V187.97H239.0M239.0,187.58H213.3V187.88H215.3M239.0,188.17H212.2V188.36H239.0M213.3,187.73H210.6V188.26H212.2M213.8,185.72H210.3V188.00H210.6M239.0,188.75H220.5V188.94H239.0M239.0,189.14H218.8V189.33H239.0M239.0,189.72H221.1V189.91H239.0M239.0,190.30H221.6V190.49H239.0M239.0,190.88H223.2V191.08H239.0M239.0,191.27H222.0V191.46H239.0M223.2,190.98H221.0V191.37H222.0M239.0,190.69H220.8V191.17H221.0M221.6,190.40H219.7V190.93H220.8M239.0,190.11H219.4V190.66H219.7M221.1,189.82H219.0V190.39H219.4M239.0,189.52H218.7V190.10H219.0M218.8,189.23H218.2V189.81H218.7M220.5,188.85H218.0V189.52H218.2M239.0,188.55H212.0V189.18H218.0M239.0,191.85H213.4V192.05H239.0M239.0,191.66H212.0V191.95H213.4M239.0,192.43H214.7V192.63H239.0M239.0,192.24H213.0V192.53H214.7M239.0,192.82H217.4V193.02H239.0M239.0,193.60H216.7V193.79H239.0M239.0,193.40H215.6V193.70H216.7M239.0,193.21H215.0V193.55H215.6M217.4,192.92H214.5V193.38H215.0M239.0,193.99H215.8V194.18H239.0M239.0,194.37H213.8V194.57H239.0M215.8,194.08H213.1V194.47H213.8M214.5,193.15H212.0V194.28H213.1M213.0,192.39H211.4V193.71H212.0M212.0,191.80H211.0V193.05H211.4M212.0,188.87H210.7V192.43H211.0M239.0,194.76H212.6V194.96H239.0M239.0,195.93H223.8V196.12H239.0M239.0,195.73H221.8V196.02H223.8M239.0,195.54H221.3V195.88H221.8M239.0,196.31H223.0V196.51H239.0M239.0,197.09H225.1V197.28H239.0M239.0,196.90H223.1V197.19H225.1M239.0,196.70H222.3V197.04H223.1M239.0,197.67H224.8V197.87H239.0M239.0,197.48H221.8V197.77H224.8M239.0,198.64H224.0V198.84H239.0M239.0,198.45H223.4V198.74H224.0M239.0,198.25H222.9V198.59H223.4M239.0,198.06H221.7V198.42H222.9M221.8,197.62H221.0V198.24H221.7M222.3,196.87H220.7V197.93H221.0M223.0,196.41H220.4V197.40H220.7M221.3,195.71H220.0V196.91H220.4M239.0,195.34H218.9V196.31H220.0M239.0,195.15H214.0V195.83H218.9M239.0,199.22H215.7V199.42H239.0M239.0,199.03H214.4V199.32H215.7M239.0,199.81H214.3V200.00H239.0M239.0,199.61H213.6V199.90H214.3M214.4,199.18H212.6V199.76H213.6M214.0,195.49H212.2V199.47H212.6M212.6,194.86H210.3V197.48H212.2M210.7,190.65H210.1V196.17H210.3M210.3,186.86H208.7V193.41H210.1M209.8,184.35H208.0V190.13H208.7M208.3,176.30H207.7V187.24H208.0M208.1,150.97H207.3V181.77H207.7M211.3,129.27H206.3V166.37H207.3M206.9,127.48H205.5V147.82H206.3" fill="none" stroke="#000" stroke-width="0.55"/><path d="M205.5,84.4H191.5V123H205.5" fill="none" stroke="#777" stroke-width="0.5"/><defs><linearGradient id="ovl" x1="0" y1="0" x2="1" y2="0"><stop offset="0" stop-color="#fff" stop-opacity="0.55"/><stop offset="1" stop-color="#fff" stop-opacity="0"/></linearGradient></defs><rect x="206.5" y="127" width="14" height="62" fill="url(#ovl)"/><rect x="206.5" y="58" width="10" height="22" fill="url(#ovl)"/><defs><linearGradient id="flm" x1="0" y1="0" x2="1" y2="0"><stop offset="0" stop-color="#fff" stop-opacity="0.95"/><stop offset="1" stop-color="#fff" stop-opacity="0.25"/></linearGradient></defs><polygon points="212.0,61.7 228.0,62.8 212.0,63.9" fill="url(#flm)"/><polygon points="212.0,69.9 227.0,71.0 212.0,72.1" fill="url(#flm)"/><polygon points="210.0,113.2 239.0,113.5 210.0,113.8" fill="url(#flm)"/><polygon points="212.0,133.9 239.0,134.7 212.0,135.5" fill="url(#flm)"/><polygon points="214.0,156.4 238.0,157.6 214.0,158.8" fill="url(#flm)"/><polygon points="214.0,160.3 232.0,160.9 214.0,161.5" fill="url(#flm)"/><polygon points="213.0,175.6 236.0,176.6 213.0,177.6" fill="url(#flm)"/><polygon points="211.0,191.8 235.0,192.4 211.0,193.0" fill="url(#flm)"/><polygon points="210.0,99.1 222.0,100.0 210.0,100.9" fill="url(#flm)"/><polygon points="210.0,144.5 222.0,146.0 210.0,147.5" fill="url(#flm)"/><polygon points="208.0,166.0 222.0,168.0 208.0,170.0" fill="url(#flm)"/><polygon points="209.0,138.0 224.0,139.0 209.0,140.0" fill="url(#flm)"/><defs><linearGradient id="cbB" x1="0" y1="0" x2="0" y2="1"><stop offset="0" stop-color="#c81e28"/><stop offset="0.5" stop-color="#ffffff"/><stop offset="1" stop-color="#2a4e9e"/></linearGradient></defs><rect x="439.8" y="38.7" width="8.5" height="43.2" fill="url(#cbB)"/><text x="448.6" y="41.8" style="font-family:'Liberation Sans',Arial,sans-serif;font-weight:bold;font-size:6px" fill="#1e1e1e" stroke="#1e1e1e" stroke-width="0.18">2.0</text><text x="449" y="83.2" style="font-family:'Liberation Sans',Arial,sans-serif;font-weight:bold;font-size:6px" fill="#1e1e1e" stroke="#1e1e1e" stroke-width="0.18">-2.0</text><rect x="247.1" y="202.7" width="7.9" height="7.9" fill="#0c30f2"/><text x="258.9" y="208.3" style="font-family:'Liberation Sans',Arial,sans-serif;font-weight:bold;font-size:6px" fill="#1e1e1e" stroke="#1e1e1e" stroke-width="0.2">Ampulla</text><rect x="288.9" y="202.7" width="7.9" height="7.9" fill="#f8e010"/><text x="299.6" y="208.3" style="font-family:'Liberation Sans',Arial,sans-serif;font-weight:bold;font-size:6px" fill="#1e1e1e" stroke="#1e1e1e" stroke-width="0.2">Fimbria</text><rect x="326.4" y="202.7" width="7.9" height="7.9" fill="#f08c20"/><text x="337.1" y="208.3" style="font-family:'Liberation Sans',Arial,sans-serif;font-weight:bold;font-size:6px" fill="#1e1e1e" stroke="#1e1e1e" stroke-width="0.2">Follicular</text><rect x="368.2" y="202.7" width="7.9" height="7.9" fill="#e8202c"/><text x="379.5" y="208.3" style="font-family:'Liberation Sans',Arial,sans-serif;font-weight:bold;font-size:6px" fill="#1e1e1e" stroke="#1e1e1e" stroke-width="0.2">Luteal</text></g><defs><filter id="soft" x="-20%" y="-20%" width="140%" height="140%"><feGaussianBlur stdDeviation="0.7"/></filter><linearGradient id="armG" x1="0" y1="0" x2="0" y2="1"><stop offset="0" stop-color="#cacaca" stop-opacity="0"/><stop offset="1" stop-color="#cacaca" stop-opacity="0.9"/></linearGradient></defs><defs><linearGradient id="cbC" x1="0" y1="0" x2="0" y2="1"><stop offset="0" stop-color="#e8202a"/><stop offset="0.5" stop-color="#ffffff"/><stop offset="1" stop-color="#0c8c3c"/></linearGradient></defs><text x="6.8" y="216.7" style="font-family:'Liberation Sans',Arial,sans-serif;font-weight:bold;font-size:16.2px" fill="#111">C</text><path d="M66.8,215.0V376.6M82.1,215.0V376.6M97.4,215.0V376.6M112.7,215.0V376.6M128.0,215.0V376.6M143.3,215.0V376.6M158.6,215.0V376.6M173.9,215.0V376.6M189.2,215.0V376.6M51.5,231.2H204.5M51.5,247.3H204.5M51.5,263.5H204.5M51.5,279.6H204.5M51.5,295.8H204.5M51.5,312.0H204.5M51.5,328.1H204.5M51.5,344.3H204.5M51.5,360.4H204.5" stroke="#ebebeb" stroke-width="0.5" fill="none"/><rect x="51.5" y="215.0" width="153.0" height="161.6" fill="none" stroke="#d4d4d4" stroke-width="0.8"/><path d="M51.5,215.0V376.6H204.5" stroke="#bdbdbd" stroke-width="0.9" fill="none"/><path d="M119.8,376.6L119.6,335L120.2,308L121.2,299L125.2,299L126.4,310L127.6,325L128.8,310L130,299L134.4,299L135.2,308L135.8,330L136.3,376.6Z" fill="#cacaca" filter="url(#soft)"/><path d="M126.4,310L127.6,325L128.8,310L127.6,299Z" fill="#d8d8d8" filter="url(#soft)"/><path d="M120.4,300L121.8,268L125,268L126.2,300Z" fill="url(#armG)" filter="url(#soft)"/><path d="M129.2,300L130.6,268L134,268L135.2,300Z" fill="url(#armG)" filter="url(#soft)"/><path d="M120.1,336.4h0.01M117.5,374.3h0.01M119.5,301.8h0.01M118.9,366.1h0.01M118.6,326.5h0.01M116.8,335.4h0.01M118.7,354.4h0.01M119.4,313.1h0.01M118.4,335.3h0.01M119.9,332.3h0.01M118.3,360.1h0.01M119.3,337.6h0.01M116.0,328.9h0.01M119.2,311.9h0.01M116.9,366.2h0.01M118.2,354.3h0.01M118.6,304.4h0.01M118.6,364.7h0.01M119.0,360.3h0.01M119.7,359.1h0.01M119.4,360.4h0.01M117.8,338.8h0.01M118.7,320.4h0.01M116.4,375.2h0.01M119.0,296.3h0.01M117.2,320.9h0.01M118.8,373.9h0.01M118.1,329.2h0.01M118.8,351.0h0.01M116.3,362.7h0.01M119.6,309.0h0.01M119.2,366.3h0.01M119.4,371.6h0.01M118.9,304.4h0.01M119.1,311.7h0.01M117.8,369.1h0.01M119.8,353.0h0.01M117.4,336.8h0.01M116.7,359.1h0.01M119.2,355.8h0.01M118.0,300.8h0.01M117.4,341.5h0.01M117.3,316.4h0.01M119.5,371.2h0.01M119.7,356.8h0.01M115.7,316.8h0.01M118.9,323.3h0.01M116.7,313.6h0.01M118.6,364.5h0.01M120.2,365.0h0.01M118.6,313.2h0.01M119.5,315.4h0.01M119.7,347.6h0.01M119.1,296.1h0.01M119.8,356.9h0.01M117.3,371.7h0.01M115.6,325.3h0.01M119.2,336.4h0.01M117.3,327.4h0.01M118.4,373.5h0.01M118.9,331.8h0.01M119.6,350.4h0.01M119.8,348.2h0.01M120.2,351.2h0.01M119.3,303.0h0.01M115.5,369.7h0.01M118.4,299.0h0.01M118.9,320.2h0.01M117.3,311.6h0.01M118.0,365.0h0.01M118.7,372.6h0.01M119.1,318.7h0.01M119.0,315.3h0.01M119.6,312.9h0.01M116.0,365.5h0.01M119.7,336.5h0.01M118.9,327.8h0.01M118.6,357.3h0.01M118.5,347.8h0.01M115.5,353.2h0.01M119.4,343.1h0.01M119.0,322.3h0.01M119.8,355.8h0.01M116.9,368.9h0.01M117.7,332.3h0.01M119.9,364.1h0.01M118.8,313.4h0.01M119.5,303.9h0.01M120.0,352.5h0.01M119.8,349.2h0.01M119.3,306.0h0.01M118.9,316.6h0.01M118.2,313.5h0.01M118.6,331.0h0.01M119.0,331.9h0.01M118.9,319.7h0.01M118.3,336.6h0.01M120.1,367.9h0.01M120.2,346.7h0.01M116.3,326.7h0.01M119.1,342.1h0.01M117.0,365.5h0.01M118.0,343.3h0.01M119.6,336.3h0.01M120.0,335.3h0.01M119.5,375.7h0.01M118.8,339.5h0.01M118.5,373.0h0.01M117.8,333.4h0.01M116.5,342.9h0.01M119.1,319.0h0.01M119.2,353.4h0.01M120.0,306.7h0.01M119.8,341.4h0.01M118.7,317.2h0.01M116.9,370.2h0.01M118.4,347.4h0.01M120.1,370.8h0.01M119.6,358.9h0.01M119.9,317.0h0.01M119.3,374.2h0.01M118.9,340.2h0.01M117.0,305.1h0.01M119.7,343.8h0.01M118.0,347.2h0.01M119.3,330.2h0.01M118.1,323.1h0.01M117.9,302.8h0.01M118.6,367.1h0.01M118.4,306.4h0.01M115.7,328.7h0.01M118.9,346.5h0.01M119.4,353.1h0.01M116.8,350.4h0.01M119.1,336.1h0.01M117.6,298.6h0.01M119.4,337.3h0.01M118.9,301.0h0.01M116.0,349.8h0.01M119.6,328.7h0.01M119.8,366.3h0.01M119.2,345.1h0.01M117.6,334.8h0.01M119.6,303.1h0.01M117.9,312.1h0.01M116.8,334.4h0.01M119.6,344.4h0.01M119.1,312.2h0.01M118.7,374.2h0.01M116.7,318.7h0.01M119.1,347.3h0.01M119.7,363.5h0.01M119.9,328.9h0.01M119.3,306.8h0.01M117.4,313.2h0.01M119.5,374.4h0.01M116.2,358.4h0.01M119.2,366.3h0.01M116.6,331.2h0.01M119.8,347.1h0.01M118.5,330.0h0.01M120.1,345.6h0.01M118.3,345.4h0.01M118.5,331.9h0.01M114.4,299.4h0.01M114.1,323.7h0.01M118.3,359.3h0.01M119.8,316.5h0.01M118.2,310.4h0.01M119.8,366.3h0.01M119.5,360.6h0.01M119.0,321.2h0.01M117.4,335.2h0.01M120.0,370.9h0.01M119.0,372.7h0.01M114.1,321.5h0.01M119.0,352.9h0.01M117.9,354.5h0.01M119.4,356.7h0.01M119.7,311.3h0.01M116.7,298.1h0.01M117.1,351.9h0.01M115.4,351.8h0.01M120.1,368.2h0.01M119.9,374.6h0.01M116.9,303.3h0.01M119.2,354.8h0.01M119.2,305.4h0.01M119.5,346.3h0.01M118.5,312.8h0.01M119.0,362.2h0.01M116.4,315.5h0.01M118.0,304.4h0.01M119.0,342.6h0.01M119.9,304.8h0.01M118.8,330.1h0.01M118.9,345.6h0.01M116.7,330.2h0.01M119.2,319.5h0.01M119.3,308.3h0.01M119.4,346.6h0.01M119.4,344.8h0.01M119.4,369.1h0.01M119.0,335.0h0.01M118.4,305.9h0.01M119.7,326.9h0.01M120.1,364.4h0.01M117.0,332.0h0.01M117.4,361.6h0.01M120.0,350.5h0.01M119.6,327.6h0.01M120.0,350.4h0.01M120.1,346.6h0.01M119.8,339.4h0.01M117.4,355.8h0.01M120.0,299.7h0.01M118.6,306.6h0.01M116.9,297.6h0.01M118.7,300.7h0.01M119.8,330.8h0.01M117.3,318.4h0.01M118.5,325.5h0.01M116.9,374.9h0.01M118.1,338.4h0.01M119.2,355.3h0.01M117.9,297.1h0.01M119.2,298.9h0.01M119.2,363.3h0.01M119.5,347.5h0.01M116.5,364.5h0.01M119.8,301.4h0.01M116.0,326.1h0.01M117.9,316.7h0.01M118.6,345.7h0.01M119.8,368.7h0.01M118.6,358.6h0.01M118.6,350.4h0.01M118.6,349.8h0.01M118.1,309.6h0.01M119.7,376.2h0.01M118.5,306.8h0.01M120.0,317.9h0.01M117.5,359.0h0.01M119.3,357.0h0.01M120.0,321.7h0.01M119.5,356.6h0.01M117.9,372.9h0.01M119.4,297.5h0.01M119.5,329.7h0.01M119.7,303.9h0.01M117.4,297.6h0.01M118.6,363.8h0.01M119.7,328.8h0.01M118.0,322.5h0.01M119.4,325.1h0.01M118.6,322.6h0.01M118.5,335.4h0.01M117.9,365.3h0.01M120.0,341.4h0.01M120.1,350.7h0.01M117.4,319.3h0.01M118.5,298.4h0.01M116.5,368.4h0.01M118.9,299.7h0.01M117.8,351.6h0.01M116.8,340.5h0.01M119.2,338.9h0.01M117.7,354.6h0.01M120.1,353.4h0.01M118.1,348.5h0.01M118.3,363.8h0.01M119.4,301.9h0.01M117.8,308.6h0.01M119.0,305.0h0.01M117.2,362.0h0.01M118.0,296.8h0.01M117.8,316.0h0.01M119.7,297.0h0.01M119.4,364.9h0.01M117.3,344.7h0.01M118.9,336.2h0.01M118.9,375.1h0.01M119.9,328.6h0.01M116.7,300.7h0.01M119.8,317.4h0.01M117.2,370.0h0.01M118.2,315.3h0.01M118.0,312.9h0.01M116.5,376.0h0.01M117.4,340.9h0.01M117.7,355.6h0.01M118.0,348.7h0.01M117.7,363.1h0.01M118.9,327.7h0.01M118.5,367.3h0.01M118.5,361.1h0.01M116.2,363.5h0.01M116.5,359.7h0.01M116.3,337.9h0.01M119.3,347.3h0.01M118.9,369.0h0.01M120.0,362.8h0.01M118.8,306.4h0.01M117.5,360.2h0.01M119.4,371.2h0.01M116.6,347.3h0.01M118.1,369.8h0.01M120.1,321.3h0.01M116.9,335.0h0.01M119.5,367.5h0.01M117.4,331.0h0.01M117.1,297.6h0.01M117.7,329.3h0.01M119.9,320.4h0.01M119.8,328.1h0.01M116.6,347.7h0.01M119.9,375.9h0.01M117.5,318.8h0.01M120.1,353.4h0.01M119.0,362.4h0.01M136.8,309.0h0.01M136.6,301.3h0.01M136.0,320.1h0.01M135.9,333.4h0.01M140.8,333.0h0.01M136.5,348.6h0.01M140.4,319.3h0.01M138.4,343.7h0.01M141.2,353.8h0.01M138.5,298.3h0.01M139.4,306.4h0.01M140.9,359.0h0.01M136.2,320.5h0.01M138.3,299.6h0.01M138.3,317.7h0.01M137.5,359.4h0.01M137.7,350.1h0.01M137.7,372.6h0.01M137.6,325.6h0.01M136.8,308.7h0.01M136.3,308.3h0.01M136.4,355.4h0.01M137.3,340.5h0.01M139.6,344.8h0.01M138.3,329.9h0.01M139.5,345.2h0.01M137.8,336.2h0.01M137.3,302.9h0.01M139.2,341.5h0.01M136.1,303.1h0.01M135.9,312.2h0.01M137.7,341.4h0.01M136.0,356.8h0.01M136.7,333.2h0.01M140.3,346.3h0.01M138.2,322.4h0.01M137.8,374.3h0.01M136.5,314.6h0.01M137.5,333.3h0.01M137.1,330.7h0.01M137.4,303.3h0.01M140.3,331.1h0.01M139.1,329.7h0.01M136.1,367.0h0.01M136.8,362.9h0.01M137.9,325.4h0.01M138.5,329.0h0.01M138.1,368.9h0.01M136.2,370.2h0.01M136.5,370.2h0.01M138.0,368.2h0.01M136.0,315.1h0.01M136.2,316.8h0.01M139.0,353.5h0.01M137.9,370.6h0.01M137.1,329.6h0.01M137.4,372.1h0.01M137.3,330.7h0.01M136.8,372.5h0.01M136.1,354.2h0.01M136.5,333.2h0.01M136.3,328.1h0.01M139.3,357.9h0.01M137.1,330.1h0.01M136.3,326.0h0.01M137.1,349.5h0.01M136.2,369.9h0.01M137.8,340.1h0.01M138.3,330.8h0.01M136.9,366.5h0.01M137.3,371.6h0.01M138.1,370.0h0.01M138.4,340.5h0.01M138.9,373.9h0.01M137.3,358.1h0.01M141.3,358.7h0.01M138.6,348.2h0.01M138.4,338.4h0.01M139.0,328.4h0.01M138.3,355.0h0.01M137.6,356.2h0.01M138.4,327.6h0.01M136.6,351.5h0.01M140.6,328.5h0.01M137.9,334.9h0.01M137.3,326.4h0.01M136.4,347.9h0.01M138.7,369.3h0.01M136.6,341.4h0.01M137.3,344.9h0.01M137.9,331.3h0.01M136.1,307.0h0.01M137.8,346.5h0.01M136.9,334.1h0.01M140.5,373.1h0.01M136.2,343.8h0.01M136.9,317.8h0.01M136.9,375.7h0.01M136.2,343.8h0.01M138.3,325.7h0.01M137.9,351.9h0.01M136.9,334.6h0.01M141.5,344.9h0.01M138.1,338.1h0.01M135.9,334.6h0.01M138.1,306.8h0.01M136.5,304.1h0.01M136.0,321.8h0.01M138.3,364.6h0.01M139.6,325.5h0.01M139.6,350.7h0.01M135.8,359.0h0.01M138.2,296.3h0.01M136.4,350.4h0.01M139.0,298.6h0.01M136.3,365.8h0.01M135.9,356.5h0.01M138.1,311.7h0.01M137.0,315.2h0.01M136.4,352.4h0.01M140.5,350.1h0.01M136.4,363.7h0.01M137.2,374.7h0.01M136.8,362.9h0.01M139.1,366.3h0.01M138.5,354.9h0.01M138.4,311.4h0.01M135.9,316.9h0.01M137.1,332.8h0.01M138.9,362.1h0.01M140.4,343.6h0.01M136.4,371.1h0.01M140.5,368.5h0.01M141.3,317.5h0.01M137.7,321.6h0.01M141.2,345.6h0.01M136.8,335.6h0.01M138.8,320.3h0.01M136.0,311.1h0.01M136.6,337.3h0.01M138.7,330.4h0.01M137.8,317.8h0.01M136.6,300.5h0.01M135.9,342.9h0.01M140.6,309.6h0.01M136.0,361.9h0.01M139.0,317.3h0.01M137.7,355.4h0.01M137.2,308.6h0.01M137.7,332.3h0.01M137.5,359.1h0.01M136.0,305.3h0.01M138.9,321.3h0.01M136.0,329.7h0.01M139.0,331.3h0.01M137.7,337.5h0.01M137.4,339.7h0.01M136.6,318.5h0.01M137.5,314.6h0.01M136.7,370.0h0.01M138.7,350.5h0.01M136.2,350.0h0.01M137.0,314.6h0.01M138.8,321.0h0.01M137.4,308.1h0.01M136.3,321.9h0.01M139.1,316.0h0.01M137.9,316.9h0.01M140.0,366.7h0.01M136.1,315.5h0.01M138.3,304.0h0.01M137.0,309.4h0.01M136.3,371.9h0.01M136.9,334.1h0.01M138.8,357.8h0.01M138.0,296.8h0.01M136.8,344.0h0.01M140.2,296.4h0.01M137.2,320.9h0.01M137.1,344.3h0.01M136.2,339.1h0.01M137.7,345.0h0.01M136.0,325.3h0.01M140.8,331.4h0.01M136.1,299.1h0.01M136.6,372.9h0.01M137.1,355.2h0.01M136.7,345.5h0.01M139.9,348.0h0.01M140.9,353.2h0.01M135.9,359.2h0.01M138.6,342.0h0.01M141.9,313.9h0.01M137.7,335.5h0.01M137.5,355.3h0.01M141.1,330.1h0.01M138.8,354.4h0.01M138.9,355.5h0.01M138.1,312.5h0.01M138.4,348.5h0.01M139.3,307.3h0.01M136.8,318.0h0.01M138.4,313.6h0.01M137.1,343.8h0.01M139.0,373.9h0.01M135.8,325.6h0.01M135.9,334.7h0.01M137.1,374.3h0.01M136.3,371.9h0.01M136.7,345.6h0.01M140.5,371.2h0.01M136.4,301.0h0.01M136.2,355.7h0.01M136.3,376.6h0.01M136.8,328.0h0.01M139.9,327.5h0.01M136.6,327.1h0.01M136.6,323.8h0.01M137.5,359.0h0.01M136.5,357.4h0.01M138.0,354.1h0.01M136.6,312.4h0.01M136.4,307.9h0.01M137.4,343.0h0.01M137.4,331.9h0.01M140.1,300.4h0.01M136.3,314.7h0.01M136.3,361.3h0.01M138.8,356.4h0.01M136.2,302.7h0.01M136.7,337.2h0.01M137.3,297.7h0.01M137.1,362.0h0.01M136.4,353.4h0.01M136.6,315.0h0.01M137.9,365.3h0.01M138.0,350.5h0.01M137.2,314.5h0.01M138.4,325.1h0.01M137.3,305.7h0.01M137.8,319.1h0.01M136.1,303.5h0.01M137.6,364.0h0.01M138.7,346.8h0.01M136.5,311.9h0.01M136.5,321.8h0.01M136.5,365.2h0.01M138.1,344.8h0.01M142.7,324.3h0.01M136.6,326.4h0.01M137.4,296.3h0.01M138.9,307.1h0.01M137.9,316.9h0.01M137.7,370.3h0.01M137.0,302.2h0.01M136.7,352.0h0.01M136.1,325.5h0.01M136.3,312.2h0.01M137.0,316.6h0.01M136.4,321.0h0.01M136.9,326.2h0.01M137.4,319.3h0.01M135.8,376.0h0.01M136.0,326.4h0.01M138.2,332.2h0.01M139.1,353.0h0.01M136.2,357.3h0.01M136.3,351.7h0.01M138.4,305.3h0.01M136.6,366.8h0.01M136.2,368.3h0.01M138.7,307.7h0.01M139.5,336.3h0.01M137.2,353.6h0.01M140.1,297.9h0.01M136.8,332.9h0.01M137.8,371.6h0.01M139.6,364.1h0.01M138.6,316.4h0.01M136.7,328.5h0.01M136.6,315.1h0.01M136.6,321.0h0.01M136.4,330.2h0.01M139.7,309.4h0.01M139.0,314.5h0.01M137.2,340.5h0.01M138.1,349.1h0.01M136.3,340.7h0.01M141.2,320.4h0.01M137.3,343.7h0.01M138.2,296.4h0.01M136.4,342.9h0.01M139.1,356.4h0.01M138.5,315.8h0.01M136.6,353.1h0.01M136.7,302.5h0.01M137.7,303.1h0.01M136.6,316.9h0.01M136.5,370.1h0.01M137.1,357.1h0.01M137.8,301.2h0.01M137.6,325.5h0.01M140.8,322.5h0.01M140.3,366.8h0.01M137.1,335.8h0.01M136.9,352.3h0.01M135.9,349.0h0.01M137.4,301.6h0.01M138.7,344.8h0.01M136.4,356.3h0.01M136.9,300.2h0.01M137.0,364.8h0.01M138.8,363.0h0.01M138.9,337.7h0.01M135.9,346.0h0.01M139.0,346.7h0.01M136.5,321.2h0.01M137.5,372.9h0.01M137.6,371.0h0.01M136.1,332.4h0.01M105.2,362.0h0.01M116.9,365.4h0.01M116.3,342.0h0.01M114.6,344.5h0.01M113.7,365.7h0.01M116.7,351.1h0.01M109.2,374.6h0.01M113.2,343.2h0.01M118.3,351.9h0.01M116.3,354.5h0.01M112.8,364.7h0.01M113.9,337.6h0.01M118.7,349.1h0.01M109.7,365.5h0.01M108.6,361.5h0.01M117.7,351.7h0.01M101.9,342.6h0.01M111.5,372.7h0.01M106.9,331.8h0.01M118.6,335.6h0.01M113.2,341.3h0.01M116.5,339.1h0.01M111.9,364.4h0.01M112.1,350.4h0.01M117.0,338.2h0.01M113.2,330.4h0.01M118.0,342.7h0.01M111.8,366.5h0.01M118.5,357.5h0.01M113.9,360.0h0.01M114.1,350.9h0.01M118.2,333.2h0.01M117.1,337.8h0.01M115.6,339.0h0.01M114.0,331.3h0.01M116.7,333.4h0.01M117.4,354.8h0.01M111.3,352.1h0.01M114.1,336.5h0.01M113.7,359.8h0.01M116.9,369.0h0.01M111.5,371.5h0.01M118.3,364.2h0.01M107.2,332.7h0.01M114.8,334.2h0.01M114.7,339.9h0.01M118.9,350.1h0.01M104.6,354.2h0.01M115.0,344.5h0.01M115.5,330.1h0.01M112.2,358.6h0.01M111.0,361.2h0.01M116.5,359.0h0.01M115.4,366.4h0.01M117.1,356.8h0.01M108.3,348.6h0.01M109.7,350.1h0.01M108.5,345.4h0.01M116.9,374.8h0.01M111.9,344.5h0.01M111.8,358.8h0.01M111.4,356.2h0.01M115.0,343.4h0.01M117.1,358.2h0.01M110.4,346.4h0.01M115.1,370.7h0.01M116.9,372.7h0.01M117.9,363.3h0.01M112.3,337.6h0.01M116.0,344.8h0.01M113.1,340.0h0.01M114.9,342.0h0.01M116.0,349.4h0.01M109.4,360.4h0.01M116.1,335.0h0.01M106.7,362.9h0.01M111.3,357.5h0.01M115.0,349.0h0.01M116.7,349.1h0.01M111.4,332.8h0.01M108.2,337.2h0.01M115.0,366.3h0.01M109.7,370.5h0.01M108.0,343.3h0.01M117.7,333.4h0.01M107.6,334.5h0.01M99.1,343.1h0.01M113.1,335.1h0.01M115.9,375.0h0.01M114.8,341.7h0.01M143.1,365.8h0.01M139.7,343.0h0.01M141.7,341.7h0.01M149.4,342.0h0.01M139.5,349.9h0.01M142.8,339.0h0.01M138.5,339.6h0.01M145.9,333.1h0.01M144.0,370.7h0.01M142.5,353.2h0.01M139.3,348.8h0.01M144.7,336.9h0.01M140.9,361.4h0.01M142.1,331.0h0.01M144.2,368.0h0.01M144.7,343.4h0.01M143.0,361.6h0.01M141.4,336.7h0.01M138.1,352.1h0.01M140.9,336.8h0.01M148.1,353.0h0.01M138.4,334.9h0.01M145.5,354.6h0.01M144.6,352.6h0.01M143.8,337.0h0.01M140.1,335.9h0.01M137.9,345.1h0.01M139.8,340.0h0.01M139.3,345.5h0.01M137.2,352.2h0.01M148.5,342.9h0.01M142.2,358.8h0.01M140.0,341.7h0.01M142.3,353.1h0.01M140.9,345.7h0.01M144.9,332.8h0.01M144.4,357.3h0.01M142.6,367.1h0.01M137.9,330.7h0.01M142.4,345.0h0.01M138.5,355.1h0.01M144.6,363.0h0.01M139.8,332.4h0.01M139.7,346.1h0.01M139.4,342.7h0.01M144.9,349.8h0.01M137.6,367.2h0.01M143.4,341.2h0.01M143.9,357.6h0.01M140.0,365.1h0.01M143.7,336.1h0.01M140.2,333.0h0.01M140.2,336.1h0.01M138.1,373.6h0.01M147.2,332.9h0.01M139.6,351.9h0.01M138.7,366.7h0.01M141.3,342.3h0.01M137.1,376.3h0.01M137.1,336.0h0.01M138.7,369.1h0.01M137.4,368.8h0.01M139.6,336.1h0.01M139.0,351.8h0.01M140.0,352.1h0.01M140.0,346.5h0.01M146.5,336.9h0.01M139.8,354.2h0.01M140.7,340.1h0.01M139.8,331.0h0.01M149.3,354.7h0.01M144.6,369.5h0.01M148.9,357.1h0.01M146.0,330.4h0.01M148.2,361.9h0.01M145.0,350.7h0.01M141.6,349.2h0.01M137.5,333.0h0.01M139.6,340.7h0.01M141.1,362.8h0.01M146.1,350.0h0.01M139.2,373.2h0.01M147.7,367.9h0.01M138.4,353.5h0.01M140.6,331.2h0.01M143.3,351.9h0.01M140.7,340.0h0.01M137.6,339.7h0.01M150.3,363.0h0.01M146.0,332.8h0.01M137.8,339.4h0.01M154.4,339.5h0.01M125.8,345.4h0.01M142.2,343.5h0.01M103.9,366.4h0.01M115.0,339.0h0.01M112.2,353.1h0.01M145.3,361.7h0.01M115.4,355.5h0.01M102.6,340.8h0.01M117.6,350.0h0.01M118.3,365.9h0.01M146.5,361.3h0.01M115.7,341.3h0.01M119.2,347.0h0.01M118.2,345.5h0.01M117.5,348.5h0.01M100.5,371.5h0.01M127.9,339.0h0.01M154.9,339.3h0.01M128.8,343.2h0.01M136.9,341.1h0.01M154.6,352.2h0.01M124.5,339.9h0.01M111.9,363.7h0.01M149.4,371.3h0.01M149.2,336.8h0.01M109.1,340.4h0.01M115.9,354.9h0.01M154.1,337.4h0.01M124.9,276.9h0.01M126.4,272.9h0.01M126.4,268.8h0.01M119.8,266.8h0.01M125.4,264.8h0.01M123.9,294.7h0.01M125.6,277.4h0.01M120.9,285.2h0.01M120.9,266.4h0.01M120.0,263.9h0.01M119.6,268.7h0.01M121.1,274.5h0.01M120.7,264.3h0.01M120.6,275.9h0.01M123.8,276.4h0.01M121.0,281.9h0.01M126.0,289.1h0.01M119.6,264.1h0.01M125.7,269.7h0.01M122.8,263.1h0.01M122.4,297.2h0.01M122.5,274.1h0.01M123.3,264.6h0.01M120.0,265.4h0.01M123.2,268.5h0.01M122.4,281.7h0.01M121.8,282.5h0.01M122.7,272.1h0.01M125.3,286.7h0.01M122.7,274.0h0.01M125.2,269.1h0.01M123.9,270.0h0.01M122.6,266.6h0.01M125.4,273.0h0.01M120.3,277.2h0.01M121.4,285.9h0.01M121.6,266.3h0.01M121.9,277.1h0.01M122.2,286.2h0.01M123.5,277.5h0.01M126.1,271.5h0.01M126.3,265.3h0.01M122.9,296.8h0.01M121.0,289.4h0.01M124.7,288.4h0.01M124.0,280.7h0.01M122.9,267.9h0.01M121.6,286.8h0.01M121.5,263.3h0.01M123.4,282.0h0.01M120.5,292.4h0.01M121.8,271.6h0.01M122.7,266.5h0.01M126.5,272.9h0.01M121.9,266.9h0.01M120.1,267.8h0.01M125.7,267.4h0.01M120.2,272.6h0.01M125.1,277.7h0.01M125.4,287.1h0.01M123.2,273.2h0.01M125.0,277.7h0.01M121.3,269.0h0.01M120.3,279.1h0.01M122.8,267.1h0.01M122.5,273.1h0.01M124.2,270.0h0.01M126.2,276.1h0.01M123.5,296.4h0.01M120.8,283.5h0.01M121.0,274.4h0.01M120.9,272.9h0.01M125.3,292.1h0.01M121.2,275.0h0.01M119.8,288.2h0.01M123.5,278.1h0.01M125.8,272.9h0.01M124.8,279.9h0.01M122.1,265.4h0.01M123.8,264.0h0.01M130.8,289.6h0.01M133.7,289.1h0.01M129.5,278.4h0.01M133.8,279.4h0.01M134.3,276.3h0.01M131.0,273.9h0.01M133.2,287.8h0.01M133.1,286.9h0.01M135.8,274.0h0.01M130.4,294.3h0.01M130.5,280.9h0.01M133.0,270.3h0.01M134.0,276.7h0.01M133.4,273.4h0.01M131.1,284.7h0.01M131.8,269.6h0.01M129.9,271.0h0.01M129.1,286.3h0.01M133.7,266.6h0.01M134.4,269.8h0.01M130.8,262.3h0.01M133.2,264.1h0.01M135.6,283.9h0.01M135.8,291.6h0.01M133.5,283.2h0.01M129.7,272.9h0.01M130.5,267.1h0.01M132.2,282.7h0.01M129.1,269.5h0.01M133.5,266.6h0.01M131.7,264.0h0.01M129.2,263.9h0.01M134.4,290.3h0.01M135.9,291.1h0.01M134.3,283.7h0.01M133.8,265.8h0.01M129.8,280.7h0.01M135.3,275.6h0.01M130.1,291.2h0.01M129.9,290.1h0.01M131.5,267.3h0.01M132.2,290.5h0.01M131.5,275.4h0.01M132.1,270.9h0.01M133.8,268.1h0.01M132.8,295.4h0.01M134.4,267.2h0.01M134.1,276.9h0.01M135.2,290.7h0.01M134.2,272.1h0.01M133.9,292.5h0.01M135.8,295.3h0.01M130.2,274.4h0.01M133.0,286.5h0.01M131.0,264.0h0.01M131.2,276.6h0.01M129.8,272.9h0.01M133.9,268.3h0.01M130.6,279.1h0.01M133.6,262.6h0.01M134.4,284.7h0.01M129.5,280.5h0.01M132.7,282.6h0.01M134.5,283.2h0.01M129.9,272.0h0.01M134.3,285.3h0.01M131.3,283.1h0.01M129.2,269.8h0.01M129.4,271.7h0.01M133.4,274.0h0.01M129.3,294.7h0.01M132.6,275.2h0.01M129.1,297.5h0.01M134.4,280.7h0.01M134.0,285.6h0.01M130.9,264.4h0.01M130.4,277.8h0.01M132.5,269.0h0.01M131.2,270.7h0.01M130.6,269.8h0.01M118.4,247.3h0.01M119.2,251.1h0.01M133.0,238.8h0.01M133.7,228.4h0.01M121.7,232.2h0.01M137.4,243.1h0.01M119.5,238.9h0.01M128.9,233.8h0.01M129.4,243.3h0.01M121.2,242.2h0.01M127.4,247.4h0.01M124.0,230.0h0.01M126.5,250.0h0.01M131.3,241.7h0.01M128.3,240.7h0.01M120.3,232.8h0.01M129.4,228.2h0.01M118.1,236.2h0.01M126.5,239.6h0.01M132.5,245.3h0.01M126.0,249.6h0.01M129.3,239.5h0.01M112.0,357.0h0.01M150.0,352.0h0.01M99.0,362.0h0.01M156.0,345.0h0.01M119.0,226.0h0.01M133.0,224.0h0.01M124.0,238.0h0.01" stroke="#c6c6c6" stroke-width="0.85" stroke-linecap="round" fill="none"/><path d="M117.7,302.3h0.01M111.9,313.1h0.01M116.5,316.3h0.01M107.6,306.0h0.01M117.1,299.3h0.01M108.1,313.2h0.01M115.6,300.0h0.01M107.4,318.5h0.01M108.7,299.1h0.01M106.1,303.1h0.01M112.4,302.4h0.01M106.5,316.7h0.01M110.1,308.9h0.01M108.5,310.9h0.01M111.1,299.5h0.01M107.5,296.4h0.01M106.8,327.0h0.01M110.4,299.9h0.01M114.3,299.0h0.01M108.7,307.1h0.01M106.1,306.3h0.01M112.7,318.4h0.01M107.0,313.0h0.01M115.9,300.1h0.01M108.5,321.6h0.01M106.1,314.6h0.01M107.9,318.3h0.01M110.2,323.1h0.01M114.5,299.5h0.01M113.0,307.9h0.01M106.4,323.7h0.01M108.2,326.1h0.01M112.0,329.5h0.01M106.8,300.7h0.01M112.1,305.1h0.01M114.7,327.7h0.01M111.9,325.3h0.01M109.7,296.2h0.01M111.4,322.1h0.01M112.8,304.5h0.01M116.5,311.1h0.01M106.5,294.7h0.01M107.0,315.6h0.01M113.4,326.3h0.01M106.6,329.0h0.01M111.1,308.9h0.01M109.0,326.0h0.01M112.4,306.0h0.01M111.7,294.8h0.01M107.4,310.5h0.01M111.1,316.8h0.01M107.6,319.4h0.01M112.7,304.6h0.01M112.7,313.2h0.01M107.6,294.3h0.01M109.6,324.4h0.01M110.0,307.7h0.01M111.0,312.5h0.01M109.4,296.7h0.01M107.8,313.9h0.01M113.4,327.0h0.01M111.9,321.9h0.01M113.1,313.7h0.01M114.7,303.9h0.01M112.7,299.2h0.01M108.1,310.2h0.01M112.5,315.1h0.01M114.1,309.8h0.01M110.0,316.2h0.01M111.6,320.7h0.01M107.1,328.7h0.01M110.1,328.7h0.01M106.5,317.6h0.01M115.7,317.1h0.01M110.4,319.3h0.01M113.5,329.7h0.01M112.5,330.0h0.01M113.4,311.2h0.01M108.8,303.4h0.01M111.8,317.8h0.01M108.2,327.0h0.01M110.1,328.7h0.01M113.3,315.9h0.01M108.1,297.0h0.01M107.8,323.5h0.01M110.0,327.3h0.01M108.7,307.2h0.01M107.7,312.7h0.01M108.8,329.6h0.01M108.7,322.0h0.01M107.6,301.2h0.01M117.9,296.7h0.01M111.1,328.8h0.01M111.3,327.3h0.01M113.2,299.1h0.01M113.6,291.2h0.01M110.2,281.7h0.01M113.8,289.4h0.01M113.5,274.4h0.01M111.3,267.6h0.01M111.2,294.6h0.01M116.8,289.2h0.01M118.5,268.9h0.01M114.6,296.0h0.01M117.7,279.1h0.01M113.3,270.5h0.01M110.1,272.3h0.01M111.0,234.0h0.01M118.0,267.0h0.01M103.0,296.0h0.01M100.0,305.0h0.01M108.0,281.0h0.01M114.0,250.0h0.01M117.0,258.0h0.01M97.0,320.0h0.01M102.0,315.0h0.01" stroke="#46a64a" stroke-width="0.85" stroke-linecap="round" fill="none"/><path d="M147.9,311.7h0.01M144.1,319.7h0.01M143.5,322.4h0.01M147.4,295.7h0.01M136.3,308.1h0.01M136.4,313.6h0.01M148.7,310.6h0.01M136.8,294.7h0.01M141.1,319.7h0.01M145.9,320.2h0.01M140.1,325.0h0.01M141.2,317.3h0.01M136.0,309.6h0.01M136.3,298.5h0.01M138.1,312.9h0.01M136.2,318.5h0.01M139.2,298.7h0.01M149.0,316.4h0.01M138.4,294.9h0.01M140.5,320.9h0.01M140.8,302.4h0.01M136.4,299.0h0.01M145.6,296.4h0.01M149.6,319.2h0.01M139.3,297.6h0.01M140.1,328.1h0.01M136.5,299.7h0.01M136.2,319.0h0.01M148.9,312.3h0.01M138.0,328.6h0.01M142.0,328.4h0.01M138.9,295.8h0.01M136.2,300.7h0.01M139.7,320.5h0.01M140.2,300.8h0.01M147.8,313.1h0.01M142.2,322.8h0.01M143.4,299.7h0.01M149.0,296.5h0.01M136.7,316.0h0.01M141.9,299.2h0.01M144.0,294.0h0.01M140.3,327.9h0.01M147.7,314.2h0.01M145.7,316.5h0.01M137.4,324.3h0.01M142.4,313.8h0.01M149.0,312.4h0.01M138.3,306.9h0.01M141.5,324.9h0.01M146.6,305.9h0.01M140.4,292.0h0.01M142.8,322.1h0.01M137.0,315.4h0.01M136.6,323.6h0.01M144.5,327.4h0.01M137.9,296.8h0.01M141.7,292.3h0.01M146.2,298.2h0.01M136.6,295.9h0.01M144.0,292.0h0.01M139.5,297.3h0.01M145.4,292.2h0.01M137.0,320.9h0.01M140.9,294.6h0.01M149.8,304.8h0.01M139.5,319.7h0.01M140.5,323.2h0.01M141.2,299.8h0.01M141.2,323.5h0.01M137.8,315.4h0.01M141.9,317.7h0.01M138.7,299.1h0.01M143.3,323.9h0.01M140.2,295.5h0.01M145.9,311.1h0.01M143.6,294.1h0.01M145.5,304.9h0.01M147.6,299.9h0.01M136.0,302.8h0.01M144.3,318.8h0.01M146.7,298.4h0.01M142.1,292.9h0.01M137.3,291.8h0.01M142.7,325.8h0.01M142.2,314.1h0.01M147.9,303.2h0.01M141.5,322.4h0.01M137.0,318.1h0.01M136.2,304.8h0.01M136.9,307.3h0.01M137.1,292.5h0.01M139.8,305.6h0.01M144.5,290.6h0.01M142.8,291.8h0.01M140.4,290.8h0.01M148.1,309.5h0.01M140.3,292.8h0.01M145.5,300.7h0.01M140.2,318.9h0.01M144.1,271.1h0.01M136.3,291.5h0.01M137.9,259.4h0.01M141.9,287.7h0.01M136.5,259.6h0.01M142.6,277.5h0.01M137.9,267.0h0.01M143.8,258.7h0.01M137.7,270.3h0.01M143.9,268.7h0.01M136.2,283.3h0.01M142.8,262.3h0.01M143.3,279.2h0.01M139.0,277.7h0.01M140.5,285.0h0.01M146.3,269.6h0.01M136.5,270.4h0.01M141.7,266.7h0.01M137.0,265.2h0.01M144.9,282.3h0.01M136.7,268.2h0.01M138.0,261.8h0.01M144.8,267.8h0.01M141.2,271.0h0.01M136.3,259.2h0.01M142.8,279.4h0.01M140.4,264.0h0.01M138.7,275.2h0.01M137.5,277.6h0.01M144.8,264.0h0.01M146.0,275.3h0.01M146.7,290.9h0.01M136.3,281.2h0.01M137.8,279.1h0.01M145.4,273.6h0.01M140.1,249.4h0.01M137.5,241.6h0.01M138.1,243.5h0.01M140.7,232.6h0.01M140.5,242.0h0.01M141.0,241.5h0.01M137.0,236.0h0.01M145.0,270.0h0.01M150.0,279.0h0.01M153.0,286.0h0.01M158.0,294.0h0.01M163.0,299.0h0.01M147.0,283.0h0.01M155.0,318.0h0.01M160.0,326.0h0.01M157.0,306.0h0.01M144.0,261.0h0.01M142.0,258.0h0.01M139.0,231.0h0.01" stroke="#e24646" stroke-width="0.85" stroke-linecap="round" fill="none"/><text x="97.7" y="258.7" style="font-family:'Liberation Sans',Arial,sans-serif;font-weight:bold;font-size:6px" fill="#2a2a2a" stroke="#2a2a2a" stroke-width="0.22">SGCD</text><text x="140.5" y="271.1" style="font-family:'Liberation Sans',Arial,sans-serif;font-weight:bold;font-size:6px" fill="#2a2a2a" stroke="#2a2a2a" stroke-width="0.22">APOE</text><text x="90.9" y="294.9" style="font-family:'Liberation Sans',Arial,sans-serif;font-weight:bold;font-size:6px" fill="#2a2a2a" stroke="#2a2a2a" stroke-width="0.22">MIR521-1</text><text x="151.5" y="292.6" style="font-family:'Liberation Sans',Arial,sans-serif;font-weight:bold;font-size:6px" fill="#2a2a2a" stroke="#2a2a2a" stroke-width="0.22">APOC1</text><text x="158.9" y="300.4" style="font-family:'Liberation Sans',Arial,sans-serif;font-weight:bold;font-size:6px" fill="#2a2a2a" stroke="#2a2a2a" stroke-width="0.22">HLA-DQB1</text><text x="61.6" y="308.6" style="font-family:'Liberation Sans',Arial,sans-serif;font-weight:bold;font-size:6px" fill="#2a2a2a" stroke="#2a2a2a" stroke-width="0.22">TCN1</text><text x="98" y="312.6" style="font-family:'Liberation Sans',Arial,sans-serif;font-weight:bold;font-size:6px" fill="#2a2a2a" stroke="#2a2a2a" stroke-width="0.22">PGR1</text><text x="67.1" y="317.2" style="font-family:'Liberation Sans',Arial,sans-serif;font-weight:bold;font-size:6px" fill="#2a2a2a" stroke="#2a2a2a" stroke-width="0.22">SLC12A2</text><text x="151.5" y="317.0" style="font-family:'Liberation Sans',Arial,sans-serif;font-weight:bold;font-size:6px" fill="#2a2a2a" stroke="#2a2a2a" stroke-width="0.22">FBXO32</text><text x="82.5" y="323.1" style="font-family:'Liberation Sans',Arial,sans-serif;font-weight:bold;font-size:6px" fill="#2a2a2a" stroke="#2a2a2a" stroke-width="0.22">OVGP1</text><text x="145.5" y="323.0" style="font-family:'Liberation Sans',Arial,sans-serif;font-weight:bold;font-size:6px" fill="#2a2a2a" stroke="#2a2a2a" stroke-width="0.22">APOD</text><text x="52.8" y="220.5" style="font-family:'Liberation Sans',Arial,sans-serif;font-weight:bold;font-size:6px" fill="#383838" stroke="#383838" stroke-width="0.2">Fimbria</text><text x="52.8" y="227.3" style="font-family:'Liberation Sans',Arial,sans-serif;font-weight:bold;font-size:6px" fill="#383838" stroke="#383838" stroke-width="0.2">Luteal vs Follicular</text><text x="49.9" y="378.4" text-anchor="end" style="font-family:'Liberation Sans',Arial,sans-serif;font-weight:bold;font-size:5px" fill="#2a2a2a" stroke="#2a2a2a" stroke-width="0.18">0</text><text x="49.9" y="362.2" text-anchor="end" style="font-family:'Liberation Sans',Arial,sans-serif;font-weight:bold;font-size:5px" fill="#2a2a2a" stroke="#2a2a2a" stroke-width="0.18">0.45</text><text x="49.9" y="346.1" text-anchor="end" style="font-family:'Liberation Sans',Arial,sans-serif;font-weight:bold;font-size:5px" fill="#2a2a2a" stroke="#2a2a2a" stroke-width="0.18">0.9</text><text x="49.9" y="329.9" text-anchor="end" style="font-family:'Liberation Sans',Arial,sans-serif;font-weight:bold;font-size:5px" fill="#2a2a2a" stroke="#2a2a2a" stroke-width="0.18">1.35</text><text x="49.9" y="313.8" text-anchor="end" style="font-family:'Liberation Sans',Arial,sans-serif;font-weight:bold;font-size:5px" fill="#2a2a2a" stroke="#2a2a2a" stroke-width="0.18">1.8</text><text x="49.9" y="297.6" text-anchor="end" style="font-family:'Liberation Sans',Arial,sans-serif;font-weight:bold;font-size:5px" fill="#2a2a2a" stroke="#2a2a2a" stroke-width="0.18">2.25</text><text x="49.9" y="281.4" text-anchor="end" style="font-family:'Liberation Sans',Arial,sans-serif;font-weight:bold;font-size:5px" fill="#2a2a2a" stroke="#2a2a2a" stroke-width="0.18">2.7</text><text x="49.9" y="265.3" text-anchor="end" style="font-family:'Liberation Sans',Arial,sans-serif;font-weight:bold;font-size:5px" fill="#2a2a2a" stroke="#2a2a2a" stroke-width="0.18">3.15</text><text x="49.9" y="249.1" text-anchor="end" style="font-family:'Liberation Sans',Arial,sans-serif;font-weight:bold;font-size:5px" fill="#2a2a2a" stroke="#2a2a2a" stroke-width="0.18">3.6</text><text x="49.9" y="233.0" text-anchor="end" style="font-family:'Liberation Sans',Arial,sans-serif;font-weight:bold;font-size:5px" fill="#2a2a2a" stroke="#2a2a2a" stroke-width="0.18">4.05</text><text x="49.9" y="216.8" text-anchor="end" style="font-family:'Liberation Sans',Arial,sans-serif;font-weight:bold;font-size:5px" fill="#2a2a2a" stroke="#2a2a2a" stroke-width="0.18">4.5</text><text x="51.5" y="382.2" text-anchor="middle" style="font-family:'Liberation Sans',Arial,sans-serif;font-weight:bold;font-size:5px" fill="#2a2a2a" stroke="#2a2a2a" stroke-width="0.18">-512</text><text x="66.8" y="382.2" text-anchor="middle" style="font-family:'Liberation Sans',Arial,sans-serif;font-weight:bold;font-size:5px" fill="#2a2a2a" stroke="#2a2a2a" stroke-width="0.18">-147</text><text x="82.1" y="382.2" text-anchor="middle" style="font-family:'Liberation Sans',Arial,sans-serif;font-weight:bold;font-size:5px" fill="#2a2a2a" stroke="#2a2a2a" stroke-width="0.18">-42</text><text x="97.4" y="382.2" text-anchor="middle" style="font-family:'Liberation Sans',Arial,sans-serif;font-weight:bold;font-size:5px" fill="#2a2a2a" stroke="#2a2a2a" stroke-width="0.18">-12</text><text x="112.7" y="382.2" text-anchor="middle" style="font-family:'Liberation Sans',Arial,sans-serif;font-weight:bold;font-size:5px" fill="#2a2a2a" stroke="#2a2a2a" stroke-width="0.18">-3</text><text x="128.0" y="382.2" text-anchor="middle" style="font-family:'Liberation Sans',Arial,sans-serif;font-weight:bold;font-size:5px" fill="#2a2a2a" stroke="#2a2a2a" stroke-width="0.18">1</text><text x="143.3" y="382.2" text-anchor="middle" style="font-family:'Liberation Sans',Arial,sans-serif;font-weight:bold;font-size:5px" fill="#2a2a2a" stroke="#2a2a2a" stroke-width="0.18">3</text><text x="158.6" y="382.2" text-anchor="middle" style="font-family:'Liberation Sans',Arial,sans-serif;font-weight:bold;font-size:5px" fill="#2a2a2a" stroke="#2a2a2a" stroke-width="0.18">12</text><text x="173.9" y="382.2" text-anchor="middle" style="font-family:'Liberation Sans',Arial,sans-serif;font-weight:bold;font-size:5px" fill="#2a2a2a" stroke="#2a2a2a" stroke-width="0.18">42</text><text x="189.2" y="382.2" text-anchor="middle" style="font-family:'Liberation Sans',Arial,sans-serif;font-weight:bold;font-size:5px" fill="#2a2a2a" stroke="#2a2a2a" stroke-width="0.18">147</text><text x="204.5" y="382.2" text-anchor="middle" style="font-family:'Liberation Sans',Arial,sans-serif;font-weight:bold;font-size:5px" fill="#2a2a2a" stroke="#2a2a2a" stroke-width="0.18">512</text><text x="128.0" y="390.0" text-anchor="middle" style="font-family:'Liberation Sans',Arial,sans-serif;font-weight:bold;font-size:5px" fill="#2a2a2a" stroke="#2a2a2a" stroke-width="0.18">Fold Change</text><text transform="translate(38.2,284.2) rotate(-90)" text-anchor="middle" style="font-family:'Liberation Sans',Arial,sans-serif;font-weight:bold;font-size:5px" fill="#2a2a2a" stroke="#2a2a2a" stroke-width="0.18">P-val (log10)</text><rect x="206" y="215" width="8.4" height="37.8" fill="url(#cbC)"/><text x="216" y="217.2" style="font-family:'Liberation Sans',Arial,sans-serif;font-weight:bold;font-size:6px" fill="#1e1e1e" stroke="#1e1e1e" stroke-width="0.18">2.0</text><text x="214.6" y="253.4" style="font-family:'Liberation Sans',Arial,sans-serif;font-weight:bold;font-size:6px" fill="#1e1e1e" stroke="#1e1e1e" stroke-width="0.18">-2.0</text><path d="M291.7,214.6V377.6M307.2,214.6V377.6M322.6,214.6V377.6M338.0,214.6V377.6M353.5,214.6V377.6M368.9,214.6V377.6M384.3,214.6V377.6M399.7,214.6V377.6M415.2,214.6V377.6M276.3,230.9H430.6M276.3,247.2H430.6M276.3,263.5H430.6M276.3,279.8H430.6M276.3,296.1H430.6M276.3,312.4H430.6M276.3,328.7H430.6M276.3,345.0H430.6M276.3,361.3H430.6" stroke="#ebebeb" stroke-width="0.5" fill="none"/><rect x="276.3" y="214.6" width="154.3" height="163.0" fill="none" stroke="#d4d4d4" stroke-width="0.8"/><path d="M276.3,214.6V377.6H430.6" stroke="#bdbdbd" stroke-width="0.9" fill="none"/><path d="M343.5,377.6L342.8,350L342,320L342.2,305L343.2,297L350.3,297L352.8,345L356.9,297L363.6,297L364.4,305L364.8,330L363.6,377.6Z" fill="#cbcbcb" filter="url(#soft)"/><path d="M343.2,297.5L344.5,277L348.5,277L350.3,297.5Z" fill="url(#armG)" filter="url(#soft)"/><path d="M356.9,297.5L358.5,274L362.5,274L363.6,297.5Z" fill="url(#armG)" filter="url(#soft)"/><path d="M341.8,327.7h0.01M342.9,368.4h0.01M342.1,311.3h0.01M341.0,360.4h0.01M341.2,340.9h0.01M342.3,350.2h0.01M342.3,342.1h0.01M341.7,347.2h0.01M341.4,324.4h0.01M342.3,326.7h0.01M342.4,311.5h0.01M341.6,376.2h0.01M340.0,357.6h0.01M340.1,304.6h0.01M342.9,310.9h0.01M340.8,359.2h0.01M342.1,338.8h0.01M338.5,342.5h0.01M341.7,367.5h0.01M341.7,340.6h0.01M340.7,320.9h0.01M342.3,347.6h0.01M338.9,342.0h0.01M340.5,346.4h0.01M340.7,353.3h0.01M342.1,364.4h0.01M339.4,350.4h0.01M339.3,346.9h0.01M341.8,332.6h0.01M342.7,315.2h0.01M342.8,368.5h0.01M342.8,321.7h0.01M340.4,361.1h0.01M338.0,356.3h0.01M341.7,352.7h0.01M334.5,322.2h0.01M341.9,343.7h0.01M337.3,300.4h0.01M341.7,325.3h0.01M342.1,325.8h0.01M342.0,300.5h0.01M342.5,325.7h0.01M340.5,370.5h0.01M339.4,355.5h0.01M339.4,305.0h0.01M341.2,317.2h0.01M339.7,325.3h0.01M342.0,372.8h0.01M341.3,332.7h0.01M342.0,343.0h0.01M341.3,339.7h0.01M340.7,354.8h0.01M342.9,365.9h0.01M341.8,360.3h0.01M341.8,338.4h0.01M339.8,333.5h0.01M342.1,342.4h0.01M342.6,301.9h0.01M342.0,313.7h0.01M341.7,367.5h0.01M339.1,370.7h0.01M341.6,364.8h0.01M340.1,362.6h0.01M341.0,332.5h0.01M341.6,340.0h0.01M341.2,376.0h0.01M342.7,319.0h0.01M342.9,321.3h0.01M340.5,366.1h0.01M340.2,320.1h0.01M342.3,328.6h0.01M340.0,305.9h0.01M337.3,350.0h0.01M342.9,350.3h0.01M342.1,363.3h0.01M342.6,336.4h0.01M342.1,341.0h0.01M338.8,303.6h0.01M342.2,327.5h0.01M342.1,337.9h0.01M340.1,364.6h0.01M342.9,334.4h0.01M340.5,356.1h0.01M339.6,316.6h0.01M340.1,332.8h0.01M342.7,301.5h0.01M338.7,365.3h0.01M341.1,309.9h0.01M339.9,301.3h0.01M341.9,334.5h0.01M340.9,327.9h0.01M342.4,324.6h0.01M341.3,347.6h0.01M341.2,356.2h0.01M340.4,300.2h0.01M342.3,351.1h0.01M341.1,304.9h0.01M342.5,369.6h0.01M342.7,361.0h0.01M341.9,311.1h0.01M339.0,372.6h0.01M339.2,364.0h0.01M342.1,359.7h0.01M341.2,349.8h0.01M341.6,307.5h0.01M340.8,312.3h0.01M342.7,300.5h0.01M342.6,360.1h0.01M342.9,319.9h0.01M341.0,341.1h0.01M342.9,320.4h0.01M340.3,322.7h0.01M342.5,323.6h0.01M340.8,357.7h0.01M342.4,353.7h0.01M340.5,311.3h0.01M341.5,332.6h0.01M341.1,314.6h0.01M342.0,320.1h0.01M342.1,307.6h0.01M340.5,343.4h0.01M341.6,331.3h0.01M342.2,355.0h0.01M342.4,371.5h0.01M339.3,357.8h0.01M340.7,362.7h0.01M337.7,310.5h0.01M340.5,308.2h0.01M342.5,331.7h0.01M343.0,366.2h0.01M341.4,302.6h0.01M338.6,302.4h0.01M340.5,365.8h0.01M341.1,375.6h0.01M338.6,322.8h0.01M342.1,303.7h0.01M342.3,359.0h0.01M341.1,375.2h0.01M341.6,325.6h0.01M340.4,359.2h0.01M341.7,334.4h0.01M339.7,347.4h0.01M339.6,372.7h0.01M342.9,322.0h0.01M341.6,319.0h0.01M339.9,345.3h0.01M340.1,323.6h0.01M341.2,335.1h0.01M340.9,306.1h0.01M339.9,358.2h0.01M342.7,330.2h0.01M342.2,335.7h0.01M341.0,339.9h0.01M338.3,319.0h0.01M341.6,355.4h0.01M340.9,301.5h0.01M341.4,328.6h0.01M341.9,313.5h0.01M337.3,357.4h0.01M341.2,338.2h0.01M342.8,335.5h0.01M341.9,324.5h0.01M342.6,322.9h0.01M341.4,302.0h0.01M342.4,308.3h0.01M342.7,302.5h0.01M342.7,339.0h0.01M342.0,325.3h0.01M339.3,356.9h0.01M341.3,326.0h0.01M337.9,335.9h0.01M342.9,374.3h0.01M341.3,323.0h0.01M342.3,328.9h0.01M342.2,335.5h0.01M342.7,340.5h0.01M340.6,327.1h0.01M342.7,339.3h0.01M341.6,328.3h0.01M341.5,311.7h0.01M341.3,349.3h0.01M341.7,329.2h0.01M342.5,313.4h0.01M338.8,376.4h0.01M342.8,358.5h0.01M341.2,340.3h0.01M341.0,338.4h0.01M342.9,374.1h0.01M340.1,324.9h0.01M341.6,330.3h0.01M340.2,329.8h0.01M342.3,329.0h0.01M340.1,314.9h0.01M340.4,353.6h0.01M340.8,357.3h0.01M341.4,350.3h0.01M342.8,340.9h0.01M339.7,370.8h0.01M341.7,322.8h0.01M342.2,370.9h0.01M342.0,352.2h0.01M341.6,361.3h0.01M340.7,342.8h0.01M343.0,306.9h0.01M338.6,317.2h0.01M341.2,342.1h0.01M341.8,362.2h0.01M339.3,332.2h0.01M342.9,367.5h0.01M340.9,324.0h0.01M335.9,346.7h0.01M340.3,355.1h0.01M342.3,363.2h0.01M340.9,340.7h0.01M342.4,336.5h0.01M341.1,326.8h0.01M340.3,328.9h0.01M341.4,363.8h0.01M341.4,365.3h0.01M337.6,336.4h0.01M339.6,348.5h0.01M339.5,372.7h0.01M341.9,351.7h0.01M340.2,340.3h0.01M342.0,322.4h0.01M342.5,315.3h0.01M342.3,367.2h0.01M340.3,309.7h0.01M341.7,302.1h0.01M342.1,337.5h0.01M342.4,374.9h0.01M342.8,373.2h0.01M341.7,367.7h0.01M340.9,358.8h0.01M338.9,360.6h0.01M342.2,307.3h0.01M341.3,310.8h0.01M342.7,363.9h0.01M339.4,310.8h0.01M339.2,349.9h0.01M341.6,327.1h0.01M342.4,314.1h0.01M341.7,305.9h0.01M342.8,316.5h0.01M342.2,324.2h0.01M341.6,336.4h0.01M340.0,348.0h0.01M341.9,306.6h0.01M341.6,353.5h0.01M341.8,308.8h0.01M342.5,343.4h0.01M340.6,354.4h0.01M342.5,308.2h0.01M341.2,342.8h0.01M340.9,328.2h0.01M336.6,368.3h0.01M342.6,334.0h0.01M341.7,360.8h0.01M342.1,311.2h0.01M340.5,347.2h0.01M341.6,327.1h0.01M342.1,337.1h0.01M340.8,367.2h0.01M341.1,350.3h0.01M339.8,368.0h0.01M342.3,366.3h0.01M340.9,308.6h0.01M341.6,310.8h0.01M340.7,321.9h0.01M336.8,371.7h0.01M339.4,308.8h0.01M340.5,335.7h0.01M341.7,314.6h0.01M343.0,345.2h0.01M338.8,352.7h0.01M341.5,356.1h0.01M341.0,369.0h0.01M341.1,347.7h0.01M341.4,326.2h0.01M339.5,331.5h0.01M340.9,332.1h0.01M341.7,303.9h0.01M340.3,341.1h0.01M341.5,326.4h0.01M342.7,353.4h0.01M341.9,370.7h0.01M340.6,370.1h0.01M342.6,309.9h0.01M342.6,351.3h0.01M341.4,327.9h0.01M340.3,341.3h0.01M339.9,347.1h0.01M341.7,334.1h0.01M340.2,319.6h0.01M340.7,322.6h0.01M342.8,309.6h0.01M339.4,363.0h0.01M341.0,361.7h0.01M341.6,353.7h0.01M341.7,345.2h0.01M366.3,335.6h0.01M366.0,306.8h0.01M366.4,349.4h0.01M364.3,326.0h0.01M367.9,337.6h0.01M365.4,354.7h0.01M367.3,370.2h0.01M365.3,349.5h0.01M366.8,353.7h0.01M365.0,350.7h0.01M366.2,363.5h0.01M364.2,316.8h0.01M366.6,358.2h0.01M364.5,329.4h0.01M365.7,306.4h0.01M366.3,325.9h0.01M364.8,368.5h0.01M366.0,315.9h0.01M366.1,356.1h0.01M367.4,335.9h0.01M365.9,308.3h0.01M365.1,307.9h0.01M370.3,304.7h0.01M368.8,332.4h0.01M366.0,323.6h0.01M366.4,318.0h0.01M365.8,370.2h0.01M366.5,371.0h0.01M366.3,352.2h0.01M370.0,348.2h0.01M366.3,360.2h0.01M364.8,324.3h0.01M368.2,300.4h0.01M364.4,317.9h0.01M367.2,354.6h0.01M365.2,339.1h0.01M365.7,305.2h0.01M366.8,316.4h0.01M367.6,374.2h0.01M366.5,350.8h0.01M365.9,371.6h0.01M368.4,325.1h0.01M366.1,334.3h0.01M367.2,353.8h0.01M366.1,353.3h0.01M365.6,370.2h0.01M364.6,325.6h0.01M367.2,328.2h0.01M365.5,343.4h0.01M365.8,333.3h0.01M364.6,311.2h0.01M366.4,363.5h0.01M367.7,348.9h0.01M367.1,300.7h0.01M365.4,375.4h0.01M364.6,303.0h0.01M366.8,341.0h0.01M366.7,373.4h0.01M364.3,305.1h0.01M365.7,344.2h0.01M365.6,326.5h0.01M365.8,330.1h0.01M366.4,319.9h0.01M365.1,359.7h0.01M365.1,350.7h0.01M364.5,371.1h0.01M365.5,375.0h0.01M366.9,316.4h0.01M367.3,342.3h0.01M364.6,311.3h0.01M366.2,361.9h0.01M364.7,327.7h0.01M366.9,377.1h0.01M365.4,367.1h0.01M364.6,334.5h0.01M366.0,357.5h0.01M366.2,304.7h0.01M364.4,306.2h0.01M367.2,346.9h0.01M365.8,302.9h0.01M365.6,359.3h0.01M365.3,375.6h0.01M365.7,366.8h0.01M365.0,376.5h0.01M364.4,348.7h0.01M365.9,356.0h0.01M365.4,354.4h0.01M364.2,352.4h0.01M365.8,325.2h0.01M367.2,364.8h0.01M364.9,351.1h0.01M367.8,308.6h0.01M366.1,342.4h0.01M365.3,348.1h0.01M367.0,350.1h0.01M366.7,359.5h0.01M366.5,351.2h0.01M366.9,351.8h0.01M366.9,321.8h0.01M364.5,317.4h0.01M365.8,319.0h0.01M365.2,304.1h0.01M366.8,335.8h0.01M365.3,327.5h0.01M366.9,362.7h0.01M366.7,314.8h0.01M364.8,329.9h0.01M365.5,357.2h0.01M366.1,303.0h0.01M364.6,327.7h0.01M365.0,318.8h0.01M365.4,371.5h0.01M367.4,372.6h0.01M365.1,365.7h0.01M364.4,350.2h0.01M365.9,373.4h0.01M365.5,323.0h0.01M367.3,331.8h0.01M364.7,310.8h0.01M365.4,322.0h0.01M365.3,368.7h0.01M366.2,313.4h0.01M365.4,326.8h0.01M365.2,339.2h0.01M364.6,367.6h0.01M366.1,376.8h0.01M366.9,332.4h0.01M364.8,328.7h0.01M364.2,346.1h0.01M365.4,374.2h0.01M366.0,362.5h0.01M369.1,357.4h0.01M364.8,335.3h0.01M366.3,330.3h0.01M364.2,322.3h0.01M364.5,324.7h0.01M365.7,305.5h0.01M365.8,300.9h0.01M365.2,369.2h0.01M365.3,376.7h0.01M365.8,344.6h0.01M364.2,373.1h0.01M366.2,376.3h0.01M369.8,358.0h0.01M365.6,320.0h0.01M364.3,345.4h0.01M366.4,325.8h0.01M366.3,359.3h0.01M367.2,360.4h0.01M365.2,302.3h0.01M367.8,367.8h0.01M364.7,307.1h0.01M368.9,325.7h0.01M365.9,371.0h0.01M367.4,337.9h0.01M364.8,308.7h0.01M365.7,324.2h0.01M367.1,310.6h0.01M365.7,360.0h0.01M366.6,335.3h0.01M365.1,356.7h0.01M366.6,362.0h0.01M367.1,376.7h0.01M366.0,317.8h0.01M364.7,374.2h0.01M367.9,369.4h0.01M364.6,346.4h0.01M365.9,338.4h0.01M366.9,323.8h0.01M366.7,364.0h0.01M365.2,333.7h0.01M365.3,332.2h0.01M366.5,355.3h0.01M366.3,330.0h0.01M368.1,303.2h0.01M365.4,357.3h0.01M366.8,314.2h0.01M364.9,339.7h0.01M367.0,357.6h0.01M365.6,362.2h0.01M367.4,308.4h0.01M365.5,314.3h0.01M364.4,339.1h0.01M365.1,344.7h0.01M366.4,306.7h0.01M365.7,358.3h0.01M364.5,333.1h0.01M365.0,338.9h0.01M368.2,366.8h0.01M364.4,319.3h0.01M364.6,356.7h0.01M367.2,362.4h0.01M365.7,339.0h0.01M365.2,327.1h0.01M366.6,300.0h0.01M364.4,328.2h0.01M364.8,316.4h0.01M364.8,301.7h0.01M366.2,363.2h0.01M368.3,367.3h0.01M364.2,355.6h0.01M366.8,319.2h0.01M365.0,363.9h0.01M364.7,371.8h0.01M370.0,341.6h0.01M366.4,361.5h0.01M364.3,356.1h0.01M364.3,337.6h0.01M367.0,345.6h0.01M364.8,357.0h0.01M364.4,344.2h0.01M366.8,346.7h0.01M366.4,342.9h0.01M364.4,357.3h0.01M368.9,370.8h0.01M367.3,359.7h0.01M366.2,342.5h0.01M369.6,338.0h0.01M364.3,354.0h0.01M365.3,351.7h0.01M365.8,309.4h0.01M365.4,368.6h0.01M365.9,357.7h0.01M367.1,358.3h0.01M370.3,346.1h0.01M364.7,375.1h0.01M364.3,327.4h0.01M365.9,360.1h0.01M367.0,364.7h0.01M364.7,320.6h0.01M366.5,329.2h0.01M364.3,307.7h0.01M366.2,327.2h0.01M364.5,325.3h0.01M367.6,352.3h0.01M364.3,363.5h0.01M365.2,327.7h0.01M370.3,346.6h0.01M364.7,348.4h0.01M365.1,337.7h0.01M364.3,350.7h0.01M365.7,318.9h0.01M368.6,338.5h0.01M367.9,344.1h0.01M365.8,373.1h0.01M367.6,321.9h0.01M365.2,336.8h0.01M364.3,318.4h0.01M366.7,364.3h0.01M364.2,301.8h0.01M366.2,310.7h0.01M364.3,372.1h0.01M365.0,304.5h0.01M366.4,375.1h0.01M367.3,375.6h0.01M368.0,350.0h0.01M364.9,366.4h0.01M365.9,344.5h0.01M366.8,349.6h0.01M365.1,359.2h0.01M365.6,332.1h0.01M365.8,344.8h0.01M365.5,317.7h0.01M366.8,327.7h0.01M367.9,348.6h0.01M367.6,318.8h0.01M364.9,361.6h0.01M364.8,367.1h0.01M365.6,375.9h0.01M364.5,309.4h0.01M364.5,332.1h0.01M365.1,332.0h0.01M364.7,375.9h0.01M366.9,333.3h0.01M367.8,344.9h0.01M366.1,366.8h0.01M366.4,341.5h0.01M365.4,356.4h0.01M365.4,358.0h0.01M364.7,318.5h0.01M365.0,335.6h0.01M368.2,309.0h0.01M366.9,330.5h0.01M365.3,364.5h0.01M364.5,303.4h0.01M364.2,326.3h0.01M365.5,357.6h0.01M366.9,349.7h0.01M365.0,348.7h0.01M367.6,319.1h0.01M366.9,327.4h0.01M367.1,364.7h0.01M372.3,357.1h0.01M364.3,349.5h0.01M364.3,306.1h0.01M365.2,357.7h0.01M365.7,331.9h0.01M365.8,313.1h0.01M368.1,323.4h0.01M368.7,352.0h0.01M328.2,347.4h0.01M330.6,345.6h0.01M335.2,347.4h0.01M340.2,360.8h0.01M337.0,348.1h0.01M334.4,344.9h0.01M331.3,353.2h0.01M339.9,349.5h0.01M339.7,349.5h0.01M327.0,372.5h0.01M339.3,346.4h0.01M341.6,354.9h0.01M339.8,368.3h0.01M341.3,356.6h0.01M334.1,368.8h0.01M333.0,351.8h0.01M335.7,349.6h0.01M337.6,363.4h0.01M341.6,344.8h0.01M334.4,349.9h0.01M339.2,346.3h0.01M341.6,352.0h0.01M333.9,368.4h0.01M337.0,370.5h0.01M339.5,370.6h0.01M341.3,359.6h0.01M335.5,358.9h0.01M339.9,346.5h0.01M337.1,351.3h0.01M330.3,354.3h0.01M337.5,349.6h0.01M333.9,357.7h0.01M333.9,346.4h0.01M332.5,363.6h0.01M340.4,365.4h0.01M341.6,343.5h0.01M333.0,359.5h0.01M326.8,345.7h0.01M337.4,362.7h0.01M341.7,344.3h0.01M332.9,350.6h0.01M339.1,367.2h0.01M335.2,359.4h0.01M336.1,368.2h0.01M332.2,377.1h0.01M331.3,345.1h0.01M341.0,358.4h0.01M338.8,349.3h0.01M338.1,351.4h0.01M338.6,344.8h0.01M333.5,348.5h0.01M339.7,347.4h0.01M340.7,347.0h0.01M341.6,343.7h0.01M336.1,348.6h0.01M341.0,366.5h0.01M337.7,359.0h0.01M335.9,359.3h0.01M335.4,356.9h0.01M337.1,364.4h0.01M327.9,373.4h0.01M334.0,363.1h0.01M333.1,346.3h0.01M328.4,348.3h0.01M336.3,364.5h0.01M338.2,363.0h0.01M340.8,346.0h0.01M338.2,373.1h0.01M336.9,361.8h0.01M338.3,349.8h0.01M332.8,362.3h0.01M330.7,359.0h0.01M339.0,353.1h0.01M338.6,346.4h0.01M340.4,348.3h0.01M337.1,351.0h0.01M336.8,346.0h0.01M335.6,348.7h0.01M334.4,358.6h0.01M337.7,342.9h0.01M340.9,364.0h0.01M337.8,345.6h0.01M341.8,361.7h0.01M339.7,348.6h0.01M325.2,357.9h0.01M338.9,361.0h0.01M334.1,371.1h0.01M334.3,370.5h0.01M332.2,360.5h0.01M341.5,352.4h0.01M371.6,358.4h0.01M367.7,368.3h0.01M367.4,357.2h0.01M379.4,354.8h0.01M366.0,372.8h0.01M368.3,363.9h0.01M368.2,358.4h0.01M366.3,342.5h0.01M377.6,354.1h0.01M367.7,365.0h0.01M366.0,376.3h0.01M370.3,352.1h0.01M367.6,361.9h0.01M366.4,343.4h0.01M371.2,351.0h0.01M371.4,375.8h0.01M374.6,369.8h0.01M367.7,356.9h0.01M370.3,372.6h0.01M372.2,358.7h0.01M365.3,348.4h0.01M375.9,355.6h0.01M365.0,370.0h0.01M374.5,366.1h0.01M372.0,359.7h0.01M367.2,362.9h0.01M365.1,365.4h0.01M367.5,343.5h0.01M368.9,364.8h0.01M365.8,348.4h0.01M373.8,357.5h0.01M374.8,353.7h0.01M367.3,365.5h0.01M369.5,352.1h0.01M368.2,358.9h0.01M372.4,353.1h0.01M369.5,357.2h0.01M374.0,345.8h0.01M375.0,359.4h0.01M371.5,359.7h0.01M368.1,344.4h0.01M365.3,344.4h0.01M369.3,358.9h0.01M371.2,369.0h0.01M368.7,372.6h0.01M367.5,366.4h0.01M371.1,356.9h0.01M366.2,344.5h0.01M366.8,369.8h0.01M365.1,357.7h0.01M367.7,355.3h0.01M367.8,354.7h0.01M368.3,352.1h0.01M365.8,346.6h0.01M371.4,346.1h0.01M366.7,363.8h0.01M367.2,357.9h0.01M365.8,357.1h0.01M368.6,347.3h0.01M371.4,353.7h0.01M368.7,361.5h0.01M367.4,369.5h0.01M365.6,354.7h0.01M369.1,359.2h0.01M371.6,359.8h0.01M365.7,366.6h0.01M375.8,345.8h0.01M372.2,358.3h0.01M367.7,345.8h0.01M370.8,365.9h0.01M368.1,372.5h0.01M371.9,342.5h0.01M374.3,358.2h0.01M374.0,376.2h0.01M368.6,368.9h0.01M369.0,345.4h0.01M380.1,362.8h0.01M369.9,358.3h0.01M370.0,355.5h0.01M372.4,355.3h0.01M365.4,351.6h0.01M373.3,346.0h0.01M366.7,371.5h0.01M367.7,364.0h0.01M366.8,354.4h0.01M374.1,374.2h0.01M368.6,352.3h0.01M375.8,360.4h0.01M372.6,348.1h0.01M373.4,345.7h0.01M376.6,361.3h0.01M383.2,363.3h0.01M321.3,365.7h0.01M366.4,349.8h0.01M339.5,368.3h0.01M333.6,358.6h0.01M355.9,346.1h0.01M342.4,354.0h0.01M348.3,355.9h0.01M345.1,347.5h0.01M325.0,357.8h0.01M356.3,352.5h0.01M343.1,362.2h0.01M382.6,353.5h0.01M327.9,356.5h0.01M359.2,371.1h0.01M335.7,347.2h0.01M352.0,359.4h0.01M336.4,353.2h0.01M369.6,352.7h0.01M385.3,358.6h0.01M364.6,364.9h0.01M354.6,353.1h0.01M355.6,350.3h0.01M349.1,350.3h0.01M358.1,361.0h0.01M322.1,347.6h0.01M352.1,354.0h0.01M344.9,348.5h0.01M338.3,352.3h0.01M350.0,273.6h0.01M347.0,286.5h0.01M344.0,282.2h0.01M347.9,292.5h0.01M349.6,277.3h0.01M345.3,278.0h0.01M344.9,276.0h0.01M343.3,275.8h0.01M349.9,277.4h0.01M348.6,287.4h0.01M346.2,272.6h0.01M347.0,287.6h0.01M347.4,284.4h0.01M343.3,292.7h0.01M349.4,279.6h0.01M346.4,279.6h0.01M344.9,283.9h0.01M345.4,282.2h0.01M348.8,285.0h0.01M345.6,289.0h0.01M348.9,276.8h0.01M348.9,280.9h0.01M346.3,285.5h0.01M344.1,277.7h0.01M349.8,282.3h0.01M345.7,291.7h0.01M346.4,275.4h0.01M348.6,276.3h0.01M350.0,279.7h0.01M346.1,288.9h0.01M345.8,273.1h0.01M349.2,281.9h0.01M347.7,277.4h0.01M349.8,285.8h0.01M347.3,290.4h0.01M350.0,280.9h0.01M345.3,283.8h0.01M348.7,273.0h0.01M350.4,290.8h0.01M347.1,290.6h0.01M343.7,278.9h0.01M350.0,282.6h0.01M349.8,287.7h0.01M349.1,273.1h0.01M348.2,275.7h0.01M346.2,279.7h0.01M348.5,277.8h0.01M343.9,288.7h0.01M343.4,289.1h0.01M348.7,291.7h0.01M350.2,277.0h0.01M345.9,277.5h0.01M349.1,291.6h0.01M349.8,273.4h0.01M350.2,284.8h0.01M348.0,290.0h0.01M346.2,282.7h0.01M346.9,284.0h0.01M344.7,276.0h0.01M345.7,278.3h0.01M348.3,277.1h0.01M350.0,283.2h0.01M347.9,278.8h0.01M350.2,279.6h0.01M343.5,277.9h0.01M344.6,294.1h0.01M345.8,272.9h0.01M345.5,280.5h0.01M348.2,272.4h0.01M350.2,278.5h0.01M357.6,285.2h0.01M358.3,271.5h0.01M356.6,278.6h0.01M362.6,280.3h0.01M361.9,276.7h0.01M363.6,277.2h0.01M363.0,274.9h0.01M357.6,270.2h0.01M363.4,282.2h0.01M361.0,270.4h0.01M362.1,277.0h0.01M358.1,271.7h0.01M359.7,272.6h0.01M357.8,274.5h0.01M362.8,270.3h0.01M363.2,281.8h0.01M361.5,286.9h0.01M360.3,280.7h0.01M359.2,280.7h0.01M359.6,270.2h0.01M358.3,286.2h0.01M359.9,280.8h0.01M359.5,277.3h0.01M363.6,271.0h0.01M357.9,276.2h0.01M362.5,270.0h0.01M357.8,273.4h0.01M360.3,271.8h0.01M357.6,272.8h0.01M360.4,285.0h0.01M363.8,292.6h0.01M356.5,275.7h0.01M358.5,273.5h0.01M359.1,286.5h0.01M361.3,274.2h0.01M361.3,282.0h0.01M357.4,294.6h0.01M363.7,274.2h0.01M359.4,279.8h0.01M360.5,283.3h0.01M361.7,292.5h0.01M362.6,275.9h0.01M361.0,276.7h0.01M359.8,274.8h0.01M360.7,274.8h0.01M357.3,272.8h0.01M362.8,281.5h0.01M363.1,289.1h0.01M359.7,271.0h0.01M362.0,280.0h0.01M358.9,272.1h0.01M358.7,277.8h0.01M361.1,291.4h0.01M358.0,276.1h0.01M358.2,270.1h0.01M363.2,270.4h0.01M357.6,276.3h0.01M358.0,278.3h0.01M359.8,291.8h0.01M363.5,279.7h0.01M359.7,291.7h0.01M358.7,284.5h0.01M359.1,275.7h0.01M358.2,272.6h0.01M361.1,293.1h0.01M362.3,279.1h0.01M361.4,285.7h0.01M361.2,270.9h0.01M362.3,270.3h0.01M363.0,276.8h0.01M362.8,230.7h0.01M344.5,236.5h0.01M356.3,255.2h0.01M345.3,251.3h0.01M354.0,252.2h0.01M342.4,235.8h0.01M356.8,265.7h0.01M355.8,250.5h0.01M362.0,256.4h0.01M361.7,241.0h0.01M343.7,248.0h0.01M361.3,234.3h0.01M361.1,230.7h0.01M346.1,231.2h0.01M361.5,247.7h0.01M342.7,230.6h0.01M345.9,253.5h0.01M361.3,249.2h0.01M343.6,230.4h0.01M357.9,239.4h0.01M336.0,238.0h0.01M360.0,240.0h0.01M372.0,236.0h0.01M330.0,300.0h0.01M322.0,365.0h0.01M390.0,360.0h0.01" stroke="#c6c6c6" stroke-width="0.85" stroke-linecap="round" fill="none"/><path d="M340.0,318.9h0.01M334.2,302.9h0.01M340.3,319.6h0.01M338.0,318.6h0.01M335.3,327.6h0.01M335.0,312.4h0.01M336.9,333.9h0.01M334.8,317.5h0.01M335.8,324.5h0.01M338.6,307.6h0.01M334.2,326.7h0.01M335.2,308.5h0.01M336.8,306.2h0.01M336.5,297.3h0.01M334.5,310.6h0.01M337.9,304.4h0.01M335.9,325.1h0.01M336.6,326.7h0.01M338.7,308.0h0.01M338.5,338.2h0.01M335.5,336.5h0.01M334.5,314.5h0.01M339.0,299.7h0.01M340.6,341.9h0.01M334.7,303.2h0.01M335.3,328.1h0.01M341.6,305.4h0.01M339.5,326.7h0.01M339.4,309.2h0.01M339.0,326.6h0.01M338.1,316.4h0.01M334.7,308.1h0.01M340.4,310.5h0.01M336.1,341.2h0.01M337.4,328.4h0.01M338.4,305.2h0.01M334.9,320.8h0.01M340.4,297.2h0.01M336.5,335.2h0.01M334.8,334.7h0.01M339.3,339.0h0.01M335.3,319.4h0.01M335.3,308.7h0.01M337.5,341.2h0.01M336.9,319.3h0.01M334.7,307.5h0.01M338.3,305.2h0.01M335.2,310.9h0.01M336.5,311.5h0.01M334.3,340.5h0.01M339.6,312.7h0.01M341.3,302.7h0.01M341.2,328.9h0.01M334.1,339.4h0.01M334.2,317.5h0.01M337.4,302.9h0.01M334.4,334.4h0.01M336.2,329.5h0.01M334.6,336.7h0.01M334.1,331.5h0.01M334.4,303.9h0.01M338.5,303.4h0.01M334.7,316.1h0.01M335.3,309.3h0.01M336.6,298.6h0.01M335.0,325.6h0.01M336.0,320.9h0.01M334.7,340.5h0.01M339.0,312.9h0.01M335.1,298.2h0.01M334.2,332.3h0.01M336.9,317.4h0.01M336.5,321.6h0.01M334.9,326.9h0.01M340.0,313.0h0.01M334.6,340.9h0.01M336.4,307.4h0.01M336.9,297.5h0.01M334.4,297.1h0.01M340.4,296.4h0.01M335.0,299.7h0.01M334.9,337.4h0.01M335.4,298.2h0.01M335.1,310.2h0.01M339.1,324.9h0.01M337.0,315.1h0.01M340.0,305.6h0.01M336.1,317.9h0.01M334.3,329.5h0.01M336.5,331.4h0.01M334.3,310.6h0.01M337.1,312.7h0.01M334.4,319.1h0.01M337.9,308.9h0.01M335.4,334.2h0.01M339.6,298.8h0.01M334.7,332.1h0.01M334.8,335.6h0.01M337.6,328.0h0.01M335.2,318.0h0.01M335.6,306.2h0.01M336.0,296.3h0.01M339.4,321.6h0.01M334.7,335.0h0.01M338.6,334.1h0.01M335.8,335.8h0.01M341.0,309.5h0.01M337.9,339.3h0.01M338.2,337.6h0.01M341.6,296.1h0.01M338.8,270.2h0.01M336.8,292.8h0.01M339.7,283.0h0.01M340.0,275.9h0.01M336.3,277.8h0.01M339.2,295.2h0.01M338.1,277.6h0.01M337.8,292.4h0.01M340.6,278.9h0.01M338.2,281.4h0.01M338.7,287.0h0.01M338.3,288.0h0.01M336.1,270.3h0.01M336.9,287.9h0.01M338.5,284.2h0.01M342.2,290.3h0.01M340.2,295.5h0.01M337.9,278.3h0.01M338.5,227.0h0.01M334.2,243.4h0.01M340.0,256.0h0.01M337.0,283.0h0.01M329.0,300.0h0.01M327.0,318.0h0.01M331.0,330.0h0.01M325.0,337.0h0.01M333.0,289.0h0.01M336.0,268.0h0.01" stroke="#46a64a" stroke-width="0.85" stroke-linecap="round" fill="none"/><path d="M366.1,317.5h0.01M373.0,331.3h0.01M369.8,334.9h0.01M371.1,320.5h0.01M368.9,294.2h0.01M364.1,338.4h0.01M374.1,326.5h0.01M377.7,306.0h0.01M379.9,302.5h0.01M364.2,333.8h0.01M376.1,307.5h0.01M368.5,333.4h0.01M364.3,293.7h0.01M378.3,307.5h0.01M364.8,305.0h0.01M365.0,338.5h0.01M377.5,293.1h0.01M377.8,295.2h0.01M377.1,325.5h0.01M365.6,336.1h0.01M373.5,338.4h0.01M368.3,331.3h0.01M377.6,335.9h0.01M372.8,335.1h0.01M364.7,316.5h0.01M364.9,317.7h0.01M364.7,327.8h0.01M370.0,296.1h0.01M372.7,323.7h0.01M375.9,336.9h0.01M366.2,316.7h0.01M369.9,292.0h0.01M366.5,319.1h0.01M376.1,328.7h0.01M378.2,324.5h0.01M372.4,334.1h0.01M377.2,324.6h0.01M365.6,321.6h0.01M364.1,316.6h0.01M371.7,298.8h0.01M364.8,321.6h0.01M372.1,341.6h0.01M373.3,331.2h0.01M379.2,323.7h0.01M372.5,336.5h0.01M377.5,322.0h0.01M368.3,294.2h0.01M378.2,327.1h0.01M371.9,308.7h0.01M364.9,329.3h0.01M370.3,305.2h0.01M365.4,321.4h0.01M373.1,294.1h0.01M364.1,333.1h0.01M364.9,309.3h0.01M367.8,320.0h0.01M375.4,317.1h0.01M364.4,337.2h0.01M364.7,310.5h0.01M379.7,332.9h0.01M364.2,317.2h0.01M367.2,293.1h0.01M369.1,308.4h0.01M365.0,292.3h0.01M379.1,330.6h0.01M375.8,317.7h0.01M367.5,318.6h0.01M378.6,334.9h0.01M378.2,302.1h0.01M372.5,316.9h0.01M377.3,318.0h0.01M365.0,324.4h0.01M371.6,314.2h0.01M378.4,298.1h0.01M372.9,327.2h0.01M376.3,335.5h0.01M368.3,298.5h0.01M369.4,294.6h0.01M364.6,327.0h0.01M367.3,299.7h0.01M364.1,341.4h0.01M365.3,339.2h0.01M367.1,295.8h0.01M364.0,323.7h0.01M364.5,303.6h0.01M369.7,327.8h0.01M376.8,337.1h0.01M364.3,333.4h0.01M365.1,299.7h0.01M364.4,322.8h0.01M376.2,328.9h0.01M368.5,295.0h0.01M373.8,326.4h0.01M369.1,293.2h0.01M366.3,308.8h0.01M366.7,308.2h0.01M375.7,333.7h0.01M369.1,316.2h0.01M366.4,318.3h0.01M365.2,340.9h0.01M366.1,312.1h0.01M376.3,332.0h0.01M365.1,326.4h0.01M366.9,308.4h0.01M370.5,326.6h0.01M364.3,319.6h0.01M377.0,310.2h0.01M371.5,329.3h0.01M376.1,318.7h0.01M379.5,308.6h0.01M369.3,308.2h0.01M370.8,330.0h0.01M364.0,341.9h0.01M375.5,324.6h0.01M364.7,311.6h0.01M366.1,310.6h0.01M366.4,293.5h0.01M364.4,293.9h0.01M370.1,300.9h0.01M375.9,332.9h0.01M364.1,331.0h0.01M365.9,303.6h0.01M367.4,292.5h0.01M364.0,333.9h0.01M365.4,307.7h0.01M364.9,330.8h0.01M364.9,305.0h0.01M368.4,311.9h0.01M372.9,337.6h0.01M369.4,299.3h0.01M376.6,318.5h0.01M367.3,341.6h0.01M368.2,298.0h0.01M372.7,298.0h0.01M371.7,337.9h0.01M367.4,332.4h0.01M378.6,311.1h0.01M364.4,320.6h0.01M376.6,333.3h0.01M364.9,307.8h0.01M369.8,339.2h0.01M365.5,340.7h0.01M379.1,316.2h0.01M373.4,319.0h0.01M370.1,315.1h0.01M371.2,322.2h0.01M376.1,324.0h0.01M372.5,302.6h0.01M375.0,326.6h0.01M364.7,298.7h0.01M368.1,286.2h0.01M368.4,262.0h0.01M375.6,286.2h0.01M364.8,288.4h0.01M366.8,267.1h0.01M373.0,261.8h0.01M368.8,275.1h0.01M376.4,274.7h0.01M370.7,292.2h0.01M373.4,256.3h0.01M367.2,291.9h0.01M373.4,278.2h0.01M365.5,261.5h0.01M372.0,270.0h0.01M364.9,287.1h0.01M373.9,281.7h0.01M376.8,252.1h0.01M365.3,282.5h0.01M371.1,291.1h0.01M368.0,280.1h0.01M366.6,285.3h0.01M367.0,252.9h0.01M369.5,282.0h0.01M365.1,258.3h0.01M369.4,270.4h0.01M373.1,254.8h0.01M369.5,264.3h0.01M367.6,258.0h0.01M366.2,264.7h0.01M376.9,262.0h0.01M375.4,264.3h0.01M372.4,277.5h0.01M370.4,252.1h0.01M371.2,279.6h0.01M368.1,276.7h0.01M374.7,271.9h0.01M364.7,285.9h0.01M369.5,279.3h0.01M374.5,262.1h0.01M372.7,285.0h0.01M369.9,284.7h0.01M369.4,285.1h0.01M376.8,267.3h0.01M368.0,264.5h0.01M373.1,278.2h0.01M368.6,288.9h0.01M370.9,289.5h0.01M364.5,285.4h0.01M377.0,263.4h0.01M372.1,284.3h0.01M376.5,259.3h0.01M367.1,252.2h0.01M365.5,279.4h0.01M365.9,285.1h0.01M369.4,277.2h0.01M368.3,275.8h0.01M372.7,269.6h0.01M371.8,271.4h0.01M367.9,280.2h0.01M367.1,256.9h0.01M368.8,261.0h0.01M367.9,260.4h0.01M371.6,255.9h0.01M365.0,281.1h0.01M370.1,282.5h0.01M371.8,280.1h0.01M365.0,282.9h0.01M371.4,264.9h0.01M364.6,293.7h0.01M365.6,252.1h0.01M369.5,229.0h0.01M372.0,247.0h0.01M377.0,255.0h0.01M381.0,262.0h0.01M387.0,278.0h0.01M392.0,283.0h0.01M395.0,300.0h0.01M398.0,310.0h0.01M402.0,318.0h0.01M393.0,322.0h0.01M386.0,333.0h0.01M390.0,338.0h0.01M382.0,310.0h0.01M388.0,292.0h0.01M396.0,330.0h0.01M374.0,268.0h0.01M377.0,274.0h0.01" stroke="#e24646" stroke-width="0.85" stroke-linecap="round" fill="none"/><text x="320.5" y="257.0" style="font-family:'Liberation Sans',Arial,sans-serif;font-weight:bold;font-size:6px" fill="#2a2a2a" stroke="#2a2a2a" stroke-width="0.22">HNF1A</text><text x="374.2" y="252.7" style="font-family:'Liberation Sans',Arial,sans-serif;font-weight:bold;font-size:6px" fill="#2a2a2a" stroke="#2a2a2a" stroke-width="0.22">CITED2</text><text x="378" y="262.6" style="font-family:'Liberation Sans',Arial,sans-serif;font-weight:bold;font-size:6px" fill="#2a2a2a" stroke="#2a2a2a" stroke-width="0.22">PRR15L</text><text x="378" y="271.5" style="font-family:'Liberation Sans',Arial,sans-serif;font-weight:bold;font-size:6px" fill="#2a2a2a" stroke="#2a2a2a" stroke-width="0.22">HLA-DPA1</text><text x="312.5" y="284.6" style="font-family:'Liberation Sans',Arial,sans-serif;font-weight:bold;font-size:6px" fill="#2a2a2a" stroke="#2a2a2a" stroke-width="0.22">MIR4263</text><text x="303.9" y="291.0" style="font-family:'Liberation Sans',Arial,sans-serif;font-weight:bold;font-size:6px" fill="#2a2a2a" stroke="#2a2a2a" stroke-width="0.22">RNU105B</text><text x="382" y="294.9" style="font-family:'Liberation Sans',Arial,sans-serif;font-weight:bold;font-size:6px" fill="#2a2a2a" stroke="#2a2a2a" stroke-width="0.22">MUC4</text><text x="367" y="306.9" style="font-family:'Liberation Sans',Arial,sans-serif;font-weight:bold;font-size:6px" fill="#2a2a2a" stroke="#2a2a2a" stroke-width="0.22">KLF9</text><text x="312.5" y="322.9" style="font-family:'Liberation Sans',Arial,sans-serif;font-weight:bold;font-size:6px" fill="#2a2a2a" stroke="#2a2a2a" stroke-width="0.22">PIK3C2G</text><text x="369.5" y="323.2" style="font-family:'Liberation Sans',Arial,sans-serif;font-weight:bold;font-size:6px" fill="#2a2a2a" stroke="#2a2a2a" stroke-width="0.22">GPX3</text><text x="300" y="330.9" style="font-family:'Liberation Sans',Arial,sans-serif;font-weight:bold;font-size:6px" fill="#2a2a2a" stroke="#2a2a2a" stroke-width="0.22">TFF3</text><text x="322.7" y="333.0" style="font-family:'Liberation Sans',Arial,sans-serif;font-weight:bold;font-size:6px" fill="#2a2a2a" stroke="#2a2a2a" stroke-width="0.22">CD44</text><text x="367" y="336.9" style="font-family:'Liberation Sans',Arial,sans-serif;font-weight:bold;font-size:6px" fill="#2a2a2a" stroke="#2a2a2a" stroke-width="0.22">NAMPT</text><text x="277.2" y="339.8" style="font-family:'Liberation Sans',Arial,sans-serif;font-weight:bold;font-size:6px" fill="#2a2a2a" stroke="#2a2a2a" stroke-width="0.22">TCN1</text><text x="279.3" y="220.1" style="font-family:'Liberation Sans',Arial,sans-serif;font-weight:bold;font-size:6px" fill="#383838" stroke="#383838" stroke-width="0.2">Ampulla</text><text x="279.3" y="226.9" style="font-family:'Liberation Sans',Arial,sans-serif;font-weight:bold;font-size:6px" fill="#383838" stroke="#383838" stroke-width="0.2">Luteal vs Follicular</text><text x="274.7" y="379.4" text-anchor="end" style="font-family:'Liberation Sans',Arial,sans-serif;font-weight:bold;font-size:5px" fill="#2a2a2a" stroke="#2a2a2a" stroke-width="0.18">0</text><text x="274.7" y="363.1" text-anchor="end" style="font-family:'Liberation Sans',Arial,sans-serif;font-weight:bold;font-size:5px" fill="#2a2a2a" stroke="#2a2a2a" stroke-width="0.18">0.6</text><text x="274.7" y="346.8" text-anchor="end" style="font-family:'Liberation Sans',Arial,sans-serif;font-weight:bold;font-size:5px" fill="#2a2a2a" stroke="#2a2a2a" stroke-width="0.18">1.2</text><text x="274.7" y="330.5" text-anchor="end" style="font-family:'Liberation Sans',Arial,sans-serif;font-weight:bold;font-size:5px" fill="#2a2a2a" stroke="#2a2a2a" stroke-width="0.18">1.8</text><text x="274.7" y="314.2" text-anchor="end" style="font-family:'Liberation Sans',Arial,sans-serif;font-weight:bold;font-size:5px" fill="#2a2a2a" stroke="#2a2a2a" stroke-width="0.18">2.4</text><text x="274.7" y="297.9" text-anchor="end" style="font-family:'Liberation Sans',Arial,sans-serif;font-weight:bold;font-size:5px" fill="#2a2a2a" stroke="#2a2a2a" stroke-width="0.18">3</text><text x="274.7" y="281.6" text-anchor="end" style="font-family:'Liberation Sans',Arial,sans-serif;font-weight:bold;font-size:5px" fill="#2a2a2a" stroke="#2a2a2a" stroke-width="0.18">3.6</text><text x="274.7" y="265.3" text-anchor="end" style="font-family:'Liberation Sans',Arial,sans-serif;font-weight:bold;font-size:5px" fill="#2a2a2a" stroke="#2a2a2a" stroke-width="0.18">4.2</text><text x="274.7" y="249.0" text-anchor="end" style="font-family:'Liberation Sans',Arial,sans-serif;font-weight:bold;font-size:5px" fill="#2a2a2a" stroke="#2a2a2a" stroke-width="0.18">4.8</text><text x="274.7" y="232.7" text-anchor="end" style="font-family:'Liberation Sans',Arial,sans-serif;font-weight:bold;font-size:5px" fill="#2a2a2a" stroke="#2a2a2a" stroke-width="0.18">5.4</text><text x="274.7" y="216.4" text-anchor="end" style="font-family:'Liberation Sans',Arial,sans-serif;font-weight:bold;font-size:5px" fill="#2a2a2a" stroke="#2a2a2a" stroke-width="0.18">6</text><text x="276.3" y="383.9" text-anchor="middle" style="font-family:'Liberation Sans',Arial,sans-serif;font-weight:bold;font-size:5px" fill="#2a2a2a" stroke="#2a2a2a" stroke-width="0.18">-128</text><text x="291.7" y="383.9" text-anchor="middle" style="font-family:'Liberation Sans',Arial,sans-serif;font-weight:bold;font-size:5px" fill="#2a2a2a" stroke="#2a2a2a" stroke-width="0.18">-48</text><text x="307.2" y="383.9" text-anchor="middle" style="font-family:'Liberation Sans',Arial,sans-serif;font-weight:bold;font-size:5px" fill="#2a2a2a" stroke="#2a2a2a" stroke-width="0.18">-18</text><text x="322.6" y="383.9" text-anchor="middle" style="font-family:'Liberation Sans',Arial,sans-serif;font-weight:bold;font-size:5px" fill="#2a2a2a" stroke="#2a2a2a" stroke-width="0.18">-6</text><text x="338.0" y="383.9" text-anchor="middle" style="font-family:'Liberation Sans',Arial,sans-serif;font-weight:bold;font-size:5px" fill="#2a2a2a" stroke="#2a2a2a" stroke-width="0.18">-2</text><text x="353.5" y="383.9" text-anchor="middle" style="font-family:'Liberation Sans',Arial,sans-serif;font-weight:bold;font-size:5px" fill="#2a2a2a" stroke="#2a2a2a" stroke-width="0.18">1</text><text x="368.9" y="383.9" text-anchor="middle" style="font-family:'Liberation Sans',Arial,sans-serif;font-weight:bold;font-size:5px" fill="#2a2a2a" stroke="#2a2a2a" stroke-width="0.18">2</text><text x="384.3" y="383.9" text-anchor="middle" style="font-family:'Liberation Sans',Arial,sans-serif;font-weight:bold;font-size:5px" fill="#2a2a2a" stroke="#2a2a2a" stroke-width="0.18">6</text><text x="399.7" y="383.9" text-anchor="middle" style="font-family:'Liberation Sans',Arial,sans-serif;font-weight:bold;font-size:5px" fill="#2a2a2a" stroke="#2a2a2a" stroke-width="0.18">18</text><text x="415.2" y="383.9" text-anchor="middle" style="font-family:'Liberation Sans',Arial,sans-serif;font-weight:bold;font-size:5px" fill="#2a2a2a" stroke="#2a2a2a" stroke-width="0.18">48</text><text x="430.6" y="383.9" text-anchor="middle" style="font-family:'Liberation Sans',Arial,sans-serif;font-weight:bold;font-size:5px" fill="#2a2a2a" stroke="#2a2a2a" stroke-width="0.18">128</text><text x="353.5" y="389.3" text-anchor="middle" style="font-family:'Liberation Sans',Arial,sans-serif;font-weight:bold;font-size:5px" fill="#2a2a2a" stroke="#2a2a2a" stroke-width="0.18">Fold Change</text><text transform="translate(263.0,295.2) rotate(-90)" text-anchor="middle" style="font-family:'Liberation Sans',Arial,sans-serif;font-weight:bold;font-size:5px" fill="#2a2a2a" stroke="#2a2a2a" stroke-width="0.18">P-val (log10)</text><rect x="435.1" y="215" width="8.4" height="37.8" fill="url(#cbC)"/><text x="445.1" y="217.2" style="font-family:'Liberation Sans',Arial,sans-serif;font-weight:bold;font-size:6px" fill="#1e1e1e" stroke="#1e1e1e" stroke-width="0.18">2.0</text><text x="443.70000000000005" y="253.4" style="font-family:'Liberation Sans',Arial,sans-serif;font-weight:bold;font-size:6px" fill="#1e1e1e" stroke="#1e1e1e" stroke-width="0.18">-2.0</text><text x="7.6" y="394.9" style="font-family:'Liberation Sans',Arial,sans-serif;font-weight:bold;font-size:16.2px" fill="#111">D</text><text x="88.6" y="405.6" style="font-family:'Liberation Sans',Arial,sans-serif;font-weight:bold;font-size:6.12px" fill="#111" stroke="#111" stroke-width="0.15">GO Gene Sets Up In Follicular&#160; Phase</text><rect x="141.1" y="416.9" width="10.3" height="8.0" fill="#4472c4"/><path d="M139.5,420.9H141.1" stroke="#000" stroke-width="0.6"/><text x="139.29999999999998" y="422.6" text-anchor="end" style="font-family:'Liberation Sans',Arial,sans-serif;font-size:5.0px" fill="#1a1a1a" stroke="#1a1a1a" stroke-width="0.1">cellular protein metabolic process</text><rect x="141.1" y="427.8" width="10.3" height="8.0" fill="#4472c4"/><path d="M139.5,431.8H141.1" stroke="#000" stroke-width="0.6"/><text x="139.29999999999998" y="433.5" text-anchor="end" style="font-family:'Liberation Sans',Arial,sans-serif;font-size:5.0px" fill="#1a1a1a" stroke="#1a1a1a" stroke-width="0.1">endoplasmic reticulum membrane</text><rect x="141.1" y="438.6" width="14.0" height="8.0" fill="#4472c4"/><path d="M139.5,442.6H141.1" stroke="#000" stroke-width="0.6"/><text x="139.29999999999998" y="444.3" text-anchor="end" style="font-family:'Liberation Sans',Arial,sans-serif;font-size:5.0px" fill="#1a1a1a" stroke="#1a1a1a" stroke-width="0.1">protein N-linked glycosylation via asparagine</text><rect x="141.1" y="449.5" width="16.5" height="8.0" fill="#4472c4"/><path d="M139.5,453.5H141.1" stroke="#000" stroke-width="0.6"/><text x="139.29999999999998" y="455.2" text-anchor="end" style="font-family:'Liberation Sans',Arial,sans-serif;font-size:5.0px" fill="#1a1a1a" stroke="#1a1a1a" stroke-width="0.1">mitochondrial inner membrane</text><rect x="141.1" y="460.4" width="19.9" height="8.0" fill="#4472c4"/><path d="M139.5,464.4H141.1" stroke="#000" stroke-width="0.6"/><text x="139.29999999999998" y="466.1" text-anchor="end" style="font-family:'Liberation Sans',Arial,sans-serif;font-size:5.0px" fill="#1a1a1a" stroke="#1a1a1a" stroke-width="0.1">respiratory electron transport chain</text><rect x="141.1" y="471.2" width="21.1" height="8.0" fill="#4472c4"/><path d="M139.5,475.2H141.1" stroke="#000" stroke-width="0.6"/><text x="139.29999999999998" y="476.9" text-anchor="end" style="font-family:'Liberation Sans',Arial,sans-serif;font-size:5.0px" fill="#1a1a1a" stroke="#1a1a1a" stroke-width="0.1">cellular metabolic process</text><rect x="141.1" y="482.1" width="30.7" height="8.0" fill="#4472c4"/><path d="M139.5,486.1H141.1" stroke="#000" stroke-width="0.6"/><text x="139.29999999999998" y="487.8" text-anchor="end" style="font-family:'Liberation Sans',Arial,sans-serif;font-size:5.0px" fill="#1a1a1a" stroke="#1a1a1a" stroke-width="0.1">G-protein coupled receptor signaling pathway</text><rect x="141.1" y="493.0" width="41.4" height="8.0" fill="#4472c4"/><path d="M139.5,497.0H141.1" stroke="#000" stroke-width="0.6"/><text x="139.29999999999998" y="498.7" text-anchor="end" style="font-family:'Liberation Sans',Arial,sans-serif;font-size:5.0px" fill="#1a1a1a" stroke="#1a1a1a" stroke-width="0.1">G-protein coupled receptor activity</text><rect x="141.1" y="503.9" width="64.0" height="8.0" fill="#4472c4"/><path d="M139.5,507.9H141.1" stroke="#000" stroke-width="0.6"/><text x="139.29999999999998" y="509.6" text-anchor="end" style="font-family:'Liberation Sans',Arial,sans-serif;font-size:5.0px" fill="#1a1a1a" stroke="#1a1a1a" stroke-width="0.1">olfactory receptor activity</text><rect x="141.1" y="514.7" width="64.0" height="8.0" fill="#4472c4"/><path d="M139.5,518.7H141.1" stroke="#000" stroke-width="0.6"/><text x="139.29999999999998" y="520.4" text-anchor="end" style="font-family:'Liberation Sans',Arial,sans-serif;font-size:5.0px" fill="#1a1a1a" stroke="#1a1a1a" stroke-width="0.1">detection of chemical stimulus in sensory perception of smell</text><path d="M141.1,412.3V524.2H224.2" stroke="#000" stroke-width="1" fill="none"/><path d="M141.1,524.2v1.6" stroke="#000" stroke-width="0.6"/><text x="141.1" y="531.0" text-anchor="middle" style="font-family:'Liberation Sans',Arial,sans-serif;font-size:4.8px" fill="#1e1e1e" stroke="#1e1e1e" stroke-width="0.18">0</text><path d="M157.7,524.2v1.6" stroke="#000" stroke-width="0.6"/><text x="157.7" y="531.0" text-anchor="middle" style="font-family:'Liberation Sans',Arial,sans-serif;font-size:4.8px" fill="#1e1e1e" stroke="#1e1e1e" stroke-width="0.18">10</text><path d="M174.3,524.2v1.6" stroke="#000" stroke-width="0.6"/><text x="174.3" y="531.0" text-anchor="middle" style="font-family:'Liberation Sans',Arial,sans-serif;font-size:4.8px" fill="#1e1e1e" stroke="#1e1e1e" stroke-width="0.18">20</text><path d="M191.0,524.2v1.6" stroke="#000" stroke-width="0.6"/><text x="191.0" y="531.0" text-anchor="middle" style="font-family:'Liberation Sans',Arial,sans-serif;font-size:4.8px" fill="#1e1e1e" stroke="#1e1e1e" stroke-width="0.18">30</text><path d="M207.6,524.2v1.6" stroke="#000" stroke-width="0.6"/><text x="207.6" y="531.0" text-anchor="middle" style="font-family:'Liberation Sans',Arial,sans-serif;font-size:4.8px" fill="#1e1e1e" stroke="#1e1e1e" stroke-width="0.18">40</text><path d="M224.2,524.2v1.6" stroke="#000" stroke-width="0.6"/><text x="224.2" y="531.0" text-anchor="middle" style="font-family:'Liberation Sans',Arial,sans-serif;font-size:4.8px" fill="#1e1e1e" stroke="#1e1e1e" stroke-width="0.18">50</text><text x="182.6" y="539.8" text-anchor="middle" style="font-family:'Liberation Sans',Arial,sans-serif;font-weight:bold;font-size:5.2px" fill="#1e1e1e" stroke="#1e1e1e" stroke-width="0.18">-log10 (FDR)</text><text x="301.4" y="396.2" style="font-family:'Liberation Sans',Arial,sans-serif;font-weight:bold;font-size:6px" fill="#111" stroke="#111" stroke-width="0.15">GO Gene Sets Down In Follicular Phase</text><rect x="354.6" y="404.0" width="23.4" height="9.2" fill="#e8383a"/><path d="M353.0,408.6H354.6" stroke="#000" stroke-width="0.6"/><text x="352.8" y="410.3" text-anchor="end" style="font-family:'Liberation Sans',Arial,sans-serif;font-size:4.8px" fill="#1a1a1a" stroke="#1a1a1a" stroke-width="0.1">cell surface receptor signaling pathway</text><rect x="354.6" y="416.1" width="23.6" height="9.2" fill="#e8383a"/><path d="M353.0,420.7H354.6" stroke="#000" stroke-width="0.6"/><text x="352.8" y="422.4" text-anchor="end" style="font-family:'Liberation Sans',Arial,sans-serif;font-size:4.8px" fill="#1a1a1a" stroke="#1a1a1a" stroke-width="0.1">integral component of lumenal side of ER membrane</text><rect x="354.6" y="428.3" width="24.2" height="9.2" fill="#e8383a"/><path d="M353.0,432.9H354.6" stroke="#000" stroke-width="0.6"/><text x="352.8" y="434.6" text-anchor="end" style="font-family:'Liberation Sans',Arial,sans-serif;font-size:4.8px" fill="#1a1a1a" stroke="#1a1a1a" stroke-width="0.1">T cell receptor signaling pathway</text><rect x="354.6" y="440.4" width="33.1" height="9.2" fill="#e8383a"/><path d="M353.0,445.0H354.6" stroke="#000" stroke-width="0.6"/><text x="352.8" y="446.7" text-anchor="end" style="font-family:'Liberation Sans',Arial,sans-serif;font-size:4.8px" fill="#1a1a1a" stroke="#1a1a1a" stroke-width="0.1">MHC class II protein complex</text><rect x="354.6" y="452.6" width="33.1" height="9.2" fill="#e8383a"/><path d="M353.0,457.2H354.6" stroke="#000" stroke-width="0.6"/><text x="352.8" y="458.9" text-anchor="end" style="font-family:'Liberation Sans',Arial,sans-serif;font-size:4.8px" fill="#1a1a1a" stroke="#1a1a1a" stroke-width="0.1">inflammatory response</text><rect x="354.6" y="464.7" width="36.3" height="9.2" fill="#e8383a"/><path d="M353.0,469.3H354.6" stroke="#000" stroke-width="0.6"/><text x="352.8" y="471.0" text-anchor="end" style="font-family:'Liberation Sans',Arial,sans-serif;font-size:4.8px" fill="#1a1a1a" stroke="#1a1a1a" stroke-width="0.1">signal transduction</text><rect x="354.6" y="476.8" width="44.9" height="9.2" fill="#e8383a"/><path d="M353.0,481.4H354.6" stroke="#000" stroke-width="0.6"/><text x="352.8" y="483.1" text-anchor="end" style="font-family:'Liberation Sans',Arial,sans-serif;font-size:4.8px" fill="#1a1a1a" stroke="#1a1a1a" stroke-width="0.1">cytokine-mediated signaling pathway</text><rect x="354.6" y="489.0" width="47.2" height="9.2" fill="#e8383a"/><path d="M353.0,493.6H354.6" stroke="#000" stroke-width="0.6"/><text x="352.8" y="495.3" text-anchor="end" style="font-family:'Liberation Sans',Arial,sans-serif;font-size:4.8px" fill="#1a1a1a" stroke="#1a1a1a" stroke-width="0.1">immune response</text><rect x="354.6" y="501.1" width="51.5" height="9.2" fill="#e8383a"/><path d="M353.0,505.7H354.6" stroke="#000" stroke-width="0.6"/><text x="352.8" y="507.4" text-anchor="end" style="font-family:'Liberation Sans',Arial,sans-serif;font-size:4.8px" fill="#1a1a1a" stroke="#1a1a1a" stroke-width="0.1">innate immune response</text><rect x="354.6" y="513.3" width="60.1" height="9.2" fill="#e8383a"/><path d="M353.0,517.9H354.6" stroke="#000" stroke-width="0.6"/><text x="352.8" y="519.6" text-anchor="end" style="font-family:'Liberation Sans',Arial,sans-serif;font-size:4.8px" fill="#1a1a1a" stroke="#1a1a1a" stroke-width="0.1">interferon-gamma-mediated signaling pathway</text><path d="M354.6,399.3V527.5H432.5" stroke="#000" stroke-width="1" fill="none"/><path d="M354.6,527.5v1.6" stroke="#000" stroke-width="0.6"/><text x="354.6" y="534.3" text-anchor="middle" style="font-family:'Liberation Sans',Arial,sans-serif;font-size:4.8px" fill="#1e1e1e" stroke="#1e1e1e" stroke-width="0.18">0</text><path d="M374.1,527.5v1.6" stroke="#000" stroke-width="0.6"/><text x="374.1" y="534.3" text-anchor="middle" style="font-family:'Liberation Sans',Arial,sans-serif;font-size:4.8px" fill="#1e1e1e" stroke="#1e1e1e" stroke-width="0.18">5</text><path d="M393.6,527.5v1.6" stroke="#000" stroke-width="0.6"/><text x="393.6" y="534.3" text-anchor="middle" style="font-family:'Liberation Sans',Arial,sans-serif;font-size:4.8px" fill="#1e1e1e" stroke="#1e1e1e" stroke-width="0.18">10</text><path d="M413.1,527.5v1.6" stroke="#000" stroke-width="0.6"/><text x="413.1" y="534.3" text-anchor="middle" style="font-family:'Liberation Sans',Arial,sans-serif;font-size:4.8px" fill="#1e1e1e" stroke="#1e1e1e" stroke-width="0.18">15</text><path d="M432.6,527.5v1.6" stroke="#000" stroke-width="0.6"/><text x="432.6" y="534.3" text-anchor="middle" style="font-family:'Liberation Sans',Arial,sans-serif;font-size:4.8px" fill="#1e1e1e" stroke="#1e1e1e" stroke-width="0.18">20</text><text x="393.6" y="543.1" text-anchor="middle" style="font-family:'Liberation Sans',Arial,sans-serif;font-weight:bold;font-size:5.2px" fill="#1e1e1e" stroke="#1e1e1e" stroke-width="0.18">-log10 (FDR)</text></svg></body></html>
